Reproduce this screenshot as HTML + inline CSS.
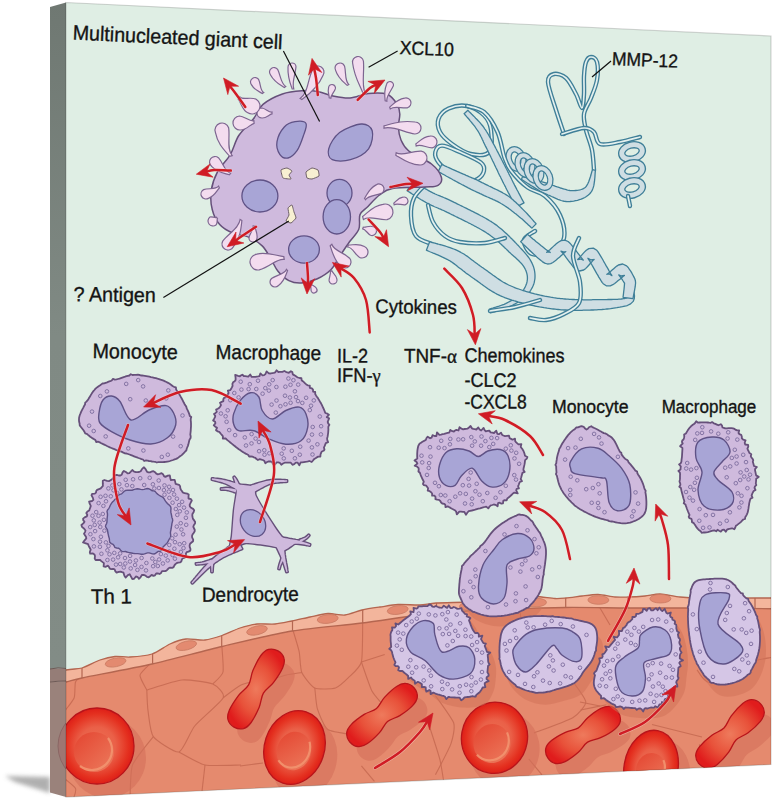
<!DOCTYPE html>
<html><head><meta charset="utf-8"><style>
html,body{margin:0;padding:0;background:#fff;width:772px;height:800px;overflow:hidden}
svg{display:block}
text{font-family:"Liberation Sans",sans-serif;fill:#141414;stroke:#141414;stroke-width:0.35px}
</style></head><body>
<svg width="772" height="800" viewBox="0 0 772 800">
<defs>
<clipPath id="face"><polygon points="66.0,2.5 771.0,36.0 771.0,764.5 66.0,797.0"/></clipPath>
<radialGradient id="rbc" cx="50%" cy="50%" r="50%"><stop offset="0" stop-color="#ec7254"/><stop offset="0.5" stop-color="#ea6048"/><stop offset="0.85" stop-color="#e4301f"/><stop offset="1" stop-color="#de1e18"/></radialGradient>
<linearGradient id="rbcin" x1="0" y1="0" x2="1" y2="1"><stop offset="0" stop-color="#e44430"/><stop offset="1" stop-color="#ec7c5e"/></linearGradient>
<radialGradient id="caps" cx="50%" cy="50%" r="55%"><stop offset="0" stop-color="#ee7a5c"/><stop offset="0.55" stop-color="#e8523a"/><stop offset="1" stop-color="#e01c1c"/></radialGradient>
<linearGradient id="shadowg" x1="0" y1="0" x2="1" y2="0"><stop offset="0" stop-color="#fff" stop-opacity="0"/><stop offset="1" stop-color="#888" stop-opacity="0.5"/></linearGradient>
<filter id="blur4" x="-50%" y="-50%" width="200%" height="200%"><feGaussianBlur stdDeviation="4"/></filter>
</defs>
<rect width="772" height="800" fill="#ffffff"/>
<filter id="blur2" x="-50%" y="-50%" width="200%" height="200%"><feGaussianBlur stdDeviation="2"/></filter>
<path d="M5,776 L50,777 L50,793 L15,782 Z" fill="#9c9c9c" opacity="0.8" filter="url(#blur2)"/>
<linearGradient id="sideg" x1="0" y1="0" x2="0" y2="1"><stop offset="0" stop-color="#6f7872"/><stop offset="0.5" stop-color="#808a84"/><stop offset="1" stop-color="#828c86"/></linearGradient>
<polygon points="50,7 66,2.5 66,668.5 50,669" fill="url(#sideg)"/>
<polygon points="50,669 66,668.5 66,681 50,682" fill="#957d77"/>
<polygon points="50,682 66,681 66,797 50,792.6" fill="#9a827b"/>
<path d="M50,669 Q58,667 66,668.5 M50,682 Q58,681 66,681" stroke="#6e5a56" stroke-width="1" fill="none"/>
<clipPath id="side"><polygon points="50,7 66,2.5 66,797 50,792.6"/></clipPath>
<g clip-path="url(#side)"><ellipse cx="97" cy="746" rx="39" ry="38" fill="#9e7672"/><ellipse cx="97" cy="746" rx="39" ry="38" fill="none" stroke="#8a6664" stroke-width="1"/></g>
<g clip-path="url(#face)">
<rect x="0" y="0" width="772" height="800" fill="#dfeee4"/>
<path d="M30.0,678.0 C34.8,676.9 59.1,671.3 66.0,670.0 C72.9,668.7 77.5,669.3 82.0,668.0 C86.5,666.7 95.6,661.5 100.0,660.0 C104.4,658.5 111.0,656.9 115.0,656.5 C119.0,656.1 125.1,657.3 130.0,657.0 C134.9,656.7 146.7,655.7 152.0,654.0 C157.3,652.3 165.5,646.0 170.0,644.0 C174.5,642.0 181.3,639.5 186.0,639.0 C190.7,638.5 200.2,640.5 205.0,640.0 C209.8,639.5 217.3,637.1 222.0,635.5 C226.7,633.9 235.3,629.5 240.0,628.0 C244.7,626.5 252.3,624.5 257.0,624.0 C261.7,623.5 270.3,624.4 275.0,624.0 C279.7,623.6 287.3,621.9 292.0,621.0 C296.7,620.1 305.2,618.0 310.0,617.0 C314.8,616.0 323.3,613.8 328.0,613.5 C332.7,613.2 340.5,615.5 345.0,615.0 C349.5,614.5 357.3,611.1 362.0,610.0 C366.7,608.9 375.2,607.7 380.0,607.0 C384.8,606.3 392.7,604.8 398.0,604.5 C403.3,604.2 414.9,605.2 420.0,605.0 C425.1,604.8 429.3,603.4 436.0,603.0 C442.7,602.6 461.5,602.4 470.0,602.0 C478.5,601.6 493.3,600.5 500.0,600.0 C506.7,599.5 515.2,598.5 520.0,598.0 C524.8,597.5 531.3,596.4 536.0,596.5 C540.7,596.6 551.0,598.3 555.0,598.5 C559.0,598.7 562.4,598.3 566.0,598.0 C569.6,597.7 577.7,596.5 582.0,596.0 C586.3,595.5 593.6,594.4 598.0,594.5 C602.4,594.6 611.0,596.7 615.0,597.0 C619.0,597.3 624.0,597.1 628.0,597.0 C632.0,596.9 640.7,596.4 645.0,596.0 C649.3,595.6 655.3,593.9 660.0,594.0 C664.7,594.1 674.7,596.5 680.0,597.0 C685.3,597.5 690.0,597.9 700.0,598.0 C710.0,598.1 743.0,598.0 755.0,598.0 C767.0,598.0 785.3,598.0 790.0,598.0 L780,810 L30,810 Z" fill="#e58a6e"/>
<path d="M152.0,662.0 C150.8,663.3 140.5,672.2 140.0,675.0 C139.5,677.8 146.1,688.5 146.8,690.0" fill="none" stroke="#c66a52" stroke-width="1.1" opacity="0.9"/>
<path d="M146.8,690.0 C150.3,689.0 175.2,680.6 181.8,680.0 C188.4,679.4 208.7,682.2 212.8,684.0 C216.9,685.8 225.0,693.5 223.2,697.7 C221.4,701.9 199.1,720.6 194.7,726.0 C190.3,731.4 183.1,750.9 179.0,752.0 C174.9,753.1 156.4,740.7 153.3,736.6 C150.2,732.5 148.7,715.4 148.0,710.7 C147.3,706.0 146.9,692.1 146.8,690.0" fill="none" stroke="#c66a52" stroke-width="1.1" opacity="0.9"/>
<path d="M221.7,644.0 C221.8,646.8 223.9,668.0 223.0,672.0 C222.1,676.0 213.8,682.8 212.8,684.0" fill="none" stroke="#c66a52" stroke-width="1.1" opacity="0.9"/>
<path d="M223.2,697.7 C225.0,696.4 237.3,686.8 241.0,685.0 C244.7,683.2 258.1,680.5 260.0,680.0" fill="none" stroke="#c66a52" stroke-width="1.1" opacity="0.9"/>
<path d="M179.0,752.0 C181.6,753.3 198.8,763.7 205.0,765.0 C211.2,766.3 237.4,765.0 241.0,765.0" fill="none" stroke="#c66a52" stroke-width="1.1" opacity="0.9"/>
<path d="M205.0,765.0 C204.6,768.5 201.4,796.5 201.0,800.0" fill="none" stroke="#c66a52" stroke-width="1.1" opacity="0.9"/>
<path d="M153.3,736.6 C151.2,739.4 134.8,758.7 132.5,765.0 C130.2,771.3 130.2,796.5 130.0,800.0" fill="none" stroke="#c66a52" stroke-width="1.1" opacity="0.9"/>
<path d="M82.0,676.0 C81.3,676.6 76.3,679.8 75.5,682.0 C74.7,684.2 75.2,694.8 74.2,697.7 C73.2,700.6 65.9,709.4 65.0,710.7" fill="none" stroke="#c66a52" stroke-width="1.1" opacity="0.9"/>
<path d="M60.0,775.0 C61.5,776.3 74.2,785.9 75.5,788.4 C76.8,790.9 73.2,798.8 73.0,800.0" fill="none" stroke="#c66a52" stroke-width="1.1" opacity="0.9"/>
<path d="M292.5,628.7 C293.2,631.0 298.3,647.4 299.2,651.8 C300.1,656.2 300.2,668.9 301.8,672.5 C303.4,676.1 311.4,686.5 314.8,688.0 C318.2,689.5 332.1,689.0 335.5,688.0 C338.9,687.0 345.8,680.3 348.4,677.7 C351.0,675.1 360.0,667.8 361.4,662.0 C362.8,656.2 362.6,624.2 362.7,620.0" fill="none" stroke="#c66a52" stroke-width="1.1" opacity="0.9"/>
<path d="M361.4,662.0 C363.7,661.2 382.4,655.2 384.7,654.4" fill="none" stroke="#c66a52" stroke-width="1.1" opacity="0.9"/>
<path d="M301.8,672.5 C300.2,672.8 289.5,674.2 286.3,675.0 C283.1,675.8 271.6,679.5 270.0,680.0" fill="none" stroke="#c66a52" stroke-width="1.1" opacity="0.9"/>
<path d="M314.8,688.0 C315.1,690.1 316.1,704.6 317.4,708.8 C318.7,712.9 324.1,726.9 327.7,729.5 C331.3,732.1 351.0,734.2 353.6,734.7" fill="none" stroke="#c66a52" stroke-width="1.1" opacity="0.9"/>
<path d="M361.4,662.0 C362.4,664.9 369.7,686.5 371.8,690.7 C373.9,694.9 381.0,702.3 382.0,703.6" fill="none" stroke="#c66a52" stroke-width="1.1" opacity="0.9"/>
<path d="M240.0,766.0 C242.3,765.7 260.7,763.3 263.0,763.0" fill="none" stroke="#c66a52" stroke-width="1.1" opacity="0.9"/>
<path d="M361.4,765.8 C362.7,767.3 373.1,779.8 374.4,781.3" fill="none" stroke="#c66a52" stroke-width="1.1" opacity="0.9"/>
<path d="M428.8,724.4 C429.9,728.0 438.4,753.4 440.0,760.0 C441.6,766.6 444.5,787.0 445.0,790.0" fill="none" stroke="#c66a52" stroke-width="1.1" opacity="0.9"/>
<path d="M435.5,695.7 C437.3,698.4 452.1,718.2 453.7,723.0 C455.2,727.8 452.8,738.4 451.0,743.6 C449.2,748.8 437.1,771.6 435.5,774.7" fill="none" stroke="#c66a52" stroke-width="1.1" opacity="0.9"/>
<path d="M534.0,733.0 C537.9,731.5 567.6,720.8 572.8,717.7 C578.0,714.6 585.8,705.6 585.8,702.0 C585.8,698.4 574.1,683.5 572.8,681.5" fill="none" stroke="#c66a52" stroke-width="1.1" opacity="0.9"/>
<path d="M580.6,710.0 C583.2,709.5 603.9,705.3 606.5,704.8" fill="none" stroke="#c66a52" stroke-width="1.1" opacity="0.9"/>
<path d="M528.8,759.0 C530.1,760.6 540.5,773.1 541.8,774.7" fill="none" stroke="#c66a52" stroke-width="1.1" opacity="0.9"/>
<path d="M580.0,702.0 C582.0,702.4 598.0,705.6 600.0,706.0" fill="none" stroke="#c66a52" stroke-width="1.1" opacity="0.9"/>
<path d="M652.0,724.5 C657.0,725.8 697.0,735.8 702.0,737.0" fill="none" stroke="#c66a52" stroke-width="1.1" opacity="0.9"/>
<path d="M697.0,669.8 C698.2,671.0 704.2,683.0 709.4,682.2 C714.6,681.5 742.7,664.8 749.0,662.3 C755.3,659.8 769.7,657.8 772.0,657.3" fill="none" stroke="#c66a52" stroke-width="1.1" opacity="0.9"/>
<path d="M699.4,744.4 C699.9,746.9 703.9,766.5 704.4,769.0" fill="none" stroke="#c66a52" stroke-width="1.1" opacity="0.9"/>
<path d="M600.0,608.0 C601.0,609.7 609.0,623.3 610.0,625.0" fill="none" stroke="#c66a52" stroke-width="1.1" opacity="0.9"/>
<path d="M520.0,612.0 C520.2,613.3 521.8,623.7 522.0,625.0" fill="none" stroke="#c66a52" stroke-width="1.1" opacity="0.9"/>
<path d="M30.0,678.0 C34.8,676.9 59.1,671.3 66.0,670.0 C72.9,668.7 77.5,669.3 82.0,668.0 C86.5,666.7 95.6,661.5 100.0,660.0 C104.4,658.5 111.0,656.9 115.0,656.5 C119.0,656.1 125.1,657.3 130.0,657.0 C134.9,656.7 146.7,655.7 152.0,654.0 C157.3,652.3 165.5,646.0 170.0,644.0 C174.5,642.0 181.3,639.5 186.0,639.0 C190.7,638.5 200.2,640.5 205.0,640.0 C209.8,639.5 217.3,637.1 222.0,635.5 C226.7,633.9 235.3,629.5 240.0,628.0 C244.7,626.5 252.3,624.5 257.0,624.0 C261.7,623.5 270.3,624.4 275.0,624.0 C279.7,623.6 287.3,621.9 292.0,621.0 C296.7,620.1 305.2,618.0 310.0,617.0 C314.8,616.0 323.3,613.8 328.0,613.5 C332.7,613.2 340.5,615.5 345.0,615.0 C349.5,614.5 357.3,611.1 362.0,610.0 C366.7,608.9 375.2,607.7 380.0,607.0 C384.8,606.3 392.7,604.8 398.0,604.5 C403.3,604.2 414.9,605.2 420.0,605.0 C425.1,604.8 429.3,603.4 436.0,603.0 C442.7,602.6 461.5,602.4 470.0,602.0 C478.5,601.6 493.3,600.5 500.0,600.0 C506.7,599.5 515.2,598.5 520.0,598.0 C524.8,597.5 531.3,596.4 536.0,596.5 C540.7,596.6 551.0,598.3 555.0,598.5 C559.0,598.7 562.4,598.3 566.0,598.0 C569.6,597.7 577.7,596.5 582.0,596.0 C586.3,595.5 593.6,594.4 598.0,594.5 C602.4,594.6 611.0,596.7 615.0,597.0 C619.0,597.3 624.0,597.1 628.0,597.0 C632.0,596.9 640.7,596.4 645.0,596.0 C649.3,595.6 655.3,593.9 660.0,594.0 C664.7,594.1 674.7,596.5 680.0,597.0 C685.3,597.5 690.0,597.9 700.0,598.0 C710.0,598.1 743.0,598.0 755.0,598.0 C767.0,598.0 785.3,598.0 790.0,598.0 L790.0,609.0 C778.0,608.9 721.6,608.1 700.0,608.0 C678.4,607.9 645.9,608.1 628.0,608.0 C610.1,607.9 583.1,607.3 566.0,607.5 C548.9,607.7 517.3,608.8 500.0,609.5 C482.7,610.2 454.4,611.2 436.0,613.0 C417.6,614.8 381.2,620.6 362.0,623.0 C342.8,625.4 310.7,627.9 292.0,631.0 C273.3,634.1 240.7,642.1 222.0,646.5 C203.3,650.9 170.7,659.8 152.0,664.0 C133.3,668.2 93.5,675.6 82.0,678.0 C70.5,680.4 72.9,680.3 66.0,682.0 C59.1,683.7 34.8,689.8 30.0,691.0 Z" fill="#f3b59c" stroke="#b46650" stroke-width="1.3"/>
<line x1="82.0" y1="668.0" x2="82.0" y2="678.0" stroke="#b46650" stroke-width="1.2"/>
<line x1="152.6" y1="653.7" x2="152.6" y2="663.9" stroke="#b46650" stroke-width="1.2"/>
<line x1="221.7" y1="635.6" x2="221.7" y2="646.6" stroke="#b46650" stroke-width="1.2"/>
<line x1="292.5" y1="620.9" x2="292.5" y2="630.9" stroke="#b46650" stroke-width="1.2"/>
<line x1="362.7" y1="609.9" x2="362.7" y2="622.9" stroke="#b46650" stroke-width="1.2"/>
<line x1="436.5" y1="603.0" x2="436.5" y2="613.0" stroke="#b46650" stroke-width="1.2"/>
<line x1="500.0" y1="600.0" x2="500.0" y2="609.5" stroke="#b46650" stroke-width="1.2"/>
<line x1="565.7" y1="598.0" x2="565.7" y2="607.5" stroke="#b46650" stroke-width="1.2"/>
<line x1="627.7" y1="597.0" x2="627.7" y2="608.0" stroke="#b46650" stroke-width="1.2"/>
<line x1="755.0" y1="598.0" x2="755.0" y2="608.6" stroke="#b46650" stroke-width="1.2"/>
<ellipse cx="115.6" cy="662.4" rx="10.5" ry="4.3" fill="#e38a70" stroke="#c97a62" stroke-width="0.8" transform="rotate(-11.3 115.6 662.4)"/>
<ellipse cx="186.3" cy="645.6" rx="10.5" ry="4.3" fill="#e38a70" stroke="#c97a62" stroke-width="0.8" transform="rotate(-14.0 186.3 645.6)"/>
<ellipse cx="257.0" cy="630.4" rx="10.5" ry="4.3" fill="#e38a70" stroke="#c97a62" stroke-width="0.8" transform="rotate(-12.5 257.0 630.4)"/>
<ellipse cx="327.7" cy="619.0" rx="10.5" ry="4.3" fill="#e38a70" stroke="#c97a62" stroke-width="0.8" transform="rotate(-6.5 327.7 619.0)"/>
<ellipse cx="397.7" cy="610.0" rx="10.5" ry="4.3" fill="#e38a70" stroke="#c97a62" stroke-width="0.8" transform="rotate(-7.7 397.7 610.0)"/>
<ellipse cx="470.0" cy="606.0" rx="10.5" ry="4.3" fill="#e38a70" stroke="#c97a62" stroke-width="0.8" transform="rotate(-3.1 470.0 606.0)"/>
<ellipse cx="536.0" cy="602.6" rx="10.5" ry="4.3" fill="#e38a70" stroke="#c97a62" stroke-width="0.8" transform="rotate(-1.7 536.0 602.6)"/>
<ellipse cx="598.4" cy="600.0" rx="10.5" ry="4.3" fill="#e38a70" stroke="#c97a62" stroke-width="0.8" transform="rotate(0.5 598.4 600.0)"/>
<ellipse cx="660.4" cy="598.7" rx="10.5" ry="4.3" fill="#e38a70" stroke="#c97a62" stroke-width="0.8" transform="rotate(0.0 660.4 598.7)"/>
<ellipse cx="107.0" cy="758.0" rx="39.0" ry="40.0" fill="#d3705a" opacity="0.6" transform="rotate(0 107.0 758.0)"/><ellipse cx="97.0" cy="746.0" rx="37.0" ry="38.0" fill="url(#rbc)" stroke="#b8141a" stroke-width="1.3" transform="rotate(0 97.0 746.0)"/><ellipse cx="94.0" cy="752.0" rx="20.0" ry="20.0" fill="url(#rbcin)" transform="rotate(0 94.0 752.0)"/><path d="M108.0,738.0 A20.0,20.0 0 0 1 80.0,766.0" fill="none" stroke="#f2946f" stroke-width="2.2" opacity="0.9" transform="rotate(0 94.0 752.0)"/>
<path d="M261.8,736.3 C264.4,732.8 267.6,726.0 269.7,721.3 C271.8,716.5 271.9,711.8 274.2,707.8 C276.6,703.7 280.6,701.3 283.7,697.1 C286.8,692.9 291.0,686.7 292.8,682.7 C294.5,678.6 295.1,675.7 294.3,672.7 C293.5,669.8 290.7,666.5 288.0,664.9 C285.3,663.3 281.0,662.6 278.1,663.4 C275.1,664.2 272.9,666.1 270.2,669.7 C267.6,673.2 264.4,680.0 262.3,684.7 C260.2,689.5 260.1,694.2 257.8,698.2 C255.4,702.3 251.4,704.7 248.3,708.9 C245.2,713.1 241.0,719.3 239.2,723.3 C237.5,727.4 236.9,730.3 237.7,733.3 C238.5,736.2 241.3,739.5 244.0,741.1 C246.7,742.7 251.0,743.4 253.9,742.6 C256.9,741.8 259.1,739.9 261.8,736.3Z" fill="#d3705a" opacity="0.6"/><path d="M251.1,722.5 C253.7,719.0 257.1,712.1 259.2,707.2 C261.2,702.3 261.0,697.3 263.4,693.2 C265.7,689.2 270.2,686.9 273.4,682.7 C276.6,678.4 280.8,672.0 282.6,668.0 C284.4,663.9 284.8,661.3 284.0,658.4 C283.3,655.6 280.6,652.4 278.0,650.9 C275.4,649.4 271.3,648.7 268.5,649.4 C265.6,650.2 263.5,651.9 260.9,655.5 C258.3,659.0 254.9,665.9 252.8,670.8 C250.8,675.7 251.0,680.7 248.6,684.8 C246.3,688.8 241.8,691.1 238.6,695.3 C235.4,699.6 231.2,706.0 229.4,710.0 C227.6,714.1 227.2,716.7 228.0,719.6 C228.7,722.4 231.4,725.6 234.0,727.1 C236.6,728.6 240.7,729.3 243.5,728.6 C246.4,727.8 248.5,726.1 251.1,722.5Z" fill="url(#caps)" stroke="#b8141a" stroke-width="1.3"/>
<ellipse cx="304.5" cy="759.5" rx="32.0" ry="39.5" fill="#d3705a" opacity="0.6" transform="rotate(18 304.5 759.5)"/><ellipse cx="294.5" cy="747.5" rx="30.0" ry="37.5" fill="url(#rbc)" stroke="#b8141a" stroke-width="1.3" transform="rotate(18 294.5 747.5)"/><ellipse cx="294.0" cy="751.0" rx="17.0" ry="19.5" fill="url(#rbcin)" transform="rotate(18 294.0 751.0)"/><path d="M305.9,737.4 A17.0,19.5 0 0 1 282.1,764.6" fill="none" stroke="#f2946f" stroke-width="2.2" opacity="0.9" transform="rotate(18 294.0 751.0)"/>
<path d="M378.1,757.6 C381.7,755.3 386.6,750.4 389.9,746.8 C393.3,743.3 394.8,739.1 398.1,736.3 C401.4,733.5 405.9,732.7 409.9,730.1 C414.0,727.4 419.7,723.4 422.6,720.3 C425.5,717.2 427.1,714.6 427.4,711.5 C427.7,708.5 426.2,704.4 424.2,702.0 C422.2,699.6 418.4,697.4 415.4,697.2 C412.3,696.9 409.4,698.1 405.9,700.4 C402.3,702.7 397.4,707.6 394.1,711.2 C390.7,714.7 389.2,718.9 385.9,721.7 C382.6,724.5 378.1,725.3 374.1,727.9 C370.0,730.6 364.3,734.6 361.4,737.7 C358.5,740.8 356.9,743.4 356.6,746.5 C356.3,749.5 357.8,753.6 359.8,756.0 C361.8,758.4 365.6,760.6 368.6,760.8 C371.7,761.1 374.6,759.9 378.1,757.6Z" fill="#d3705a" opacity="0.6"/><path d="M367.4,743.5 C371.0,741.2 376.1,736.3 379.5,732.6 C382.8,729.0 384.1,724.4 387.5,721.5 C390.9,718.7 395.6,718.2 399.8,715.6 C404.0,712.9 409.7,708.7 412.6,705.6 C415.5,702.5 417.0,700.1 417.3,697.1 C417.5,694.2 416.1,690.3 414.2,688.0 C412.2,685.7 408.6,683.6 405.7,683.4 C402.8,683.1 400.1,684.1 396.6,686.5 C393.0,688.8 387.9,693.7 384.5,697.4 C381.2,701.0 379.9,705.6 376.5,708.5 C373.1,711.3 368.4,711.8 364.2,714.4 C360.0,717.1 354.3,721.3 351.4,724.4 C348.5,727.5 347.0,729.9 346.7,732.9 C346.5,735.8 347.9,739.7 349.8,742.0 C351.8,744.3 355.4,746.4 358.3,746.6 C361.2,746.9 363.9,745.9 367.4,743.5Z" fill="url(#caps)" stroke="#b8141a" stroke-width="1.3"/>
<ellipse cx="504.5" cy="749.7" rx="35.0" ry="37.7" fill="#d3705a" opacity="0.6" transform="rotate(10 504.5 749.7)"/><ellipse cx="494.5" cy="737.7" rx="33.0" ry="35.7" fill="url(#rbc)" stroke="#b8141a" stroke-width="1.3" transform="rotate(10 494.5 737.7)"/><ellipse cx="492.0" cy="743.5" rx="18.5" ry="19.5" fill="url(#rbcin)" transform="rotate(10 492.0 743.5)"/><path d="M504.9,729.9 A18.5,19.5 0 0 1 479.1,757.1" fill="none" stroke="#f2946f" stroke-width="2.2" opacity="0.9" transform="rotate(10 492.0 743.5)"/>
<path d="M575.8,775.7 C579.6,773.8 585.0,769.6 588.8,766.5 C592.5,763.3 594.5,759.3 598.2,757.0 C601.8,754.6 606.3,754.4 610.7,752.3 C615.0,750.1 621.1,746.8 624.4,744.1 C627.7,741.4 629.6,739.0 630.3,736.0 C630.9,733.0 629.9,728.7 628.2,726.1 C626.5,723.5 623.1,720.9 620.1,720.3 C617.1,719.6 614.1,720.4 610.2,722.3 C606.4,724.2 601.0,728.4 597.2,731.5 C593.5,734.7 591.5,738.7 587.8,741.0 C584.2,743.4 579.7,743.6 575.3,745.7 C571.0,747.9 564.9,751.2 561.6,753.9 C558.3,756.6 556.4,759.0 555.7,762.0 C555.1,765.0 556.1,769.3 557.8,771.9 C559.5,774.5 562.9,777.1 565.9,777.7 C568.9,778.4 571.9,777.6 575.8,775.7Z" fill="#d3705a" opacity="0.6"/><path d="M565.1,761.6 C568.9,759.7 574.6,755.4 578.3,752.2 C582.1,749.0 583.9,744.5 587.6,742.1 C591.3,739.7 596.1,739.8 600.6,737.7 C605.1,735.6 611.3,732.1 614.5,729.4 C617.8,726.7 619.6,724.5 620.2,721.6 C620.8,718.7 619.9,714.6 618.2,712.1 C616.6,709.6 613.3,707.1 610.4,706.5 C607.5,705.9 604.7,706.6 600.9,708.4 C597.1,710.3 591.4,714.6 587.7,717.8 C583.9,721.0 582.1,725.5 578.4,727.9 C574.7,730.3 569.9,730.2 565.4,732.3 C560.9,734.4 554.7,737.9 551.5,740.6 C548.2,743.3 546.4,745.5 545.8,748.4 C545.2,751.3 546.1,755.4 547.8,757.9 C549.4,760.4 552.7,762.9 555.6,763.5 C558.5,764.1 561.3,763.4 565.1,761.6Z" fill="url(#caps)" stroke="#b8141a" stroke-width="1.3"/>
<ellipse cx="661.0" cy="780.0" rx="29.0" ry="40.0" fill="#d3705a" opacity="0.6" transform="rotate(10 661.0 780.0)"/><ellipse cx="651.0" cy="768.0" rx="27.0" ry="38.0" fill="url(#rbc)" stroke="#b8141a" stroke-width="1.3" transform="rotate(10 651.0 768.0)"/><ellipse cx="651.0" cy="770.0" rx="15.0" ry="17.0" fill="url(#rbcin)" transform="rotate(10 651.0 770.0)"/><path d="M661.5,758.1 A15.0,17.0 0 0 1 640.5,781.9" fill="none" stroke="#f2946f" stroke-width="2.2" opacity="0.9" transform="rotate(10 651.0 770.0)"/>
<path d="M728.0,778.4 C731.4,775.7 736.1,770.2 739.2,766.3 C742.3,762.3 743.5,757.9 746.7,754.7 C749.9,751.5 754.3,750.3 758.3,747.2 C762.2,744.1 767.7,739.4 770.4,736.0 C773.1,732.6 774.5,729.9 774.5,726.8 C774.5,723.7 772.6,719.8 770.4,717.6 C768.2,715.4 764.3,713.5 761.2,713.5 C758.1,713.5 755.4,714.9 752.0,717.6 C748.6,720.3 743.9,725.8 740.8,729.7 C737.7,733.7 736.5,738.1 733.3,741.3 C730.1,744.5 725.7,745.7 721.7,748.8 C717.8,751.9 712.3,756.6 709.6,760.0 C706.9,763.4 705.5,766.1 705.5,769.2 C705.5,772.3 707.4,776.2 709.6,778.4 C711.8,780.6 715.7,782.5 718.8,782.5 C721.9,782.5 724.6,781.1 728.0,778.4Z" fill="#d3705a" opacity="0.6"/><path d="M717.3,764.4 C720.6,761.7 725.6,756.2 728.7,752.1 C731.8,748.0 732.8,743.2 736.0,740.0 C739.2,736.8 744.0,735.8 748.1,732.7 C752.2,729.6 757.7,724.6 760.4,721.3 C763.1,717.9 764.3,715.4 764.3,712.4 C764.3,709.5 762.5,705.7 760.4,703.6 C758.3,701.5 754.5,699.7 751.6,699.7 C748.6,699.7 746.1,700.9 742.7,703.6 C739.4,706.3 734.4,711.8 731.3,715.9 C728.2,720.0 727.2,724.8 724.0,728.0 C720.8,731.2 716.0,732.2 711.9,735.3 C707.8,738.4 702.3,743.4 699.6,746.7 C696.9,750.1 695.7,752.6 695.7,755.6 C695.7,758.5 697.5,762.3 699.6,764.4 C701.7,766.5 705.5,768.3 708.4,768.3 C711.4,768.3 713.9,767.1 717.3,764.4Z" fill="url(#caps)" stroke="#b8141a" stroke-width="1.3"/>
<clipPath id="tissueclip"><path d="M30.0,691.0 C34.8,689.8 59.1,683.7 66.0,682.0 C72.9,680.3 70.5,680.4 82.0,678.0 C93.5,675.6 133.3,668.2 152.0,664.0 C170.7,659.8 203.3,650.9 222.0,646.5 C240.7,642.1 273.3,634.1 292.0,631.0 C310.7,627.9 342.8,625.4 362.0,623.0 C381.2,620.6 417.6,614.8 436.0,613.0 C454.4,611.2 482.7,610.2 500.0,609.5 C517.3,608.8 548.9,607.7 566.0,607.5 C583.1,607.3 610.1,607.9 628.0,608.0 C645.9,608.1 678.4,607.9 700.0,608.0 C721.6,608.1 778.0,608.9 790.0,609.0 L780,810 L30,810 Z"/></clipPath>
<g clip-path="url(#tissueclip)" fill="#d2735a" opacity="0.55">
<path d="M390.7,634.9 C391.2,629.7 392.8,629.9 396.4,626.3 C400.0,622.7 407.8,616.8 412.1,613.5 C416.4,610.2 417.0,607.4 422.0,606.4 C427.0,605.4 435.8,607.3 442.0,607.8 C448.2,608.3 454.8,607.5 459.1,609.2 C463.4,610.9 465.2,614.2 467.6,617.8 C470.0,621.4 470.9,626.8 473.3,630.6 C475.7,634.4 479.5,636.6 481.9,640.6 C484.3,644.6 486.7,649.8 487.6,654.8 C488.6,659.8 488.1,665.8 487.6,670.5 C487.1,675.2 486.6,679.3 484.7,683.3 C482.8,687.3 480.9,692.3 476.2,694.7 C471.4,697.1 463.1,697.8 456.2,697.6 C449.3,697.4 440.8,695.7 434.9,693.3 C429.0,690.9 425.8,686.8 420.6,683.3 C415.4,679.8 408.0,676.3 403.5,672.0 C399.0,667.7 395.6,663.9 393.5,657.7 C391.4,651.5 390.2,640.1 390.7,634.9Z" transform="translate(8 10)"/>
<path d="M503.9,628.0 C506.5,624.5 510.8,622.2 515.5,620.2 C520.2,618.2 525.3,616.8 532.4,616.3 C539.5,615.8 550.8,616.4 558.3,617.0 C565.8,617.6 571.9,618.8 577.7,620.2 C583.5,621.6 590.0,622.4 593.3,625.4 C596.5,628.4 597.2,632.9 597.2,638.3 C597.2,643.7 595.5,652.3 593.3,657.7 C591.1,663.1 587.2,666.6 584.2,670.7 C581.2,674.8 579.4,679.4 575.1,682.4 C570.8,685.4 564.3,687.1 558.3,688.8 C552.3,690.5 545.4,692.9 538.9,692.7 C532.4,692.5 525.0,690.5 519.4,687.5 C513.8,684.5 508.4,679.1 505.2,674.6 C502.0,670.1 500.9,665.9 500.0,660.3 C499.1,654.7 499.4,646.4 500.0,641.0 C500.6,635.6 501.3,631.5 503.9,628.0Z" transform="translate(6 12)"/>
<path d="M639.5,613.5 C643.2,611.2 645.8,610.8 650.0,610.5 C654.2,610.2 661.0,610.0 665.0,612.0 C669.0,614.0 671.8,618.2 674.0,622.5 C676.2,626.8 677.5,632.5 678.5,637.5 C679.5,642.5 680.0,647.5 680.0,652.5 C680.0,657.5 679.2,662.2 678.5,667.5 C677.8,672.8 678.2,678.2 675.5,684.0 C672.8,689.8 666.8,698.0 662.0,702.0 C657.2,706.0 654.0,707.2 647.0,708.0 C640.0,708.8 627.0,708.0 620.0,706.5 C613.0,705.0 609.2,702.2 605.0,699.0 C600.8,695.8 596.0,691.5 594.5,687.0 C593.0,682.5 594.2,677.8 596.0,672.0 C597.8,666.2 601.5,658.2 605.0,652.5 C608.5,646.8 613.2,642.2 617.0,637.5 C620.8,632.8 623.8,628.0 627.5,624.0 C631.2,620.0 635.8,615.8 639.5,613.5Z" transform="translate(8 10)"/>
<path d="M695.0,582.0 C698.3,579.2 704.5,579.3 710.0,579.0 C715.5,578.7 723.0,577.8 728.0,580.0 C733.0,582.2 736.0,587.7 740.0,592.0 C744.0,596.3 748.8,600.3 752.0,606.0 C755.2,611.7 757.8,618.7 759.0,626.0 C760.2,633.3 760.5,642.3 759.0,650.0 C757.5,657.7 753.8,666.7 750.0,672.0 C746.2,677.3 741.7,680.0 736.0,682.0 C730.3,684.0 721.7,685.7 716.0,684.0 C710.3,682.3 706.0,677.7 702.0,672.0 C698.0,666.3 694.3,658.7 692.0,650.0 C689.7,641.3 688.3,629.0 688.0,620.0 C687.7,611.0 688.8,602.3 690.0,596.0 C691.2,589.7 691.7,584.8 695.0,582.0Z" transform="translate(6 12)"/>
<path d="M459.0,589.0 C459.2,584.0 460.2,573.2 462.0,568.0 C463.8,562.8 466.0,561.5 469.5,557.5 C473.0,553.5 478.8,548.8 483.0,544.0 C487.2,539.2 490.0,533.5 495.0,529.0 C500.0,524.5 508.0,519.2 513.0,517.0 C518.0,514.8 521.5,514.2 525.0,515.5 C528.5,516.8 531.0,520.5 534.0,524.5 C537.0,528.5 541.0,534.8 543.0,539.5 C545.0,544.2 546.0,546.8 546.0,553.0 C546.0,559.2 544.0,570.5 543.0,577.0 C542.0,583.5 542.5,587.0 540.0,592.0 C537.5,597.0 533.0,603.2 528.0,607.0 C523.0,610.8 516.8,613.0 510.0,614.5 C503.2,616.0 494.5,617.0 487.5,616.0 C480.5,615.0 472.5,611.5 468.0,608.5 C463.5,605.5 462.0,601.2 460.5,598.0 C459.0,594.8 458.8,594.0 459.0,589.0Z" transform="translate(6 10)"/>
</g>
<path d="M390.4,634.9 L390.9,632.6 L391.6,631.1 L392.4,630.0 L392.0,627.3 L394.7,627.7 L396.1,626.0 L395.4,623.4 L398.3,624.5 L399.5,623.5 L400.7,622.5 L402.0,621.4 L403.3,620.3 L404.7,619.3 L406.0,618.2 L407.4,617.2 L408.7,616.2 L409.9,615.2 L410.9,614.1 L410.3,611.3 L413.5,612.2 L413.8,610.2 L413.5,607.8 L416.5,608.7 L417.6,608.0 L418.4,606.4 L420.1,606.3 L422.0,606.4 L423.2,606.2 L424.5,606.1 L426.0,606.1 L427.5,606.2 L429.2,604.5 L430.9,604.9 L432.4,606.7 L434.1,606.9 L435.9,606.0 L437.4,606.8 L439.0,607.5 L440.5,607.7 L442.0,607.8 L443.8,605.6 L445.4,606.9 L447.1,607.9 L448.8,605.2 L450.5,608.0 L452.1,608.1 L453.7,607.0 L455.2,607.5 L456.6,608.5 L457.9,608.8 L459.3,608.7 L461.5,608.2 L462.0,610.6 L463.0,611.7 L464.1,612.8 L465.0,613.9 L467.0,614.4 L466.7,616.5 L468.7,617.1 L470.4,618.0 L469.0,620.4 L469.6,621.9 L470.2,623.4 L470.7,624.9 L471.3,626.4 L471.9,627.9 L472.6,629.3 L473.3,630.6 L474.3,632.0 L475.3,633.2 L477.8,633.0 L478.8,634.3 L478.8,636.7 L482.4,635.7 L481.0,639.1 L481.9,640.6 L482.6,641.8 L483.4,643.1 L485.9,643.6 L484.7,645.9 L485.3,647.3 L485.9,648.8 L486.4,650.3 L486.9,651.8 L490.3,652.6 L487.7,654.8 L487.8,656.3 L488.0,657.9 L488.1,659.5 L488.1,661.1 L488.5,662.7 L489.7,664.4 L488.0,666.0 L487.9,667.5 L487.7,669.0 L487.6,670.5 L487.4,672.2 L488.5,674.1 L488.6,675.8 L486.7,677.2 L486.5,678.8 L488.7,681.2 L486.1,682.1 L484.7,683.3 L484.8,685.0 L485.4,687.1 L482.7,687.5 L481.9,688.9 L481.1,690.3 L480.1,691.6 L479.0,692.8 L477.7,693.8 L476.3,694.9 L475.6,696.6 L474.0,696.5 L472.4,696.1 L470.9,696.5 L469.4,696.8 L467.8,697.0 L466.2,697.2 L464.5,697.4 L462.9,699.2 L461.2,700.3 L459.5,697.6 L457.8,697.6 L456.2,697.6 L454.7,697.5 L453.2,697.4 L451.6,697.3 L450.0,697.1 L448.4,696.8 L446.3,699.1 L445.1,696.8 L443.6,695.9 L442.0,695.6 L440.5,695.2 L439.0,694.7 L437.6,694.3 L436.2,693.8 L434.9,693.3 L433.3,692.6 L430.6,694.1 L430.6,691.0 L429.3,690.1 L426.3,691.6 L425.8,689.6 L425.7,687.3 L424.1,686.8 L421.8,687.1 L421.9,684.3 L420.6,683.3 L419.4,682.5 L417.9,681.8 L415.0,683.7 L414.8,680.9 L413.5,679.9 L412.1,678.9 L411.1,677.5 L408.2,678.9 L408.2,676.0 L407.0,674.8 L405.8,673.9 L404.6,673.0 L403.5,672.0 L402.3,670.8 L399.8,671.0 L398.2,670.3 L399.0,667.4 L398.1,666.2 L395.6,666.1 L394.3,664.9 L395.5,662.3 L394.8,660.9 L394.1,659.3 L393.5,657.7 L393.1,656.4 L392.7,655.0 L392.3,653.5 L392.0,651.9 L391.1,650.3 L389.2,648.8 L391.2,646.8 L391.0,645.1 L390.9,643.4 L390.7,641.8 L390.6,640.2 L390.6,638.7 L390.6,637.3 L390.6,636.0Z" fill="#d5c6e6" stroke="#66507a" stroke-width="1.8" stroke-linejoin="round"/><path d="M406.4,639.2 C406.9,634.9 410.6,629.4 413.5,626.3 C416.4,623.2 420.2,621.1 423.5,620.6 C426.8,620.1 431.5,621.1 433.4,623.5 C435.3,625.9 433.5,630.1 434.9,634.9 C436.3,639.6 438.0,650.1 442.0,652.0 C446.0,653.9 454.6,647.0 459.1,646.3 C463.6,645.6 466.5,645.6 469.1,647.7 C471.7,649.8 474.6,654.8 474.8,659.1 C475.0,663.4 474.1,670.1 470.5,673.4 C466.9,676.7 458.6,678.9 453.4,679.1 C448.2,679.3 443.9,677.9 439.1,674.8 C434.4,671.7 429.6,664.3 424.9,660.5 C420.1,656.7 413.7,655.5 410.6,652.0 C407.5,648.5 405.9,643.5 406.4,639.2Z" fill="#a8a5d6" stroke="#5f5286" stroke-width="1.4"/><g fill="#d5c6e6" stroke="#8474a4" stroke-width="1.0"><circle cx="408.3" cy="666.7" r="1.8"/><circle cx="458.1" cy="635.8" r="1.8"/><circle cx="475.8" cy="682.6" r="1.8"/><circle cx="412.1" cy="672.7" r="1.8"/><circle cx="442.0" cy="681.7" r="1.8"/><circle cx="449.1" cy="633.9" r="1.8"/><circle cx="401.8" cy="649.8" r="1.8"/><circle cx="406.2" cy="625.1" r="1.8"/><circle cx="423.7" cy="680.4" r="1.8"/><circle cx="476.9" cy="649.9" r="1.8"/><circle cx="429.3" cy="670.4" r="1.8"/><circle cx="446.3" cy="619.5" r="1.8"/><circle cx="435.4" cy="615.4" r="1.8"/><circle cx="431.1" cy="686.3" r="1.8"/><circle cx="471.3" cy="691.2" r="1.8"/><circle cx="403.3" cy="633.6" r="1.8"/><circle cx="447.9" cy="612.1" r="1.8"/><circle cx="482.0" cy="672.0" r="1.8"/><circle cx="480.9" cy="679.6" r="1.8"/><circle cx="471.5" cy="677.1" r="1.8"/><circle cx="442.3" cy="614.2" r="1.8"/><circle cx="459.8" cy="686.2" r="1.8"/><circle cx="399.7" cy="639.4" r="1.8"/><circle cx="442.3" cy="689.1" r="1.8"/><circle cx="466.1" cy="684.7" r="1.8"/><circle cx="416.8" cy="618.7" r="1.8"/><circle cx="439.3" cy="628.3" r="1.8"/><circle cx="411.7" cy="621.5" r="1.8"/><circle cx="471.4" cy="685.5" r="1.8"/><circle cx="428.8" cy="614.4" r="1.8"/><circle cx="410.4" cy="660.1" r="1.8"/><circle cx="447.6" cy="684.1" r="1.8"/><circle cx="471.2" cy="636.5" r="1.8"/><circle cx="459.5" cy="692.8" r="1.8"/><circle cx="446.6" cy="628.3" r="1.8"/><circle cx="447.4" cy="645.4" r="1.8"/><circle cx="460.1" cy="623.3" r="1.8"/><circle cx="465.6" cy="636.1" r="1.8"/><circle cx="481.3" cy="662.4" r="1.8"/><circle cx="423.6" cy="666.6" r="1.8"/><circle cx="477.1" cy="642.1" r="1.8"/><circle cx="418.8" cy="613.6" r="1.8"/><circle cx="416.2" cy="667.3" r="1.8"/><circle cx="452.8" cy="641.0" r="1.8"/><circle cx="455.3" cy="630.9" r="1.8"/><circle cx="430.9" cy="675.7" r="1.8"/><circle cx="465.4" cy="629.7" r="1.8"/><circle cx="472.1" cy="645.0" r="1.8"/><circle cx="482.1" cy="652.6" r="1.8"/><circle cx="442.8" cy="634.1" r="1.8"/><circle cx="396.9" cy="645.6" r="1.8"/><circle cx="450.5" cy="624.6" r="1.8"/><circle cx="456.7" cy="614.6" r="1.8"/><circle cx="398.1" cy="632.6" r="1.8"/><circle cx="452.1" cy="689.4" r="1.8"/></g>
<path d="M503.9,628.0 L504.8,626.9 L505.9,625.8 L507.0,624.9 L508.2,624.0 L509.6,623.1 L511.0,622.3 L512.4,621.6 L513.9,620.9 L515.5,620.2 L516.8,619.7 L518.1,619.2 L519.5,618.7 L520.9,618.3 L522.3,617.9 L523.8,617.5 L525.4,617.2 L527.0,616.9 L528.7,616.7 L530.5,616.5 L532.4,616.3 L533.7,616.2 L535.1,616.2 L536.5,616.1 L538.0,616.1 L539.6,616.1 L541.1,616.0 L542.8,615.8 L544.4,616.2 L546.0,616.2 L547.6,616.3 L549.3,616.4 L550.9,616.5 L552.5,616.2 L554.0,616.7 L555.5,616.8 L556.9,616.9 L558.3,617.0 L560.0,617.2 L561.7,617.3 L563.3,617.5 L564.9,617.7 L566.4,618.0 L567.9,618.2 L569.4,618.4 L570.9,618.4 L572.3,618.7 L573.6,619.3 L575.0,619.6 L576.3,619.9 L577.7,620.2 L579.5,620.6 L581.3,621.0 L583.0,621.4 L584.8,621.8 L586.5,622.2 L588.1,622.7 L589.6,623.2 L591.0,623.8 L592.2,624.6 L593.3,625.4 L594.4,626.6 L595.3,627.9 L596.0,629.4 L596.5,631.0 L596.8,632.6 L597.0,634.4 L597.2,636.3 L597.2,638.3 L597.2,639.6 L597.1,641.0 L596.9,642.5 L596.7,644.0 L596.5,645.6 L596.2,647.2 L596.0,648.8 L596.1,650.5 L595.1,652.0 L594.7,653.5 L594.3,655.0 L593.8,656.4 L593.3,657.7 L592.6,659.3 L591.8,660.7 L591.0,662.1 L590.0,663.4 L589.1,664.7 L588.1,665.9 L587.1,667.1 L586.1,668.3 L585.1,669.5 L584.2,670.7 L583.2,672.1 L582.3,673.5 L581.5,674.9 L580.6,676.3 L579.7,677.6 L578.7,678.9 L577.6,680.2 L576.4,681.3 L575.1,682.4 L573.9,683.2 L572.5,683.9 L571.1,684.6 L569.7,685.2 L568.1,685.8 L566.5,686.4 L564.9,686.9 L563.3,687.4 L561.6,687.9 L560.0,688.3 L558.3,688.8 L556.9,689.2 L555.5,689.6 L554.0,690.1 L552.5,690.5 L551.1,691.2 L549.6,691.5 L548.0,691.7 L546.5,692.0 L545.0,692.3 L543.4,692.5 L541.9,692.6 L540.4,692.7 L538.9,692.7 L537.4,692.9 L535.8,692.9 L534.3,692.3 L532.7,692.0 L531.2,691.7 L529.6,691.4 L528.1,690.9 L526.5,690.5 L525.0,690.0 L523.5,689.4 L522.1,688.8 L520.7,688.2 L519.4,687.5 L517.7,687.2 L516.3,686.3 L515.3,684.8 L513.9,683.8 L512.7,682.7 L511.4,681.6 L510.2,680.5 L509.1,679.3 L508.0,678.1 L507.0,676.9 L505.8,675.9 L505.1,674.6 L504.3,673.2 L503.5,671.9 L502.8,670.6 L502.2,669.2 L501.7,667.9 L501.3,666.4 L500.9,665.0 L500.6,663.5 L500.3,661.9 L500.0,660.3 L499.3,658.9 L499.6,657.3 L499.5,655.7 L499.5,654.0 L499.4,652.3 L499.4,650.6 L499.5,648.8 L499.5,647.2 L499.6,645.5 L499.7,643.9 L499.8,642.4 L500.0,641.0 L500.2,639.3 L500.5,637.6 L500.7,636.0 L501.0,634.5 L501.4,633.1 L501.9,631.7 L502.4,630.4 L503.1,629.2Z" fill="#d5c6e6" stroke="#66507a" stroke-width="1.8" stroke-linejoin="round"/><path d="M514.2,647.4 C516.4,644.1 521.8,637.4 525.9,634.4 C530.0,631.4 532.8,630.3 538.9,629.2 C545.0,628.1 556.6,627.6 562.2,628.0 C567.8,628.4 569.5,629.9 572.5,631.8 C575.5,633.7 578.8,635.3 580.3,639.6 C581.8,643.9 582.5,654.0 581.6,657.7 C580.7,661.4 578.3,662.0 575.1,661.6 C571.9,661.2 565.2,657.4 562.2,655.2 C559.2,653.1 558.7,650.2 557.0,648.7 C555.3,647.2 555.2,643.5 551.8,646.1 C548.3,648.7 540.6,659.9 536.3,664.2 C532.0,668.5 529.1,671.8 525.9,672.0 C522.6,672.2 518.9,668.5 516.8,665.5 C514.6,662.5 513.4,656.9 513.0,653.9 C512.6,650.9 512.1,650.6 514.2,647.4Z" fill="#a8a5d6" stroke="#5f5286" stroke-width="1.4"/><g fill="#d5c6e6" stroke="#8474a4" stroke-width="1.0"><circle cx="565.6" cy="676.2" r="1.8"/><circle cx="550.3" cy="655.3" r="1.8"/><circle cx="527.7" cy="627.5" r="1.8"/><circle cx="510.0" cy="641.0" r="1.8"/><circle cx="537.4" cy="672.3" r="1.8"/><circle cx="509.1" cy="671.9" r="1.8"/><circle cx="570.9" cy="677.5" r="1.8"/><circle cx="560.7" cy="624.1" r="1.8"/><circle cx="586.5" cy="634.9" r="1.8"/><circle cx="548.9" cy="666.4" r="1.8"/><circle cx="526.3" cy="622.6" r="1.8"/><circle cx="516.2" cy="638.0" r="1.8"/><circle cx="545.1" cy="624.7" r="1.8"/><circle cx="560.1" cy="683.4" r="1.8"/><circle cx="562.8" cy="664.7" r="1.8"/><circle cx="572.9" cy="626.5" r="1.8"/><circle cx="525.0" cy="683.9" r="1.8"/><circle cx="543.0" cy="680.6" r="1.8"/><circle cx="553.6" cy="670.5" r="1.8"/><circle cx="549.7" cy="683.0" r="1.8"/><circle cx="506.5" cy="650.5" r="1.8"/><circle cx="552.9" cy="660.4" r="1.8"/><circle cx="534.0" cy="676.3" r="1.8"/><circle cx="533.3" cy="687.0" r="1.8"/><circle cx="514.7" cy="630.3" r="1.8"/><circle cx="551.7" cy="620.9" r="1.8"/><circle cx="504.9" cy="643.9" r="1.8"/><circle cx="533.6" cy="627.3" r="1.8"/><circle cx="518.0" cy="674.9" r="1.8"/><circle cx="580.0" cy="667.7" r="1.8"/></g>
<path d="M639.5,613.5 L641.0,612.6 L642.5,611.9 L643.1,609.0 L644.8,609.0 L646.7,610.8 L648.1,608.6 L649.8,608.0 L651.3,610.4 L652.8,610.4 L654.4,609.3 L656.0,608.3 L657.6,610.3 L659.5,607.6 L660.9,609.9 L662.3,611.1 L664.7,608.8 L665.5,610.9 L666.3,612.7 L667.5,613.6 L670.8,612.5 L670.0,615.5 L670.7,617.0 L672.3,617.9 L672.4,619.7 L674.4,620.5 L675.1,622.0 L674.6,623.8 L676.2,624.8 L676.4,626.5 L676.3,628.2 L676.7,629.7 L677.1,631.3 L679.0,632.5 L677.9,634.4 L678.2,636.0 L678.5,637.5 L679.8,638.8 L680.0,640.3 L679.3,642.0 L679.5,643.5 L680.2,644.9 L681.2,646.4 L679.9,648.0 L679.9,649.5 L680.5,651.0 L681.6,652.5 L680.3,654.0 L679.9,655.5 L679.8,657.0 L679.8,658.4 L683.0,660.3 L680.2,661.5 L679.2,662.9 L680.2,664.6 L680.7,666.2 L678.5,667.5 L678.3,668.9 L678.2,670.4 L678.1,671.9 L678.0,673.3 L677.8,674.8 L677.7,676.3 L678.5,678.0 L677.9,679.5 L676.7,680.9 L676.2,682.4 L677.2,684.8 L677.4,686.5 L674.6,686.6 L673.5,687.7 L672.7,689.0 L671.8,690.3 L670.9,691.7 L671.0,693.7 L669.3,694.5 L668.0,695.6 L667.8,697.5 L666.7,698.7 L665.0,699.1 L664.4,700.6 L664.7,703.0 L662.0,702.0 L661.5,704.3 L659.5,704.4 L658.7,706.1 L657.6,707.6 L655.3,706.2 L654.2,707.5 L652.6,707.7 L650.8,707.5 L649.0,708.0 L647.1,708.6 L645.8,708.1 L644.5,708.5 L643.2,711.5 L641.6,709.2 L640.0,708.3 L638.4,708.6 L636.8,709.8 L635.2,708.2 L633.5,708.1 L631.8,708.0 L630.2,707.9 L628.6,707.7 L627.0,707.6 L625.4,707.4 L623.7,709.0 L622.5,707.4 L621.2,706.7 L620.0,706.5 L618.0,706.8 L616.0,707.1 L614.9,705.0 L613.5,704.4 L612.1,703.8 L610.8,703.1 L609.6,702.3 L608.4,701.5 L607.3,700.7 L606.1,699.9 L605.0,699.0 L603.7,698.1 L601.0,698.6 L601.1,695.8 L599.9,694.7 L598.7,693.5 L597.6,692.2 L596.6,691.0 L595.8,689.7 L595.0,688.3 L594.5,687.0 L594.1,685.6 L593.9,684.3 L593.8,682.9 L593.9,681.4 L594.0,680.0 L594.3,678.5 L594.6,676.9 L595.0,675.3 L594.0,673.3 L595.2,671.7 L596.4,670.7 L596.9,669.4 L597.4,668.0 L597.9,666.6 L598.5,665.2 L599.2,663.7 L599.8,662.2 L599.8,660.4 L599.2,658.3 L602.0,657.9 L602.7,656.4 L602.3,654.4 L604.0,653.6 L605.0,652.5 L605.9,651.1 L606.8,649.7 L605.2,646.4 L608.8,647.1 L609.9,645.9 L610.9,644.6 L612.0,643.4 L613.0,642.2 L614.0,641.0 L615.1,639.9 L613.5,636.6 L617.0,637.5 L618.0,636.2 L619.0,634.9 L619.1,633.0 L618.8,630.8 L621.8,631.1 L622.5,629.7 L623.0,628.1 L624.6,627.4 L625.5,626.3 L626.5,625.1 L627.1,623.6 L628.2,622.3 L629.8,621.6 L631.0,620.4 L632.3,619.2 L632.4,616.8 L634.7,617.0 L636.0,616.0 L636.2,613.8 L638.1,613.9Z" fill="#d5c6e6" stroke="#66507a" stroke-width="1.8" stroke-linejoin="round"/><path d="M641.0,634.5 C643.2,632.2 649.0,627.8 653.0,627.0 C657.0,626.2 662.0,627.8 665.0,630.0 C668.0,632.2 670.2,636.5 671.0,640.5 C671.8,644.5 672.0,651.0 669.5,654.0 C667.0,657.0 660.2,657.0 656.0,658.5 C651.8,660.0 645.8,659.8 644.0,663.0 C642.2,666.2 645.8,673.2 645.5,678.0 C645.2,682.8 644.8,688.5 642.5,691.5 C640.2,694.5 635.8,696.2 632.0,696.0 C628.2,695.8 622.8,694.8 620.0,690.0 C617.2,685.2 614.8,673.0 615.5,667.5 C616.2,662.0 620.8,660.2 624.5,657.0 C628.2,653.8 635.5,650.8 638.0,648.0 C640.5,645.2 639.0,642.8 639.5,640.5 C640.0,638.2 638.8,636.8 641.0,634.5Z" fill="#a8a5d6" stroke="#5f5286" stroke-width="1.4"/><g fill="#d5c6e6" stroke="#8474a4" stroke-width="1.0"><circle cx="671.9" cy="677.6" r="1.8"/><circle cx="643.2" cy="626.9" r="1.8"/><circle cx="675.7" cy="654.4" r="1.8"/><circle cx="610.3" cy="678.3" r="1.8"/><circle cx="605.7" cy="673.7" r="1.8"/><circle cx="666.2" cy="621.6" r="1.8"/><circle cx="658.2" cy="619.5" r="1.8"/><circle cx="612.8" cy="660.0" r="1.8"/><circle cx="627.3" cy="631.7" r="1.8"/><circle cx="625.3" cy="639.6" r="1.8"/><circle cx="652.1" cy="620.0" r="1.8"/><circle cx="617.7" cy="696.4" r="1.8"/><circle cx="639.5" cy="700.7" r="1.8"/><circle cx="615.8" cy="688.8" r="1.8"/><circle cx="606.1" cy="686.3" r="1.8"/><circle cx="615.2" cy="648.7" r="1.8"/><circle cx="650.6" cy="693.8" r="1.8"/><circle cx="635.6" cy="645.0" r="1.8"/><circle cx="648.0" cy="665.3" r="1.8"/><circle cx="648.9" cy="679.2" r="1.8"/><circle cx="652.7" cy="663.1" r="1.8"/><circle cx="658.7" cy="683.5" r="1.8"/><circle cx="634.4" cy="627.9" r="1.8"/><circle cx="669.6" cy="665.9" r="1.8"/><circle cx="651.6" cy="674.4" r="1.8"/><circle cx="652.9" cy="686.5" r="1.8"/><circle cx="599.7" cy="685.7" r="1.8"/><circle cx="660.1" cy="672.7" r="1.8"/><circle cx="656.5" cy="695.5" r="1.8"/><circle cx="666.0" cy="677.4" r="1.8"/><circle cx="632.2" cy="701.9" r="1.8"/><circle cx="665.5" cy="691.2" r="1.8"/><circle cx="602.1" cy="679.3" r="1.8"/><circle cx="610.1" cy="671.2" r="1.8"/><circle cx="617.7" cy="643.7" r="1.8"/><circle cx="661.1" cy="663.6" r="1.8"/><circle cx="618.4" cy="656.4" r="1.8"/><circle cx="630.9" cy="643.0" r="1.8"/><circle cx="604.0" cy="665.6" r="1.8"/><circle cx="638.9" cy="631.6" r="1.8"/><circle cx="645.2" cy="700.4" r="1.8"/><circle cx="673.0" cy="669.8" r="1.8"/><circle cx="613.4" cy="699.1" r="1.8"/><circle cx="631.4" cy="634.8" r="1.8"/><circle cx="662.8" cy="686.7" r="1.8"/><circle cx="671.5" cy="630.3" r="1.8"/><circle cx="661.5" cy="694.9" r="1.8"/><circle cx="654.1" cy="701.9" r="1.8"/><circle cx="607.2" cy="661.0" r="1.8"/><circle cx="622.5" cy="699.9" r="1.8"/></g>
<path d="M695.0,582.0 L696.1,581.2 L697.3,580.6 L698.7,580.2 L700.1,579.8 L701.7,579.6 L703.3,579.4 L705.0,579.3 L706.6,579.2 L708.3,579.1 L710.0,579.0 L711.4,578.9 L712.9,578.8 L714.4,578.7 L716.0,578.6 L717.6,578.6 L719.2,578.6 L720.8,578.6 L722.3,578.7 L723.9,578.9 L725.3,579.2 L726.7,579.5 L728.0,580.0 L729.3,580.7 L730.5,581.5 L731.7,582.4 L732.8,583.5 L733.9,584.6 L735.2,585.5 L735.9,587.0 L736.9,588.3 L737.9,589.5 L738.9,590.8 L740.0,592.0 L741.0,593.1 L742.8,593.5 L743.1,595.2 L744.2,596.3 L745.3,597.4 L746.4,598.4 L748.2,598.8 L748.5,600.7 L749.4,602.0 L750.3,603.3 L751.2,604.6 L752.0,606.0 L752.7,607.2 L753.3,608.5 L754.0,609.8 L754.6,611.2 L755.2,612.5 L755.7,613.9 L756.3,615.4 L757.3,616.6 L757.2,618.3 L757.7,619.8 L758.1,621.3 L758.4,622.9 L758.7,624.4 L759.0,626.0 L759.2,627.4 L759.7,628.8 L760.0,630.2 L759.7,631.8 L759.8,633.3 L759.9,634.8 L760.0,636.3 L760.0,637.9 L760.0,639.4 L760.0,641.0 L759.9,642.5 L759.8,644.0 L759.7,645.6 L759.5,647.1 L759.3,648.5 L759.0,650.0 L758.7,651.5 L758.3,653.1 L757.9,654.7 L757.4,656.3 L756.9,657.9 L756.3,659.5 L756.0,661.2 L755.5,662.8 L754.4,664.2 L753.7,665.6 L753.0,667.0 L752.3,668.4 L751.5,669.7 L750.8,670.9 L750.7,672.5 L749.5,673.9 L747.8,674.7 L746.7,675.8 L745.5,676.9 L744.3,677.8 L743.1,678.7 L741.7,679.5 L740.4,680.2 L739.0,680.8 L737.5,681.4 L736.0,682.0 L734.6,682.5 L733.2,682.9 L731.7,683.3 L730.1,683.7 L728.5,684.0 L726.8,684.3 L725.2,684.5 L723.5,684.6 L721.9,684.7 L720.3,684.7 L718.8,684.5 L717.4,684.3 L716.0,684.0 L714.6,683.5 L713.3,682.9 L711.6,682.9 L710.2,682.2 L709.5,680.5 L708.4,679.5 L707.2,678.4 L706.1,677.3 L704.8,676.3 L703.8,675.0 L703.0,673.4 L702.0,672.0 L701.3,670.9 L700.5,669.8 L699.8,668.6 L699.1,667.4 L698.4,666.1 L697.7,664.8 L696.7,663.7 L696.4,662.1 L695.7,660.7 L695.1,659.3 L694.5,657.8 L694.0,656.3 L693.4,654.8 L692.9,653.2 L692.5,651.6 L692.0,650.0 L691.7,648.7 L691.3,647.3 L691.0,645.9 L690.7,644.4 L690.4,642.9 L690.2,641.4 L689.9,639.9 L689.7,638.3 L689.5,636.7 L689.2,635.1 L689.1,633.5 L688.9,632.0 L688.7,630.4 L688.6,628.8 L688.4,627.3 L688.3,625.7 L688.2,624.3 L688.1,622.8 L688.1,621.4 L688.0,620.0 L688.0,618.3 L687.9,616.6 L688.0,615.0 L688.0,613.3 L688.1,611.7 L688.2,610.1 L688.1,608.5 L687.8,606.9 L688.5,605.5 L688.8,604.0 L689.0,602.6 L689.1,601.2 L689.4,599.8 L689.6,598.5 L689.8,597.2 L690.0,596.0 L690.4,593.9 L690.7,592.0 L690.6,590.1 L691.4,588.5 L691.9,586.9 L692.5,585.5 L693.2,584.2 L694.0,583.0Z" fill="#d5c6e6" stroke="#66507a" stroke-width="1.8" stroke-linejoin="round"/><path d="M705.0,595.0 C709.5,592.5 722.0,592.3 726.0,593.0 C730.0,593.7 730.3,593.8 729.0,599.0 C727.7,604.2 716.2,616.5 718.0,624.0 C719.8,631.5 736.2,639.0 740.0,644.0 C743.8,649.0 743.7,650.7 741.0,654.0 C738.3,657.3 729.5,663.7 724.0,664.0 C718.5,664.3 712.0,661.7 708.0,656.0 C704.0,650.3 701.5,638.0 700.0,630.0 C698.5,622.0 698.2,613.8 699.0,608.0 C699.8,602.2 700.5,597.5 705.0,595.0Z" fill="#a8a5d6" stroke="#5f5286" stroke-width="1.4"/><g fill="#d5c6e6" stroke="#8474a4" stroke-width="1.0"><circle cx="699.8" cy="651.7" r="1.8"/><circle cx="733.7" cy="629.4" r="1.8"/><circle cx="703.5" cy="662.7" r="1.8"/><circle cx="746.2" cy="632.9" r="1.8"/><circle cx="745.1" cy="603.2" r="1.8"/><circle cx="751.0" cy="643.9" r="1.8"/><circle cx="742.3" cy="659.5" r="1.8"/><circle cx="696.8" cy="629.1" r="1.8"/><circle cx="713.0" cy="676.9" r="1.8"/><circle cx="710.0" cy="589.5" r="1.8"/><circle cx="743.9" cy="618.3" r="1.8"/><circle cx="751.6" cy="630.7" r="1.8"/><circle cx="692.9" cy="614.4" r="1.8"/><circle cx="741.7" cy="629.4" r="1.8"/><circle cx="748.3" cy="662.9" r="1.8"/><circle cx="749.1" cy="611.2" r="1.8"/><circle cx="734.3" cy="668.9" r="1.8"/><circle cx="730.0" cy="605.9" r="1.8"/><circle cx="726.8" cy="613.0" r="1.8"/><circle cx="739.2" cy="671.3" r="1.8"/><circle cx="710.5" cy="583.0" r="1.8"/><circle cx="725.2" cy="619.9" r="1.8"/><circle cx="746.8" cy="655.4" r="1.8"/><circle cx="727.8" cy="587.0" r="1.8"/></g>
<path d="M459.0,589.0 L459.1,587.8 L459.2,586.5 L459.3,585.1 L459.4,583.6 L459.6,582.0 L459.7,580.3 L459.9,578.6 L460.2,576.9 L460.4,575.2 L460.7,573.6 L461.0,572.0 L461.3,570.6 L461.6,569.2 L461.8,567.9 L462.0,565.9 L463.4,564.7 L464.2,563.4 L465.1,562.3 L466.1,561.2 L467.1,560.1 L468.2,558.9 L469.5,557.5 L470.2,556.3 L471.3,555.3 L472.5,554.4 L473.6,553.3 L474.8,552.2 L476.0,551.0 L477.2,549.9 L478.4,548.7 L479.6,547.6 L480.4,546.0 L481.8,545.1 L483.0,544.0 L484.0,542.8 L485.0,541.6 L486.0,540.3 L486.9,539.0 L487.8,537.7 L488.7,536.4 L489.7,535.1 L490.6,533.8 L491.6,532.6 L492.7,531.3 L493.8,530.1 L495.0,529.0 L496.1,528.0 L497.3,527.0 L498.6,526.0 L499.9,525.0 L501.2,524.1 L502.6,523.1 L504.0,522.2 L505.4,521.3 L506.8,520.4 L508.1,519.6 L509.4,518.8 L510.7,518.1 L511.9,517.5 L513.0,517.0 L514.8,516.2 L516.5,515.6 L517.9,514.7 L519.5,514.5 L521.0,514.8 L522.4,514.9 L523.7,515.1 L525.0,515.5 L526.3,516.1 L527.5,516.9 L528.6,517.8 L529.7,519.0 L530.8,520.2 L532.2,521.3 L533.2,522.8 L534.0,524.5 L534.8,525.6 L535.7,526.9 L536.6,528.2 L537.5,529.6 L538.4,531.0 L539.5,532.3 L540.4,533.8 L541.0,535.4 L541.7,536.8 L542.4,538.2 L543.0,539.5 L543.6,541.0 L544.2,542.4 L544.7,543.7 L545.1,545.0 L545.4,546.4 L545.7,547.8 L545.9,549.3 L546.0,551.0 L546.0,553.0 L546.0,554.2 L545.9,555.6 L545.8,557.0 L545.7,558.5 L545.5,560.0 L545.3,561.6 L545.1,563.3 L544.9,564.9 L544.6,566.6 L544.4,568.2 L544.1,569.8 L543.9,571.4 L543.7,572.9 L543.8,574.4 L543.3,575.7 L543.0,577.0 L542.7,578.9 L542.5,580.6 L542.4,582.2 L542.2,583.6 L542.1,585.1 L541.8,586.4 L541.6,587.8 L541.2,589.1 L540.7,590.5 L540.0,592.0 L539.3,593.3 L538.6,594.6 L537.8,595.9 L536.9,597.3 L535.9,598.6 L534.9,600.0 L533.9,601.3 L532.8,602.6 L531.6,603.8 L530.5,604.9 L529.5,606.3 L528.4,607.5 L526.9,607.9 L525.6,608.6 L524.3,609.4 L523.1,610.1 L521.7,610.7 L520.4,611.3 L519.0,612.0 L517.7,612.9 L516.1,613.0 L514.6,613.3 L513.1,613.8 L511.5,614.1 L510.0,614.5 L508.6,614.8 L507.2,615.1 L505.7,615.3 L504.2,615.6 L502.7,615.8 L501.2,616.0 L499.6,616.1 L498.1,616.2 L496.5,616.3 L494.9,616.4 L493.4,616.4 L491.9,616.4 L490.4,616.3 L488.9,616.2 L487.5,616.0 L485.9,615.7 L484.2,615.4 L482.5,614.9 L480.9,614.5 L479.2,613.9 L477.6,613.3 L476.0,612.7 L474.5,612.0 L472.8,611.8 L471.5,610.8 L470.3,609.9 L469.1,609.2 L468.0,608.5 L466.4,607.3 L465.1,606.1 L464.0,604.7 L462.9,603.5 L462.3,602.0 L461.7,600.6 L461.1,599.3 L460.5,598.0 L459.9,596.6 L459.4,595.3 L459.1,594.2 L458.9,592.8 L458.9,591.2Z" fill="#cfbadd" stroke="#66507a" stroke-width="1.8" stroke-linejoin="round"/><path d="M478.5,586.0 C478.8,580.5 480.5,571.0 483.0,565.0 C485.5,559.0 490.2,554.2 493.5,550.0 C496.8,545.8 498.5,542.2 502.5,539.5 C506.5,536.8 513.0,533.8 517.5,533.5 C522.0,533.2 526.8,535.5 529.5,538.0 C532.2,540.5 534.0,545.5 534.0,548.5 C534.0,551.5 532.2,554.2 529.5,556.0 C526.8,557.8 521.2,557.5 517.5,559.0 C513.8,560.5 508.8,561.0 507.0,565.0 C505.2,569.0 507.5,577.5 507.0,583.0 C506.5,588.5 506.2,594.5 504.0,598.0 C501.8,601.5 497.2,604.0 493.5,604.0 C489.8,604.0 484.0,601.0 481.5,598.0 C479.0,595.0 478.2,591.5 478.5,586.0Z" fill="#a8a5d6" stroke="#5f5286" stroke-width="1.4"/><g fill="#cfbadd" stroke="#8474a4" stroke-width="1.0"><circle cx="525.6" cy="586.4" r="1.8"/><circle cx="516.5" cy="526.1" r="1.8"/><circle cx="520.4" cy="571.6" r="1.8"/><circle cx="506.0" cy="604.5" r="1.8"/><circle cx="471.3" cy="597.3" r="1.8"/><circle cx="463.4" cy="591.2" r="1.8"/><circle cx="534.5" cy="539.1" r="1.8"/><circle cx="475.7" cy="576.2" r="1.8"/><circle cx="470.2" cy="581.7" r="1.8"/><circle cx="538.7" cy="547.3" r="1.8"/><circle cx="487.9" cy="607.2" r="1.8"/><circle cx="532.2" cy="569.4" r="1.8"/><circle cx="526.1" cy="600.1" r="1.8"/><circle cx="522.0" cy="564.3" r="1.8"/><circle cx="485.4" cy="551.0" r="1.8"/><circle cx="510.4" cy="567.5" r="1.8"/><circle cx="504.5" cy="534.4" r="1.8"/><circle cx="525.5" cy="560.5" r="1.8"/><circle cx="537.8" cy="577.0" r="1.8"/><circle cx="515.5" cy="601.2" r="1.8"/><circle cx="475.3" cy="569.6" r="1.8"/><circle cx="527.5" cy="530.3" r="1.8"/><circle cx="473.6" cy="587.1" r="1.8"/><circle cx="536.4" cy="553.3" r="1.8"/><circle cx="539.2" cy="567.1" r="1.8"/><circle cx="515.9" cy="593.4" r="1.8"/></g>
<path d="M417.8,448.0 L418.2,446.2 L418.8,444.9 L419.5,443.8 L420.7,442.9 L422.4,441.8 L423.4,441.2 L424.5,440.6 L425.8,440.0 L426.5,438.0 L427.7,436.7 L430.1,438.3 L431.6,437.6 L432.5,435.2 L434.6,436.0 L436.4,436.0 L437.0,432.3 L439.4,434.9 L441.0,434.6 L442.6,434.2 L444.2,433.8 L445.9,433.3 L447.6,432.9 L449.2,432.6 L450.3,429.9 L452.3,431.2 L453.9,431.5 L455.2,430.4 L456.5,429.9 L458.5,430.5 L459.5,427.2 L461.5,428.7 L463.1,429.3 L464.5,429.0 L466.0,428.8 L467.4,428.7 L469.0,427.5 L470.6,426.0 L471.9,428.3 L473.3,428.9 L474.8,429.2 L476.3,429.5 L478.3,427.5 L479.6,429.4 L481.2,430.5 L483.6,427.9 L484.6,430.1 L485.8,431.4 L487.5,430.9 L489.3,430.6 L490.6,432.4 L492.3,432.7 L494.0,433.0 L496.3,430.7 L497.3,433.8 L498.9,434.2 L501.0,432.6 L502.0,434.7 L503.3,435.5 L505.0,436.1 L507.0,435.9 L509.0,435.7 L509.7,438.2 L511.1,438.9 L512.5,439.7 L515.0,438.6 L515.2,441.1 L516.2,442.3 L517.3,443.3 L518.5,444.4 L521.4,444.1 L520.7,446.9 L521.7,448.2 L522.7,449.6 L523.5,451.0 L524.1,452.5 L524.6,454.1 L525.0,455.8 L527.4,457.0 L526.8,458.6 L525.1,460.1 L524.9,461.7 L524.7,463.3 L524.4,464.9 L524.0,466.6 L523.6,468.2 L523.4,469.9 L524.7,471.9 L522.4,472.9 L522.0,474.4 L521.6,475.9 L521.2,477.5 L520.7,479.0 L522.0,481.1 L519.8,482.0 L519.2,483.4 L518.7,484.8 L518.1,486.2 L518.9,488.4 L516.7,488.8 L516.2,490.3 L517.7,493.4 L514.3,492.6 L513.0,493.4 L512.0,494.5 L510.9,495.5 L509.8,496.5 L508.6,497.5 L507.3,498.4 L506.7,500.3 L504.7,500.1 L503.3,500.9 L503.0,503.4 L501.4,503.6 L499.5,502.7 L498.1,503.2 L497.6,506.3 L495.5,504.8 L493.8,504.5 L492.3,505.0 L490.8,505.4 L489.5,506.6 L488.3,508.4 L486.2,506.6 L484.6,507.0 L483.1,507.4 L481.6,507.8 L480.0,508.3 L478.4,508.7 L476.8,509.2 L475.1,509.7 L473.5,510.1 L471.8,510.5 L470.2,510.8 L468.6,511.2 L467.3,512.8 L466.0,514.7 L464.2,511.8 L462.9,511.8 L461.0,511.7 L459.3,511.6 L456.9,514.4 L456.0,511.3 L454.8,510.2 L453.4,509.5 L452.0,508.8 L450.5,507.9 L448.9,507.0 L447.7,506.3 L445.5,507.1 L445.3,504.7 L444.1,503.8 L442.3,503.5 L441.1,502.5 L440.3,501.0 L439.0,499.9 L437.1,499.7 L435.4,499.2 L435.5,496.8 L434.4,495.7 L432.1,495.7 L432.1,493.5 L431.1,492.2 L429.7,491.2 L427.7,490.7 L428.1,488.3 L427.2,487.0 L426.3,485.7 L423.9,485.2 L422.9,484.0 L423.8,481.6 L423.1,480.3 L422.4,479.0 L421.7,477.4 L421.0,475.9 L420.4,474.3 L419.9,472.8 L418.4,471.5 L418.7,469.8 L418.6,468.1 L417.3,466.8 L414.7,465.6 L417.4,463.6 L416.6,462.0 L414.5,460.5 L417.3,458.6 L417.2,456.9 L417.2,455.2 L417.2,453.5 L417.3,452.0 L417.4,450.5 L417.6,449.2Z" fill="#cfbadd" stroke="#66507a" stroke-width="1.8" stroke-linejoin="round"/><path d="M439.5,465.0 C440.6,460.9 442.9,455.4 445.8,452.7 C448.7,450.0 452.8,449.1 456.7,448.8 C460.6,448.5 465.4,449.7 469.0,451.0 C472.6,452.3 475.3,456.5 478.4,456.5 C481.5,456.5 484.2,452.2 487.8,451.0 C491.4,449.8 496.8,448.7 500.2,449.5 C503.6,450.3 506.4,452.2 508.0,455.8 C509.6,459.4 510.3,466.6 509.5,471.3 C508.7,476.0 506.4,481.2 503.3,483.8 C500.2,486.4 494.5,487.4 490.9,486.9 C487.3,486.4 484.6,483.8 481.5,480.7 C478.4,477.6 475.6,469.0 472.2,468.2 C468.8,467.4 464.1,473.1 461.3,476.0 C458.5,478.9 457.7,483.8 455.1,485.3 C452.5,486.9 448.4,486.6 445.8,485.3 C443.2,484.0 440.6,480.9 439.5,477.5 C438.4,474.1 438.4,469.1 439.5,465.0Z" fill="#a8a5d6" stroke="#5f5286" stroke-width="1.4"/><g fill="#cfbadd" stroke="#8474a4" stroke-width="1.0"><circle cx="460.1" cy="493.3" r="1.8"/><circle cx="430.0" cy="447.2" r="1.8"/><circle cx="514.5" cy="458.4" r="1.8"/><circle cx="445.3" cy="495.5" r="1.8"/><circle cx="485.4" cy="441.1" r="1.8"/><circle cx="476.7" cy="483.8" r="1.8"/><circle cx="435.0" cy="482.8" r="1.8"/><circle cx="430.5" cy="456.6" r="1.8"/><circle cx="482.8" cy="501.2" r="1.8"/><circle cx="491.4" cy="437.9" r="1.8"/><circle cx="440.8" cy="495.0" r="1.8"/><circle cx="471.3" cy="437.1" r="1.8"/><circle cx="497.1" cy="438.1" r="1.8"/><circle cx="469.1" cy="485.6" r="1.8"/><circle cx="481.5" cy="436.5" r="1.8"/><circle cx="519.1" cy="463.8" r="1.8"/><circle cx="449.9" cy="444.3" r="1.8"/><circle cx="438.7" cy="447.7" r="1.8"/><circle cx="511.4" cy="450.6" r="1.8"/><circle cx="516.2" cy="452.8" r="1.8"/><circle cx="472.1" cy="498.6" r="1.8"/><circle cx="516.0" cy="479.6" r="1.8"/><circle cx="438.9" cy="486.2" r="1.8"/><circle cx="463.1" cy="439.3" r="1.8"/><circle cx="441.2" cy="440.8" r="1.8"/><circle cx="489.3" cy="447.1" r="1.8"/><circle cx="422.2" cy="462.4" r="1.8"/><circle cx="465.8" cy="493.9" r="1.8"/><circle cx="470.7" cy="472.5" r="1.8"/><circle cx="465.0" cy="503.5" r="1.8"/><circle cx="479.5" cy="494.7" r="1.8"/><circle cx="462.8" cy="485.2" r="1.8"/><circle cx="487.3" cy="493.0" r="1.8"/><circle cx="493.2" cy="443.9" r="1.8"/><circle cx="474.8" cy="441.4" r="1.8"/><circle cx="468.6" cy="478.9" r="1.8"/><circle cx="455.3" cy="496.7" r="1.8"/><circle cx="500.4" cy="492.2" r="1.8"/><circle cx="505.8" cy="448.7" r="1.8"/><circle cx="481.1" cy="445.7" r="1.8"/><circle cx="475.4" cy="491.2" r="1.8"/><circle cx="427.0" cy="474.9" r="1.8"/><circle cx="428.7" cy="468.0" r="1.8"/><circle cx="444.5" cy="448.1" r="1.8"/><circle cx="514.3" cy="475.1" r="1.8"/><circle cx="471.7" cy="504.3" r="1.8"/><circle cx="450.3" cy="438.9" r="1.8"/><circle cx="495.6" cy="497.8" r="1.8"/><circle cx="421.5" cy="455.7" r="1.8"/><circle cx="472.1" cy="445.7" r="1.8"/><circle cx="458.4" cy="439.5" r="1.8"/><circle cx="449.6" cy="501.2" r="1.8"/><circle cx="505.8" cy="485.8" r="1.8"/><circle cx="510.8" cy="445.3" r="1.8"/><circle cx="429.1" cy="463.1" r="1.8"/></g>
<path d="M581.6,426.2 L583.7,426.8 L585.1,428.6 L586.5,429.6 L587.8,428.8 L589.0,427.3 L591.3,426.2 L592.3,427.2 L593.6,427.7 L594.9,428.3 L596.4,429.0 L597.9,429.8 L599.5,430.7 L601.0,431.5 L602.5,432.4 L603.8,433.1 L605.2,433.4 L606.9,434.2 L608.2,435.4 L609.5,436.0 L610.7,436.8 L612.0,437.8 L613.3,439.3 L614.0,440.3 L614.8,441.5 L615.5,442.8 L616.2,444.2 L616.9,445.7 L617.6,447.2 L618.3,448.7 L619.1,450.2 L619.8,451.7 L621.3,452.7 L621.5,454.4 L622.4,455.6 L623.3,456.8 L624.3,457.9 L625.3,459.0 L626.8,459.7 L627.9,460.6 L628.5,462.2 L629.5,463.3 L630.5,464.4 L631.5,465.6 L632.5,466.8 L633.5,468.1 L634.4,469.3 L635.4,470.6 L637.1,471.5 L637.4,473.3 L638.2,474.7 L639.1,476.1 L640.0,477.5 L640.8,478.9 L641.5,480.4 L642.2,481.9 L642.8,483.3 L643.3,484.8 L643.8,486.2 L644.2,487.8 L644.7,489.3 L645.7,490.7 L645.4,492.4 L645.7,493.9 L645.9,495.4 L646.1,496.9 L646.2,498.4 L646.3,499.8 L646.4,501.5 L646.4,503.1 L646.4,504.8 L646.3,506.4 L646.2,508.0 L645.9,509.6 L645.6,511.0 L645.0,512.5 L644.4,513.8 L643.5,515.0 L642.6,516.0 L641.6,516.9 L640.4,517.8 L639.1,518.7 L637.7,519.5 L636.3,520.2 L634.8,520.9 L633.2,521.5 L631.6,522.1 L630.1,522.6 L628.5,522.9 L627.0,523.2 L625.5,523.4 L623.9,523.4 L622.3,523.3 L620.7,523.2 L619.1,522.9 L617.4,522.7 L615.7,522.3 L614.1,521.9 L612.5,521.5 L610.8,521.5 L609.2,521.1 L607.8,520.4 L606.2,520.0 L604.6,519.6 L603.1,519.2 L601.6,518.8 L600.1,518.4 L598.6,517.9 L597.2,517.4 L595.7,516.9 L594.3,516.3 L592.8,515.7 L591.3,515.0 L589.9,514.4 L588.5,513.7 L587.1,513.0 L585.7,512.3 L584.3,511.6 L582.9,510.8 L581.5,510.0 L580.1,509.2 L578.7,508.3 L577.4,507.4 L576.1,506.4 L574.6,505.5 L573.7,504.4 L572.6,503.3 L571.5,502.3 L570.4,501.2 L569.3,500.1 L568.2,498.9 L567.2,497.7 L566.1,496.5 L565.2,495.3 L564.2,494.0 L563.3,492.7 L562.5,491.4 L561.7,490.1 L561.0,488.8 L560.4,487.4 L559.8,486.1 L559.2,484.6 L558.7,483.1 L558.3,481.7 L557.9,480.1 L557.5,478.6 L557.2,477.1 L556.8,475.6 L555.9,474.1 L556.5,472.5 L556.4,471.0 L556.3,469.5 L556.2,468.1 L556.2,466.4 L555.4,464.8 L556.3,463.1 L556.4,461.5 L556.7,459.9 L556.9,458.2 L557.2,456.6 L557.6,455.0 L558.0,453.5 L558.5,451.9 L559.0,450.4 L559.3,448.8 L560.2,447.5 L560.9,446.1 L561.6,444.7 L562.4,443.3 L563.3,441.9 L564.2,440.5 L565.1,439.2 L566.0,437.9 L567.0,436.6 L567.9,435.4 L568.8,434.3 L569.7,433.3 L570.6,432.4 L572.0,431.1 L573.5,429.9 L575.0,428.9 L576.2,427.5 L577.9,427.4 L579.3,426.8 L580.5,426.4Z" fill="#cfbadd" stroke="#66507a" stroke-width="1.8" stroke-linejoin="round"/><path d="M570.6,461.3 C572.4,458.1 577.0,451.1 581.6,448.9 C586.2,446.7 593.5,447.0 598.1,448.2 C602.7,449.4 605.2,452.5 609.1,455.8 C613.0,459.1 618.0,463.3 621.5,468.1 C625.0,472.9 628.5,478.4 629.8,484.6 C631.1,490.8 631.2,500.9 629.1,505.3 C627.0,509.7 620.7,511.3 617.4,510.8 C614.1,510.3 610.9,507.6 609.1,502.5 C607.3,497.4 607.8,484.6 606.4,480.5 C605.0,476.4 606.2,478.9 600.9,477.8 C595.6,476.7 579.8,475.2 574.8,473.6 C569.8,472.0 571.3,470.2 570.6,468.1 C569.9,466.1 568.8,464.5 570.6,461.3Z" fill="#a8a5d6" stroke="#5f5286" stroke-width="1.4"/><g fill="#cfbadd" stroke="#8474a4" stroke-width="1.0"><circle cx="635.5" cy="492.4" r="1.8"/><circle cx="633.6" cy="511.2" r="1.8"/><circle cx="594.1" cy="433.9" r="1.8"/><circle cx="598.5" cy="507.9" r="1.8"/><circle cx="601.5" cy="443.6" r="1.8"/><circle cx="638.1" cy="503.6" r="1.8"/><circle cx="599.0" cy="437.4" r="1.8"/><circle cx="632.0" cy="516.4" r="1.8"/><circle cx="586.2" cy="489.2" r="1.8"/><circle cx="617.9" cy="456.8" r="1.8"/><circle cx="565.1" cy="459.6" r="1.8"/><circle cx="591.7" cy="502.8" r="1.8"/><circle cx="570.2" cy="489.9" r="1.8"/><circle cx="577.3" cy="480.3" r="1.8"/><circle cx="570.3" cy="495.0" r="1.8"/><circle cx="580.8" cy="438.8" r="1.8"/><circle cx="604.5" cy="512.2" r="1.8"/><circle cx="598.4" cy="484.2" r="1.8"/><circle cx="598.0" cy="502.9" r="1.8"/><circle cx="592.8" cy="488.0" r="1.8"/><circle cx="575.5" cy="447.6" r="1.8"/><circle cx="568.1" cy="448.1" r="1.8"/><circle cx="570.7" cy="476.7" r="1.8"/><circle cx="599.7" cy="493.3" r="1.8"/></g>
<path d="M694.0,424.0 L695.1,423.0 L696.2,421.3 L698.1,422.7 L699.6,422.5 L701.2,422.4 L702.9,422.3 L704.5,422.3 L706.1,422.4 L707.7,422.5 L709.3,422.7 L710.7,422.8 L712.1,422.1 L713.8,423.3 L715.4,423.9 L716.9,424.6 L718.4,425.3 L720.8,424.2 L721.9,425.3 L722.5,427.5 L724.0,428.0 L725.5,428.3 L727.0,428.3 L728.5,428.2 L730.0,428.1 L731.5,428.1 L733.0,428.3 L734.5,428.9 L736.0,430.0 L737.3,430.3 L739.2,430.5 L738.5,432.9 L739.4,434.1 L741.2,434.8 L741.8,436.5 L741.9,438.4 L743.2,439.7 L745.6,440.3 L744.7,442.8 L745.2,444.5 L748.1,444.9 L748.3,446.6 L747.4,448.7 L748.0,450.0 L748.8,451.6 L749.5,453.1 L751.3,454.2 L750.8,456.1 L751.4,457.5 L752.5,458.7 L753.3,460.1 L752.8,461.7 L753.2,463.1 L753.6,464.6 L754.0,466.0 L756.9,467.0 L755.0,469.1 L755.1,470.7 L755.5,472.3 L755.8,473.9 L756.1,475.4 L758.7,476.9 L756.2,478.7 L756.1,480.3 L756.0,482.0 L755.8,483.5 L756.3,485.1 L755.0,486.4 L754.5,487.9 L755.5,490.0 L753.7,491.1 L752.8,492.5 L752.1,494.1 L751.6,495.6 L752.5,497.7 L750.6,498.6 L750.0,500.0 L749.6,501.7 L749.2,503.4 L749.0,505.1 L748.7,506.7 L748.5,508.4 L748.2,510.0 L747.9,511.6 L747.4,513.1 L746.8,514.6 L746.0,516.0 L745.2,517.2 L745.1,519.0 L743.3,519.5 L742.1,520.7 L741.0,521.8 L739.8,522.9 L738.5,523.9 L737.2,524.9 L735.9,525.8 L735.2,527.7 L734.3,529.3 L732.1,528.3 L730.5,528.6 L728.9,529.0 L727.3,529.3 L725.8,531.7 L724.0,529.6 L722.4,529.8 L720.8,531.6 L719.1,530.7 L717.5,529.8 L716.2,531.3 L714.3,530.3 L712.7,530.7 L711.0,531.2 L709.4,531.7 L707.8,532.1 L706.3,532.4 L704.8,532.5 L703.3,532.5 L701.7,532.9 L700.8,531.4 L699.7,530.6 L698.6,529.7 L697.6,528.6 L696.6,527.4 L695.7,526.0 L694.7,524.6 L693.8,523.1 L692.0,522.1 L691.8,520.1 L691.4,518.8 L689.5,518.2 L688.7,516.9 L689.5,514.9 L688.8,513.4 L688.2,512.0 L687.6,510.5 L687.0,509.0 L686.5,507.5 L685.9,505.9 L685.4,504.4 L683.7,503.3 L684.4,501.4 L684.0,500.0 L683.5,498.5 L683.1,497.0 L682.7,495.5 L682.3,494.0 L681.9,492.5 L681.5,491.0 L681.2,489.5 L680.9,488.0 L679.3,486.7 L680.4,484.9 L680.2,483.3 L679.5,481.7 L679.8,480.0 L680.0,478.6 L680.0,477.2 L680.0,475.7 L680.1,474.1 L679.9,472.6 L678.4,470.9 L680.5,469.5 L680.6,467.9 L680.8,466.3 L679.1,464.5 L680.8,463.1 L681.4,461.7 L681.5,460.2 L681.7,458.7 L681.9,457.3 L682.0,456.0 L682.1,454.3 L682.2,452.6 L682.3,451.0 L682.4,449.4 L682.4,447.9 L680.1,446.2 L681.3,444.8 L682.7,443.5 L681.9,441.9 L682.3,440.5 L683.6,439.3 L684.0,438.0 L684.3,436.4 L684.1,434.5 L685.9,433.5 L686.7,432.1 L687.6,430.6 L688.5,429.3 L689.4,428.0 L690.5,426.8 L691.6,425.7 L692.8,424.8Z" fill="#cfbadd" stroke="#66507a" stroke-width="1.8" stroke-linejoin="round"/><path d="M698.0,442.0 C700.7,438.5 707.7,437.3 712.0,437.0 C716.3,436.7 721.0,437.5 724.0,440.0 C727.0,442.5 730.3,448.3 730.0,452.0 C729.7,455.7 724.7,458.7 722.0,462.0 C719.3,465.3 714.7,469.0 714.0,472.0 C713.3,475.0 715.0,476.7 718.0,480.0 C721.0,483.3 729.7,488.0 732.0,492.0 C734.3,496.0 734.0,501.0 732.0,504.0 C730.0,507.0 724.7,509.7 720.0,510.0 C715.3,510.3 707.7,509.3 704.0,506.0 C700.3,502.7 698.3,495.7 698.0,490.0 C697.7,484.3 702.3,477.3 702.0,472.0 C701.7,466.7 696.7,463.0 696.0,458.0 C695.3,453.0 695.3,445.5 698.0,442.0Z" fill="#a8a5d6" stroke="#5f5286" stroke-width="1.4"/><g fill="#cfbadd" stroke="#8474a4" stroke-width="1.0"><circle cx="736.6" cy="456.5" r="1.8"/><circle cx="699.3" cy="520.8" r="1.8"/><circle cx="741.5" cy="495.8" r="1.8"/><circle cx="699.6" cy="509.1" r="1.8"/><circle cx="702.3" cy="427.2" r="1.8"/><circle cx="740.2" cy="480.0" r="1.8"/><circle cx="744.2" cy="476.5" r="1.8"/><circle cx="750.0" cy="474.7" r="1.8"/><circle cx="740.6" cy="472.4" r="1.8"/><circle cx="726.7" cy="477.3" r="1.8"/><circle cx="730.2" cy="466.4" r="1.8"/><circle cx="729.9" cy="512.3" r="1.8"/><circle cx="697.3" cy="433.4" r="1.8"/><circle cx="720.0" cy="523.6" r="1.8"/><circle cx="718.3" cy="433.7" r="1.8"/><circle cx="696.4" cy="468.1" r="1.8"/><circle cx="713.0" cy="514.9" r="1.8"/><circle cx="746.7" cy="470.0" r="1.8"/><circle cx="686.0" cy="492.0" r="1.8"/><circle cx="741.4" cy="502.5" r="1.8"/><circle cx="693.0" cy="500.6" r="1.8"/><circle cx="727.6" cy="438.5" r="1.8"/><circle cx="696.9" cy="477.8" r="1.8"/><circle cx="694.1" cy="489.8" r="1.8"/><circle cx="739.4" cy="507.4" r="1.8"/><circle cx="736.6" cy="463.5" r="1.8"/><circle cx="725.2" cy="467.7" r="1.8"/><circle cx="735.8" cy="483.2" r="1.8"/><circle cx="748.5" cy="479.4" r="1.8"/><circle cx="691.1" cy="469.6" r="1.8"/><circle cx="711.1" cy="431.4" r="1.8"/><circle cx="703.1" cy="527.8" r="1.8"/><circle cx="686.2" cy="468.5" r="1.8"/><circle cx="737.3" cy="439.6" r="1.8"/><circle cx="709.5" cy="527.4" r="1.8"/><circle cx="728.2" cy="432.3" r="1.8"/><circle cx="690.3" cy="487.0" r="1.8"/><circle cx="726.7" cy="520.8" r="1.8"/><circle cx="695.2" cy="439.9" r="1.8"/><circle cx="702.0" cy="432.9" r="1.8"/><circle cx="737.8" cy="493.3" r="1.8"/><circle cx="694.9" cy="482.8" r="1.8"/><circle cx="687.2" cy="463.0" r="1.8"/><circle cx="705.8" cy="515.2" r="1.8"/><circle cx="747.4" cy="488.2" r="1.8"/><circle cx="731.8" cy="457.9" r="1.8"/><circle cx="746.0" cy="462.1" r="1.8"/><circle cx="734.8" cy="449.8" r="1.8"/><circle cx="689.5" cy="497.7" r="1.8"/><circle cx="743.2" cy="454.8" r="1.8"/></g>
<path d="M79.0,419.0 L79.1,417.8 L79.4,416.4 L79.8,415.0 L80.4,413.6 L81.0,412.1 L81.7,410.6 L82.5,409.1 L83.3,407.6 L84.1,406.0 L85.0,404.6 L85.2,402.7 L86.4,401.6 L87.5,400.4 L88.3,399.2 L89.0,398.0 L90.0,396.4 L90.9,394.9 L91.7,393.6 L92.6,392.3 L93.4,391.1 L94.4,390.0 L95.3,388.9 L96.4,387.9 L97.6,387.0 L99.0,386.0 L100.2,385.3 L101.3,384.4 L102.5,383.5 L104.1,383.3 L105.6,382.8 L107.1,382.3 L108.6,381.7 L110.2,381.2 L111.7,380.5 L113.0,378.9 L114.8,379.6 L116.5,379.4 L118.0,379.0 L119.5,378.6 L120.9,378.1 L122.3,377.6 L123.7,377.1 L125.1,376.7 L126.5,376.2 L127.9,375.8 L129.4,375.5 L130.8,374.2 L132.5,375.0 L134.3,374.9 L136.1,374.9 L138.0,374.6 L139.3,374.8 L140.5,375.3 L141.9,375.5 L143.3,375.7 L144.8,375.9 L146.3,376.1 L147.8,376.4 L149.4,376.7 L151.0,377.1 L152.6,377.4 L154.2,377.8 L155.9,378.2 L157.5,378.7 L159.0,379.1 L160.6,379.7 L162.1,380.2 L163.6,380.7 L165.0,381.3 L166.4,382.0 L167.6,382.6 L168.9,383.3 L170.0,384.0 L171.3,384.9 L172.5,386.0 L174.0,386.8 L175.9,387.3 L176.1,389.3 L176.9,390.8 L177.9,392.2 L178.8,393.5 L179.7,394.9 L180.5,396.4 L181.3,397.8 L182.1,399.2 L182.8,400.6 L183.5,402.0 L184.2,403.3 L184.8,404.6 L185.7,405.7 L186.3,406.8 L186.8,408.7 L187.6,410.2 L188.3,411.7 L188.9,413.1 L189.4,414.5 L189.8,415.9 L191.3,417.0 L190.8,418.6 L190.7,420.1 L190.9,421.7 L191.0,423.3 L191.0,425.0 L191.0,426.4 L190.9,427.9 L190.8,429.5 L190.7,431.1 L190.5,432.8 L190.3,434.5 L190.7,436.3 L190.6,438.1 L189.5,439.7 L189.1,441.3 L188.7,443.0 L188.3,444.6 L187.8,446.1 L187.2,447.5 L186.7,448.8 L186.4,450.3 L185.2,451.5 L184.0,452.8 L182.9,454.0 L181.7,455.1 L180.4,456.1 L179.0,457.1 L177.7,458.1 L176.2,458.9 L174.6,459.4 L173.1,460.0 L171.5,460.5 L170.0,461.0 L168.7,461.4 L167.3,461.6 L165.8,461.9 L164.4,462.0 L162.9,462.1 L161.3,462.1 L159.8,462.1 L158.3,462.1 L156.7,462.5 L155.1,461.8 L153.6,461.7 L152.0,461.5 L150.5,461.2 L149.0,461.0 L147.5,460.7 L146.0,460.4 L144.2,461.0 L143.0,459.5 L141.5,459.1 L140.0,458.5 L138.5,458.0 L137.0,457.4 L135.5,456.9 L134.0,456.3 L132.5,455.7 L131.0,455.1 L129.5,454.5 L128.0,454.0 L126.5,453.5 L124.9,453.3 L123.4,452.7 L122.0,451.9 L120.5,451.4 L118.9,450.9 L117.4,450.3 L115.9,449.8 L114.4,449.2 L112.9,448.6 L111.4,448.0 L109.9,447.4 L108.5,446.7 L107.0,446.0 L105.6,445.3 L104.2,444.6 L102.7,443.9 L101.3,443.2 L99.8,442.4 L98.3,441.7 L96.3,442.0 L95.4,440.1 L94.1,439.2 L92.7,438.4 L91.4,437.5 L90.2,436.7 L89.1,435.8 L88.0,434.9 L87.0,434.0 L85.2,433.3 L84.4,431.7 L83.5,430.3 L82.5,429.0 L81.5,427.7 L80.5,426.5 L79.7,425.2 L79.6,423.6 L79.2,422.1 L79.0,420.6Z" fill="#cfbadd" stroke="#66507a" stroke-width="1.8" stroke-linejoin="round"/><path d="M99.0,413.0 C99.5,409.2 100.9,402.8 103.0,400.0 C105.1,397.2 108.7,395.8 111.5,396.0 C114.3,396.2 116.8,397.5 120.0,401.5 C123.2,405.5 126.2,418.6 131.0,420.0 C135.8,421.4 143.2,412.4 149.0,410.0 C154.8,407.6 161.9,405.1 166.0,405.6 C170.1,406.1 172.0,409.8 173.6,413.0 C175.2,416.2 176.7,420.9 175.7,425.0 C174.7,429.1 171.6,434.6 167.4,437.8 C163.2,441.0 157.0,443.6 150.8,444.0 C144.6,444.4 136.6,442.1 130.0,440.0 C123.5,437.9 116.5,434.4 111.5,431.6 C106.5,428.8 102.1,426.1 100.0,423.0 C97.9,419.9 98.5,416.8 99.0,413.0Z" fill="#a8a5d6" stroke="#5f5286" stroke-width="1.4"/><g fill="#cfbadd" stroke="#8474a4" stroke-width="1.0"><circle cx="182.5" cy="415.5" r="1.8"/><circle cx="138.2" cy="380.1" r="1.8"/><circle cx="100.3" cy="396.0" r="1.8"/><circle cx="128.3" cy="448.4" r="1.8"/><circle cx="130.2" cy="399.2" r="1.8"/><circle cx="173.1" cy="436.6" r="1.8"/><circle cx="166.2" cy="398.4" r="1.8"/><circle cx="168.3" cy="390.4" r="1.8"/><circle cx="93.7" cy="431.0" r="1.8"/><circle cx="92.0" cy="411.6" r="1.8"/><circle cx="89.1" cy="425.7" r="1.8"/><circle cx="143.4" cy="450.5" r="1.8"/><circle cx="180.7" cy="446.2" r="1.8"/><circle cx="106.9" cy="391.4" r="1.8"/><circle cx="161.8" cy="456.9" r="1.8"/><circle cx="126.2" cy="383.9" r="1.8"/><circle cx="105.7" cy="436.4" r="1.8"/><circle cx="145.8" cy="400.5" r="1.8"/><circle cx="143.1" cy="386.4" r="1.8"/><circle cx="167.8" cy="454.7" r="1.8"/></g>
<path d="M215.0,417.2 L215.3,415.9 L214.0,413.9 L215.6,412.9 L216.8,411.8 L216.1,409.6 L217.8,408.8 L219.3,407.8 L220.2,406.5 L221.0,405.1 L220.0,402.7 L221.6,401.9 L223.4,401.1 L223.3,399.2 L224.1,397.8 L226.0,397.1 L226.8,395.7 L227.7,394.4 L228.6,393.0 L227.9,390.7 L230.1,390.2 L231.1,388.9 L231.9,387.4 L232.6,385.8 L232.4,383.9 L233.1,382.3 L234.7,381.2 L235.6,379.9 L235.6,377.9 L235.2,374.9 L238.1,375.8 L239.9,376.3 L241.0,375.4 L242.4,374.7 L243.8,376.0 L245.2,376.2 L246.7,376.4 L248.3,376.6 L250.2,374.5 L251.7,376.9 L253.6,376.9 L255.5,376.8 L256.8,376.6 L258.1,376.4 L259.5,376.1 L260.4,373.3 L262.5,375.3 L264.1,375.1 L265.5,374.0 L266.6,371.4 L268.8,373.4 L270.6,373.5 L272.2,373.1 L273.8,372.8 L275.3,372.3 L276.6,370.3 L278.4,372.0 L279.8,371.9 L281.1,371.8 L282.4,371.8 L284.3,371.0 L285.8,371.8 L287.3,372.4 L288.8,372.8 L290.9,371.2 L292.3,372.0 L292.8,374.4 L294.1,375.1 L295.3,375.8 L296.6,376.7 L297.9,377.5 L299.6,378.0 L301.4,378.1 L301.6,380.2 L302.8,381.2 L303.9,382.2 L305.1,383.3 L306.3,384.4 L307.7,385.3 L309.8,385.6 L309.8,387.9 L311.9,388.3 L313.0,389.6 L313.1,391.6 L315.2,392.0 L315.2,394.0 L316.0,395.4 L316.9,396.7 L317.8,397.9 L318.6,399.3 L319.4,400.6 L320.2,402.0 L321.0,403.3 L321.7,404.7 L322.4,406.1 L323.0,407.5 L323.7,408.9 L324.3,410.3 L324.8,411.6 L325.3,413.0 L327.4,413.7 L328.9,414.8 L326.8,417.2 L329.1,418.3 L328.4,420.1 L327.7,421.9 L328.2,423.4 L329.4,424.8 L328.4,426.4 L328.3,427.9 L328.4,429.4 L328.3,430.9 L328.2,432.5 L328.0,434.0 L327.8,435.5 L327.5,437.0 L327.1,438.5 L327.3,440.2 L328.1,442.2 L325.8,443.2 L325.2,444.7 L324.6,446.2 L323.9,447.6 L324.5,449.6 L323.5,450.8 L321.9,451.5 L321.2,452.6 L320.5,454.3 L320.4,456.5 L318.2,456.6 L316.8,457.4 L315.5,458.3 L314.1,459.1 L313.0,460.5 L311.7,462.0 L309.4,461.0 L308.1,461.4 L306.8,461.7 L305.3,461.9 L303.9,462.1 L302.3,462.3 L300.7,462.4 L299.3,465.3 L297.5,462.6 L295.8,462.6 L294.2,464.2 L292.5,464.8 L290.8,462.7 L289.2,462.7 L287.7,462.7 L286.1,462.7 L284.6,462.7 L283.0,463.5 L281.3,464.7 L279.8,462.8 L278.3,462.4 L276.7,462.3 L274.8,464.8 L273.2,464.3 L271.9,461.8 L270.4,461.5 L268.8,461.3 L267.1,462.0 L265.3,463.2 L264.2,460.7 L262.8,460.0 L261.3,459.6 L259.8,459.2 L257.9,460.0 L256.5,459.1 L255.4,457.8 L253.9,457.3 L252.5,456.7 L250.9,456.5 L249.2,456.7 L248.3,455.0 L247.0,454.3 L245.6,453.6 L244.2,452.8 L242.8,451.9 L241.4,451.0 L240.1,450.1 L238.8,449.2 L237.5,448.2 L236.2,447.3 L235.0,446.3 L233.7,445.3 L232.6,444.4 L231.4,443.4 L230.3,442.5 L229.0,441.4 L227.7,440.4 L226.5,439.3 L225.3,438.3 L222.8,438.7 L222.9,436.3 L222.0,435.1 L221.0,434.0 L220.1,432.9 L219.2,431.8 L217.5,431.3 L216.0,430.2 L217.0,427.8 L215.4,426.7 L213.8,425.4 L215.4,423.3 L215.1,421.8 L213.1,420.4 L214.2,418.7Z" fill="#cfbadd" stroke="#66507a" stroke-width="1.8" stroke-linejoin="round"/><path d="M233.6,413.9 C234.7,410.0 237.6,403.9 240.4,400.4 C243.2,396.9 247.4,393.4 250.5,392.8 C253.6,392.2 256.9,394.1 258.9,397.0 C260.8,399.9 260.0,406.8 262.2,410.5 C264.4,414.2 268.4,419.0 272.3,419.0 C276.2,419.0 281.3,412.5 285.8,410.5 C290.3,408.5 295.9,406.5 299.3,407.1 C302.7,407.7 304.6,410.5 306.0,413.9 C307.4,417.3 308.5,422.8 307.7,427.3 C306.9,431.8 304.6,438.0 301.0,440.8 C297.4,443.6 291.1,444.5 285.8,444.2 C280.5,443.9 274.3,441.2 269.0,439.0 C263.7,436.8 258.9,432.1 253.8,430.7 C248.8,429.3 242.1,431.8 238.7,430.7 C235.3,429.6 234.4,426.8 233.6,424.0 C232.8,421.2 232.5,417.8 233.6,413.9Z" fill="#a8a5d6" stroke="#5f5286" stroke-width="1.4"/><g fill="#cfbadd" stroke="#8474a4" stroke-width="1.0"><circle cx="290.5" cy="384.8" r="1.8"/><circle cx="246.0" cy="445.5" r="1.8"/><circle cx="272.7" cy="380.1" r="1.8"/><circle cx="227.7" cy="410.3" r="1.8"/><circle cx="230.3" cy="400.2" r="1.8"/><circle cx="285.4" cy="386.7" r="1.8"/><circle cx="259.0" cy="442.0" r="1.8"/><circle cx="226.6" cy="421.8" r="1.8"/><circle cx="235.1" cy="435.1" r="1.8"/><circle cx="220.9" cy="413.5" r="1.8"/><circle cx="238.6" cy="397.4" r="1.8"/><circle cx="256.3" cy="389.0" r="1.8"/><circle cx="299.8" cy="454.7" r="1.8"/><circle cx="302.3" cy="402.9" r="1.8"/><circle cx="251.5" cy="443.4" r="1.8"/><circle cx="294.9" cy="391.3" r="1.8"/><circle cx="262.6" cy="393.7" r="1.8"/><circle cx="281.7" cy="453.7" r="1.8"/><circle cx="317.4" cy="444.3" r="1.8"/><circle cx="258.0" cy="380.7" r="1.8"/><circle cx="320.9" cy="434.4" r="1.8"/><circle cx="251.6" cy="434.1" r="1.8"/><circle cx="265.3" cy="388.1" r="1.8"/><circle cx="290.6" cy="402.8" r="1.8"/><circle cx="283.7" cy="448.4" r="1.8"/><circle cx="311.9" cy="447.4" r="1.8"/><circle cx="298.0" cy="401.1" r="1.8"/><circle cx="271.6" cy="404.6" r="1.8"/><circle cx="249.8" cy="384.2" r="1.8"/><circle cx="306.1" cy="397.8" r="1.8"/><circle cx="321.1" cy="426.2" r="1.8"/><circle cx="259.1" cy="451.2" r="1.8"/><circle cx="229.2" cy="430.1" r="1.8"/><circle cx="285.0" cy="395.7" r="1.8"/><circle cx="255.6" cy="438.6" r="1.8"/><circle cx="248.6" cy="389.1" r="1.8"/><circle cx="312.7" cy="427.0" r="1.8"/><circle cx="275.8" cy="412.6" r="1.8"/><circle cx="296.0" cy="397.1" r="1.8"/><circle cx="319.8" cy="416.5" r="1.8"/><circle cx="312.0" cy="434.6" r="1.8"/><circle cx="268.9" cy="390.6" r="1.8"/><circle cx="276.5" cy="400.5" r="1.8"/><circle cx="283.8" cy="458.4" r="1.8"/><circle cx="308.6" cy="440.6" r="1.8"/><circle cx="280.4" cy="406.2" r="1.8"/><circle cx="288.4" cy="378.5" r="1.8"/><circle cx="241.4" cy="389.6" r="1.8"/><circle cx="309.8" cy="410.1" r="1.8"/><circle cx="312.5" cy="454.5" r="1.8"/><circle cx="311.0" cy="405.7" r="1.8"/><circle cx="291.8" cy="450.8" r="1.8"/><circle cx="289.9" cy="397.5" r="1.8"/><circle cx="300.2" cy="446.7" r="1.8"/><circle cx="285.5" cy="404.3" r="1.8"/><circle cx="225.6" cy="416.3" r="1.8"/><circle cx="313.8" cy="400.4" r="1.8"/><circle cx="264.5" cy="454.7" r="1.8"/><circle cx="269.3" cy="453.3" r="1.8"/><circle cx="276.4" cy="387.0" r="1.8"/><circle cx="234.3" cy="393.0" r="1.8"/><circle cx="264.3" cy="450.2" r="1.8"/><circle cx="298.2" cy="384.6" r="1.8"/><circle cx="244.8" cy="437.4" r="1.8"/><circle cx="293.4" cy="380.2" r="1.8"/><circle cx="240.7" cy="381.7" r="1.8"/><circle cx="269.2" cy="384.3" r="1.8"/><circle cx="294.9" cy="458.3" r="1.8"/></g>
<path d="M84.5,521.7 L83.2,520.1 L83.1,518.6 L84.6,517.4 L86.8,516.4 L87.3,514.9 L86.3,513.0 L87.4,511.6 L89.2,510.5 L89.7,509.0 L90.3,507.4 L90.8,505.9 L89.7,503.7 L89.1,501.6 L92.0,501.0 L93.4,499.9 L92.9,497.9 L91.5,495.3 L92.1,493.8 L94.8,493.6 L96.0,492.6 L96.2,491.0 L97.1,489.9 L99.0,489.1 L100.7,488.4 L101.8,487.2 L102.9,485.9 L102.8,483.4 L102.8,480.7 L104.4,480.0 L107.1,480.9 L109.2,481.1 L110.5,480.2 L111.9,479.4 L113.1,478.4 L113.9,476.5 L115.1,475.1 L116.8,474.9 L118.7,475.5 L120.4,475.5 L121.7,474.8 L122.6,472.4 L123.9,470.9 L125.9,472.1 L127.8,473.4 L129.4,473.1 L130.8,471.7 L132.3,470.0 L134.1,471.7 L135.8,472.2 L137.4,472.1 L139.1,472.0 L140.7,471.3 L142.3,468.6 L144.0,467.3 L145.6,469.1 L147.0,471.7 L148.4,472.4 L150.0,472.4 L151.8,471.5 L153.5,471.2 L155.0,472.2 L156.3,473.7 L157.8,474.3 L159.6,473.9 L161.6,473.2 L163.0,474.2 L164.0,476.1 L165.4,476.9 L167.8,475.6 L169.8,475.4 L170.3,478.0 L170.8,480.1 L172.8,479.9 L174.7,479.9 L175.2,481.9 L175.6,483.8 L177.3,484.3 L179.1,484.8 L180.1,486.2 L180.3,488.1 L180.9,489.7 L181.9,491.0 L182.8,492.4 L184.5,493.2 L187.1,493.6 L188.7,494.6 L188.5,496.6 L188.5,498.5 L191.0,499.1 L191.8,500.5 L190.7,502.7 L189.6,504.9 L189.9,506.5 L191.1,507.8 L193.1,508.9 L194.2,510.3 L193.6,512.2 L192.4,514.1 L192.3,515.8 L192.6,517.3 L193.0,518.9 L194.2,520.4 L195.2,522.0 L195.0,523.6 L193.8,525.3 L193.3,526.8 L194.1,528.5 L194.8,530.0 L194.6,531.6 L193.6,533.1 L192.5,534.5 L192.0,536.0 L192.2,537.7 L193.2,539.6 L193.1,541.2 L191.5,542.5 L190.1,543.7 L189.6,545.2 L189.7,546.9 L190.5,549.0 L190.3,550.6 L188.6,551.6 L186.7,552.2 L185.9,553.4 L186.0,555.3 L185.7,557.0 L184.3,557.9 L182.5,558.4 L181.8,559.8 L181.3,561.5 L180.0,562.4 L178.1,562.6 L176.6,563.2 L175.4,564.1 L174.4,565.4 L173.6,567.1 L172.1,567.9 L170.1,567.6 L168.6,568.3 L167.4,569.7 L166.4,570.7 L165.1,571.2 L163.5,571.2 L162.0,571.2 L161.0,573.1 L159.6,574.0 L157.8,573.4 L156.2,573.5 L155.0,575.3 L153.4,575.9 L151.6,574.9 L150.1,576.2 L148.7,577.3 L146.9,576.8 L145.1,575.4 L143.4,574.8 L141.9,575.0 L140.5,577.3 L138.9,578.8 L137.4,576.8 L135.9,576.5 L134.1,578.8 L132.3,579.0 L131.0,576.6 L129.7,574.3 L127.9,575.1 L125.6,577.6 L124.4,575.7 L123.5,572.7 L122.0,572.2 L120.5,571.6 L118.7,571.8 L116.6,572.6 L115.4,571.3 L114.6,569.3 L113.1,568.8 L111.2,569.1 L109.8,568.6 L109.0,567.0 L108.0,565.7 L105.4,566.8 L103.6,566.4 L103.9,563.1 L102.6,562.1 L101.3,561.1 L100.1,560.0 L98.1,559.8 L95.6,560.0 L94.7,558.6 L95.0,556.0 L94.4,554.4 L93.0,553.5 L90.2,553.7 L89.8,552.0 L90.7,549.6 L90.0,548.3 L89.3,547.0 L88.6,545.6 L88.1,544.2 L85.8,543.4 L83.0,542.5 L84.6,540.4 L86.3,538.4 L86.0,536.8 L85.1,535.4 L84.0,533.8 L85.0,532.1 L85.5,530.5 L84.2,528.8 L82.0,526.9 L81.4,525.0 L83.3,523.4Z" fill="#cfbadd" stroke="#66507a" stroke-width="1.8" stroke-linejoin="round"/><path d="M107.0,522.0 L107.0,520.3 L107.1,518.6 L107.3,516.8 L107.5,515.1 L107.4,513.4 L107.0,511.5 L107.5,510.0 L108.7,508.6 L109.5,507.3 L110.0,506.0 L110.7,504.5 L111.6,503.2 L112.5,502.0 L113.6,500.9 L114.6,499.8 L115.7,498.9 L116.8,497.9 L117.5,496.4 L118.5,495.0 L119.9,494.3 L121.5,493.9 L122.7,492.8 L124.0,491.5 L125.6,490.5 L127.8,490.1 L129.1,490.2 L130.6,490.3 L132.2,490.2 L133.7,489.6 L135.4,489.1 L137.2,488.8 L138.9,489.0 L140.7,489.4 L142.4,489.6 L144.1,489.4 L145.7,488.9 L147.2,488.5 L148.6,488.7 L150.5,489.7 L152.1,490.7 L153.9,490.8 L155.4,491.7 L156.4,493.1 L157.6,494.1 L158.8,495.0 L160.2,495.8 L161.6,496.5 L162.9,497.3 L163.9,498.5 L164.7,499.8 L165.5,501.1 L166.4,502.3 L167.4,503.5 L168.7,504.6 L169.9,505.7 L170.8,507.1 L171.0,508.8 L170.8,510.7 L170.9,512.4 L171.3,514.1 L171.6,515.7 L171.9,517.4 L172.5,519.0 L172.7,520.5 L172.3,522.1 L171.9,523.6 L171.7,525.3 L171.4,526.9 L171.2,528.5 L170.9,530.0 L170.6,531.4 L170.4,532.8 L170.6,534.1 L170.8,536.3 L170.2,538.0 L169.1,539.3 L168.5,540.7 L167.6,542.4 L166.7,543.5 L165.6,544.6 L164.3,545.7 L163.1,546.9 L162.2,548.4 L161.6,550.4 L160.2,551.4 L158.2,551.4 L156.9,552.3 L155.6,553.4 L154.1,554.0 L152.4,553.9 L150.8,553.4 L149.2,552.9 L147.6,552.9 L146.0,553.3 L144.5,553.9 L142.9,554.3 L141.2,554.3 L139.5,553.9 L137.8,553.6 L136.1,553.6 L134.4,553.5 L132.8,553.3 L131.3,553.0 L129.9,552.7 L128.4,552.4 L126.9,552.0 L125.5,551.5 L123.8,551.6 L122.1,551.6 L120.8,550.6 L119.9,549.2 L118.6,548.2 L116.7,548.0 L114.9,547.5 L114.1,545.7 L113.0,544.3 L111.3,543.6 L109.8,542.3 L109.4,540.3 L109.4,538.8 L109.0,537.5 L108.6,536.1 L108.3,534.6 L107.9,533.0 L107.7,531.4 L107.4,529.8 L106.5,528.3 L105.5,526.7 L105.7,525.1 L106.6,523.5Z" fill="#a8a5d6" stroke="#5f5286" stroke-width="1.4"/><g fill="#cfbadd" stroke="#8474a4" stroke-width="1.0"><circle cx="159.1" cy="559.5" r="1.8"/><circle cx="105.5" cy="495.8" r="1.8"/><circle cx="164.5" cy="485.4" r="1.8"/><circle cx="175.6" cy="534.7" r="1.8"/><circle cx="172.6" cy="555.1" r="1.8"/><circle cx="174.4" cy="548.7" r="1.8"/><circle cx="113.1" cy="559.6" r="1.8"/><circle cx="119.3" cy="484.1" r="1.8"/><circle cx="100.0" cy="541.7" r="1.8"/><circle cx="99.6" cy="522.6" r="1.8"/><circle cx="110.8" cy="496.3" r="1.8"/><circle cx="93.4" cy="539.1" r="1.8"/><circle cx="154.3" cy="488.5" r="1.8"/><circle cx="130.0" cy="561.5" r="1.8"/><circle cx="107.4" cy="560.0" r="1.8"/><circle cx="98.6" cy="503.1" r="1.8"/><circle cx="93.8" cy="520.4" r="1.8"/><circle cx="125.0" cy="558.0" r="1.8"/><circle cx="183.5" cy="548.1" r="1.8"/><circle cx="176.9" cy="498.7" r="1.8"/><circle cx="168.8" cy="491.6" r="1.8"/><circle cx="132.3" cy="486.1" r="1.8"/><circle cx="174.1" cy="494.5" r="1.8"/><circle cx="90.2" cy="527.1" r="1.8"/><circle cx="120.2" cy="564.0" r="1.8"/><circle cx="144.2" cy="485.0" r="1.8"/><circle cx="108.5" cy="546.0" r="1.8"/><circle cx="141.5" cy="566.9" r="1.8"/><circle cx="152.3" cy="558.5" r="1.8"/><circle cx="100.3" cy="527.0" r="1.8"/><circle cx="114.3" cy="552.9" r="1.8"/><circle cx="177.3" cy="514.9" r="1.8"/><circle cx="135.1" cy="565.0" r="1.8"/><circle cx="180.7" cy="523.2" r="1.8"/><circle cx="141.6" cy="558.0" r="1.8"/><circle cx="175.0" cy="542.2" r="1.8"/><circle cx="99.9" cy="546.8" r="1.8"/><circle cx="149.7" cy="477.8" r="1.8"/><circle cx="179.8" cy="511.3" r="1.8"/><circle cx="185.9" cy="517.8" r="1.8"/><circle cx="157.8" cy="566.0" r="1.8"/><circle cx="130.1" cy="555.9" r="1.8"/><circle cx="117.2" cy="493.0" r="1.8"/><circle cx="108.4" cy="488.4" r="1.8"/><circle cx="146.4" cy="563.0" r="1.8"/><circle cx="160.9" cy="554.1" r="1.8"/><circle cx="181.4" cy="529.5" r="1.8"/><circle cx="186.2" cy="524.8" r="1.8"/><circle cx="140.2" cy="478.2" r="1.8"/><circle cx="130.7" cy="568.4" r="1.8"/><circle cx="101.4" cy="553.8" r="1.8"/><circle cx="162.9" cy="563.5" r="1.8"/><circle cx="100.9" cy="536.8" r="1.8"/><circle cx="100.6" cy="496.8" r="1.8"/><circle cx="93.9" cy="546.4" r="1.8"/><circle cx="133.1" cy="479.3" r="1.8"/><circle cx="104.4" cy="530.7" r="1.8"/><circle cx="167.7" cy="560.4" r="1.8"/><circle cx="103.4" cy="505.9" r="1.8"/><circle cx="174.9" cy="558.7" r="1.8"/><circle cx="92.5" cy="515.7" r="1.8"/><circle cx="121.4" cy="489.4" r="1.8"/><circle cx="106.0" cy="501.3" r="1.8"/><circle cx="95.1" cy="531.1" r="1.8"/><circle cx="113.5" cy="490.3" r="1.8"/><circle cx="107.4" cy="550.3" r="1.8"/><circle cx="135.9" cy="560.5" r="1.8"/><circle cx="96.2" cy="512.1" r="1.8"/><circle cx="184.2" cy="543.2" r="1.8"/><circle cx="180.9" cy="551.9" r="1.8"/><circle cx="155.3" cy="562.0" r="1.8"/><circle cx="184.0" cy="507.6" r="1.8"/><circle cx="118.1" cy="557.3" r="1.8"/><circle cx="158.9" cy="488.0" r="1.8"/><circle cx="137.4" cy="569.9" r="1.8"/><circle cx="169.1" cy="486.8" r="1.8"/><circle cx="172.6" cy="502.7" r="1.8"/><circle cx="153.1" cy="566.2" r="1.8"/><circle cx="158.7" cy="480.5" r="1.8"/><circle cx="164.5" cy="494.7" r="1.8"/><circle cx="90.4" cy="534.2" r="1.8"/><circle cx="98.5" cy="515.8" r="1.8"/><circle cx="105.9" cy="542.4" r="1.8"/><circle cx="146.0" cy="570.4" r="1.8"/><circle cx="176.8" cy="526.6" r="1.8"/><circle cx="175.8" cy="509.0" r="1.8"/><circle cx="163.9" cy="490.1" r="1.8"/><circle cx="126.9" cy="485.2" r="1.8"/><circle cx="165.8" cy="555.6" r="1.8"/><circle cx="120.1" cy="553.4" r="1.8"/><circle cx="179.1" cy="505.1" r="1.8"/><circle cx="169.0" cy="551.5" r="1.8"/><circle cx="152.9" cy="484.3" r="1.8"/><circle cx="116.0" cy="564.6" r="1.8"/><circle cx="94.7" cy="524.9" r="1.8"/><circle cx="172.2" cy="538.3" r="1.8"/><circle cx="183.1" cy="534.3" r="1.8"/><circle cx="103.9" cy="519.8" r="1.8"/><circle cx="169.3" cy="545.0" r="1.8"/><circle cx="182.1" cy="501.8" r="1.8"/><circle cx="112.4" cy="485.4" r="1.8"/><circle cx="125.3" cy="563.5" r="1.8"/><circle cx="179.7" cy="544.2" r="1.8"/><circle cx="123.8" cy="567.5" r="1.8"/><circle cx="102.8" cy="514.0" r="1.8"/><circle cx="125.7" cy="479.8" r="1.8"/><circle cx="169.4" cy="497.9" r="1.8"/><circle cx="186.8" cy="512.4" r="1.8"/><circle cx="173.0" cy="490.0" r="1.8"/><circle cx="109.5" cy="554.3" r="1.8"/></g>
<g stroke="#66507a" stroke-width="2.8" stroke-linejoin="round" fill="#66507a"><path d="M237.6,485.0 C239.6,484.3 251.9,485.7 254.0,487.0 C256.1,488.3 253.8,492.1 255.7,496.0 C257.6,499.9 266.8,515.1 270.0,520.0 C273.2,524.9 279.9,535.5 283.0,538.0 C286.1,540.5 297.0,539.5 297.0,541.0 C297.0,542.5 285.4,550.3 283.0,551.0 C280.6,551.7 280.4,547.9 276.0,547.0 C271.6,546.1 250.4,542.5 245.0,543.0 C239.6,543.5 231.5,551.8 230.0,551.0 C228.5,550.2 231.5,540.7 232.0,536.0 C232.5,531.3 233.5,516.0 234.0,511.0 C234.5,506.0 236.3,496.0 236.7,493.0 C237.1,490.0 235.6,485.7 237.6,485.0Z"/><path d="M241.2,485.3 L240.4,485.0 L239.3,484.6 L237.9,484.1 L236.4,483.6 L234.8,483.1 L233.1,482.5 L231.4,482.0 L229.7,481.4 L228.0,481.0 L226.4,480.6 L224.7,480.2 L222.9,479.8 L221.1,479.5 L219.2,479.2 L217.4,479.0 L215.8,478.8 L214.3,478.6 L213.1,478.4 L212.1,478.3 L211.9,479.7 L212.8,479.9 L214.0,480.2 L215.5,480.6 L217.1,480.9 L218.8,481.4 L220.6,481.8 L222.3,482.3 L224.0,482.9 L225.6,483.4 L226.9,484.0 L228.4,484.8 L229.9,485.6 L231.4,486.4 L232.9,487.3 L234.4,488.1 L235.7,488.9 L236.9,489.7 L238.0,490.3 L238.8,490.7Z"/><path d="M236.4,489.6 L235.3,489.3 L233.7,489.0 L231.8,488.6 L229.9,488.3 L228.1,488.0 L226.0,488.0 L224.0,488.2 L222.2,488.4 L221.0,488.5 L221.0,489.5 L222.3,489.5 L224.0,489.6 L226.0,489.7 L227.9,490.0 L229.4,490.4 L231.2,490.9 L233.0,491.5 L234.5,492.1 L235.6,492.4Z"/><path d="M239.9,486.4 L239.4,485.3 L238.6,483.8 L237.8,482.1 L237.0,480.6 L235.6,478.3 L234.4,476.8 L233.6,477.2 L234.2,479.0 L235.0,481.4 L235.3,482.9 L235.6,484.7 L235.9,486.4 L236.1,487.6Z"/><path d="M253.3,492.2 L254.2,491.8 L255.3,491.2 L256.5,490.5 L257.9,489.7 L259.4,488.9 L261.0,488.0 L262.6,487.2 L264.2,486.3 L265.9,485.5 L267.5,484.8 L269.0,484.1 L270.4,483.6 L271.9,483.2 L273.6,482.9 L275.3,482.6 L277.0,482.4 L278.8,482.3 L280.5,482.1 L282.1,482.0 L283.6,481.9 L285.0,481.9 L286.1,481.8 L287.0,481.7 L287.0,480.3 L286.1,480.3 L285.0,480.2 L283.6,480.1 L282.1,480.1 L280.5,480.0 L278.7,479.9 L276.9,479.9 L275.1,479.9 L273.2,480.0 L271.4,480.1 L269.6,480.4 L268.0,480.7 L266.2,481.0 L264.4,481.5 L262.6,482.0 L260.7,482.5 L258.9,483.1 L257.1,483.7 L255.5,484.2 L254.0,484.7 L252.7,485.1 L251.5,485.5 L250.7,485.8Z"/><path d="M275.8,545.5 L276.7,545.4 L277.8,545.3 L279.1,545.1 L280.6,545.0 L282.2,544.8 L283.8,544.6 L285.6,544.4 L287.3,544.2 L289.1,544.0 L290.8,543.9 L292.5,543.7 L294.1,543.7 L295.5,543.7 L296.8,543.7 L298.8,543.8 L300.8,544.0 L302.7,544.3 L304.5,544.6 L306.2,545.0 L307.6,545.2 L308.8,545.5 L309.8,545.7 L310.2,544.3 L309.3,544.0 L308.1,543.6 L306.7,543.1 L305.1,542.5 L303.3,541.9 L301.4,541.3 L299.3,540.8 L297.2,540.3 L295.9,540.1 L294.4,539.8 L292.8,539.6 L291.1,539.2 L289.3,538.9 L287.6,538.5 L285.8,538.2 L284.1,537.9 L282.4,537.6 L280.8,537.3 L279.4,537.1 L278.1,536.9 L277.0,536.7 L276.2,536.5Z"/><path d="M300.5,542.1 L301.6,541.5 L303.2,540.6 L304.9,539.5 L306.4,538.6 L308.3,536.7 L309.4,535.3 L308.6,534.7 L307.5,535.9 L305.6,537.4 L304.2,538.1 L302.4,538.8 L300.7,539.4 L299.5,539.9Z"/><path d="M276.6,547.0 L277.1,547.9 L277.6,549.1 L278.3,550.5 L279.0,552.1 L279.8,553.8 L280.6,555.5 L281.3,557.3 L282.1,558.9 L282.6,560.4 L283.2,562.0 L283.7,563.7 L284.3,565.4 L284.8,567.1 L285.3,568.7 L285.8,570.1 L286.1,571.2 L286.4,572.1 L287.6,571.9 L287.4,570.9 L287.2,569.7 L287.0,568.3 L286.7,566.6 L286.4,564.9 L286.0,563.1 L285.7,561.3 L285.4,559.6 L285.1,558.0 L284.9,556.3 L284.6,554.4 L284.4,552.5 L284.1,550.6 L283.9,548.9 L283.7,547.3 L283.5,546.0 L283.4,545.0Z"/><path d="M281.9,557.5 L281.5,558.5 L281.0,560.0 L280.4,561.7 L279.8,563.4 L279.4,564.8 L278.8,567.3 L278.5,568.9 L279.5,569.1 L279.9,567.6 L280.6,565.2 L281.2,564.0 L282.0,562.4 L282.9,560.9 L283.6,559.5 L284.1,558.5Z"/><path d="M237.8,541.0 L237.1,541.6 L236.2,542.2 L235.1,542.9 L233.8,543.7 L232.4,544.7 L230.9,545.6 L229.4,546.6 L227.8,547.7 L226.3,548.8 L224.8,549.8 L223.3,550.9 L221.9,551.9 L220.6,552.9 L219.2,553.9 L217.9,554.9 L216.6,555.9 L215.4,556.9 L214.2,557.9 L213.0,558.9 L211.8,560.0 L210.6,561.1 L209.4,562.3 L208.2,563.5 L206.9,564.8 L205.9,565.9 L204.8,567.0 L203.7,568.3 L202.5,569.6 L201.3,571.0 L200.1,572.4 L198.9,573.8 L197.8,575.2 L196.6,576.5 L195.6,577.8 L194.6,579.0 L193.7,580.1 L192.8,581.1 L192.1,581.9 L191.6,582.6 L192.4,583.4 L193.1,582.8 L193.9,582.0 L194.8,581.1 L195.8,580.1 L196.9,579.0 L198.0,577.8 L199.3,576.5 L200.5,575.3 L201.8,574.0 L203.1,572.7 L204.4,571.5 L205.7,570.3 L206.9,569.1 L208.0,568.1 L209.1,567.2 L210.5,566.0 L211.8,565.0 L213.1,564.0 L214.3,563.0 L215.5,562.1 L216.8,561.3 L218.0,560.4 L219.3,559.6 L220.6,558.8 L221.9,557.9 L223.4,557.1 L224.7,556.4 L226.2,555.7 L227.7,555.0 L229.4,554.3 L231.1,553.6 L232.7,552.8 L234.4,552.1 L236.0,551.5 L237.5,550.9 L238.9,550.3 L240.2,549.8 L241.3,549.3 L242.2,549.0Z"/><path d="M211.6,559.5 L210.5,559.9 L209.0,560.5 L207.3,561.1 L205.5,561.7 L203.9,562.2 L202.2,562.6 L200.3,562.9 L198.6,563.1 L197.0,563.3 L195.9,563.5 L196.1,564.5 L197.1,564.4 L198.7,564.3 L200.5,564.2 L202.4,564.0 L204.1,563.8 L205.9,563.6 L207.9,563.2 L209.7,562.9 L211.3,562.6 L212.4,562.5Z"/><path d="M210.8,563.0 L210.9,564.3 L211.1,566.2 L211.3,568.0 L211.4,570.3 L211.5,572.0 L212.5,572.0 L212.6,570.3 L212.7,568.0 L212.9,566.2 L213.1,564.3 L213.2,563.0Z"/></g>
<g fill="#cfbadd"><path d="M237.6,485.0 C239.6,484.3 251.9,485.7 254.0,487.0 C256.1,488.3 253.8,492.1 255.7,496.0 C257.6,499.9 266.8,515.1 270.0,520.0 C273.2,524.9 279.9,535.5 283.0,538.0 C286.1,540.5 297.0,539.5 297.0,541.0 C297.0,542.5 285.4,550.3 283.0,551.0 C280.6,551.7 280.4,547.9 276.0,547.0 C271.6,546.1 250.4,542.5 245.0,543.0 C239.6,543.5 231.5,551.8 230.0,551.0 C228.5,550.2 231.5,540.7 232.0,536.0 C232.5,531.3 233.5,516.0 234.0,511.0 C234.5,506.0 236.3,496.0 236.7,493.0 C237.1,490.0 235.6,485.7 237.6,485.0Z"/><path d="M241.2,485.3 L240.4,485.0 L239.3,484.6 L237.9,484.1 L236.4,483.6 L234.8,483.1 L233.1,482.5 L231.4,482.0 L229.7,481.4 L228.0,481.0 L226.4,480.6 L224.7,480.2 L222.9,479.8 L221.1,479.5 L219.2,479.2 L217.4,479.0 L215.8,478.8 L214.3,478.6 L213.1,478.4 L212.1,478.3 L211.9,479.7 L212.8,479.9 L214.0,480.2 L215.5,480.6 L217.1,480.9 L218.8,481.4 L220.6,481.8 L222.3,482.3 L224.0,482.9 L225.6,483.4 L226.9,484.0 L228.4,484.8 L229.9,485.6 L231.4,486.4 L232.9,487.3 L234.4,488.1 L235.7,488.9 L236.9,489.7 L238.0,490.3 L238.8,490.7Z"/><path d="M236.4,489.6 L235.3,489.3 L233.7,489.0 L231.8,488.6 L229.9,488.3 L228.1,488.0 L226.0,488.0 L224.0,488.2 L222.2,488.4 L221.0,488.5 L221.0,489.5 L222.3,489.5 L224.0,489.6 L226.0,489.7 L227.9,490.0 L229.4,490.4 L231.2,490.9 L233.0,491.5 L234.5,492.1 L235.6,492.4Z"/><path d="M239.9,486.4 L239.4,485.3 L238.6,483.8 L237.8,482.1 L237.0,480.6 L235.6,478.3 L234.4,476.8 L233.6,477.2 L234.2,479.0 L235.0,481.4 L235.3,482.9 L235.6,484.7 L235.9,486.4 L236.1,487.6Z"/><path d="M253.3,492.2 L254.2,491.8 L255.3,491.2 L256.5,490.5 L257.9,489.7 L259.4,488.9 L261.0,488.0 L262.6,487.2 L264.2,486.3 L265.9,485.5 L267.5,484.8 L269.0,484.1 L270.4,483.6 L271.9,483.2 L273.6,482.9 L275.3,482.6 L277.0,482.4 L278.8,482.3 L280.5,482.1 L282.1,482.0 L283.6,481.9 L285.0,481.9 L286.1,481.8 L287.0,481.7 L287.0,480.3 L286.1,480.3 L285.0,480.2 L283.6,480.1 L282.1,480.1 L280.5,480.0 L278.7,479.9 L276.9,479.9 L275.1,479.9 L273.2,480.0 L271.4,480.1 L269.6,480.4 L268.0,480.7 L266.2,481.0 L264.4,481.5 L262.6,482.0 L260.7,482.5 L258.9,483.1 L257.1,483.7 L255.5,484.2 L254.0,484.7 L252.7,485.1 L251.5,485.5 L250.7,485.8Z"/><path d="M275.8,545.5 L276.7,545.4 L277.8,545.3 L279.1,545.1 L280.6,545.0 L282.2,544.8 L283.8,544.6 L285.6,544.4 L287.3,544.2 L289.1,544.0 L290.8,543.9 L292.5,543.7 L294.1,543.7 L295.5,543.7 L296.8,543.7 L298.8,543.8 L300.8,544.0 L302.7,544.3 L304.5,544.6 L306.2,545.0 L307.6,545.2 L308.8,545.5 L309.8,545.7 L310.2,544.3 L309.3,544.0 L308.1,543.6 L306.7,543.1 L305.1,542.5 L303.3,541.9 L301.4,541.3 L299.3,540.8 L297.2,540.3 L295.9,540.1 L294.4,539.8 L292.8,539.6 L291.1,539.2 L289.3,538.9 L287.6,538.5 L285.8,538.2 L284.1,537.9 L282.4,537.6 L280.8,537.3 L279.4,537.1 L278.1,536.9 L277.0,536.7 L276.2,536.5Z"/><path d="M300.5,542.1 L301.6,541.5 L303.2,540.6 L304.9,539.5 L306.4,538.6 L308.3,536.7 L309.4,535.3 L308.6,534.7 L307.5,535.9 L305.6,537.4 L304.2,538.1 L302.4,538.8 L300.7,539.4 L299.5,539.9Z"/><path d="M276.6,547.0 L277.1,547.9 L277.6,549.1 L278.3,550.5 L279.0,552.1 L279.8,553.8 L280.6,555.5 L281.3,557.3 L282.1,558.9 L282.6,560.4 L283.2,562.0 L283.7,563.7 L284.3,565.4 L284.8,567.1 L285.3,568.7 L285.8,570.1 L286.1,571.2 L286.4,572.1 L287.6,571.9 L287.4,570.9 L287.2,569.7 L287.0,568.3 L286.7,566.6 L286.4,564.9 L286.0,563.1 L285.7,561.3 L285.4,559.6 L285.1,558.0 L284.9,556.3 L284.6,554.4 L284.4,552.5 L284.1,550.6 L283.9,548.9 L283.7,547.3 L283.5,546.0 L283.4,545.0Z"/><path d="M281.9,557.5 L281.5,558.5 L281.0,560.0 L280.4,561.7 L279.8,563.4 L279.4,564.8 L278.8,567.3 L278.5,568.9 L279.5,569.1 L279.9,567.6 L280.6,565.2 L281.2,564.0 L282.0,562.4 L282.9,560.9 L283.6,559.5 L284.1,558.5Z"/><path d="M237.8,541.0 L237.1,541.6 L236.2,542.2 L235.1,542.9 L233.8,543.7 L232.4,544.7 L230.9,545.6 L229.4,546.6 L227.8,547.7 L226.3,548.8 L224.8,549.8 L223.3,550.9 L221.9,551.9 L220.6,552.9 L219.2,553.9 L217.9,554.9 L216.6,555.9 L215.4,556.9 L214.2,557.9 L213.0,558.9 L211.8,560.0 L210.6,561.1 L209.4,562.3 L208.2,563.5 L206.9,564.8 L205.9,565.9 L204.8,567.0 L203.7,568.3 L202.5,569.6 L201.3,571.0 L200.1,572.4 L198.9,573.8 L197.8,575.2 L196.6,576.5 L195.6,577.8 L194.6,579.0 L193.7,580.1 L192.8,581.1 L192.1,581.9 L191.6,582.6 L192.4,583.4 L193.1,582.8 L193.9,582.0 L194.8,581.1 L195.8,580.1 L196.9,579.0 L198.0,577.8 L199.3,576.5 L200.5,575.3 L201.8,574.0 L203.1,572.7 L204.4,571.5 L205.7,570.3 L206.9,569.1 L208.0,568.1 L209.1,567.2 L210.5,566.0 L211.8,565.0 L213.1,564.0 L214.3,563.0 L215.5,562.1 L216.8,561.3 L218.0,560.4 L219.3,559.6 L220.6,558.8 L221.9,557.9 L223.4,557.1 L224.7,556.4 L226.2,555.7 L227.7,555.0 L229.4,554.3 L231.1,553.6 L232.7,552.8 L234.4,552.1 L236.0,551.5 L237.5,550.9 L238.9,550.3 L240.2,549.8 L241.3,549.3 L242.2,549.0Z"/><path d="M211.6,559.5 L210.5,559.9 L209.0,560.5 L207.3,561.1 L205.5,561.7 L203.9,562.2 L202.2,562.6 L200.3,562.9 L198.6,563.1 L197.0,563.3 L195.9,563.5 L196.1,564.5 L197.1,564.4 L198.7,564.3 L200.5,564.2 L202.4,564.0 L204.1,563.8 L205.9,563.6 L207.9,563.2 L209.7,562.9 L211.3,562.6 L212.4,562.5Z"/><path d="M210.8,563.0 L210.9,564.3 L211.1,566.2 L211.3,568.0 L211.4,570.3 L211.5,572.0 L212.5,572.0 L212.6,570.3 L212.7,568.0 L212.9,566.2 L213.1,564.3 L213.2,563.0Z"/></g>
<ellipse cx="253" cy="523" rx="11.5" ry="14.5" fill="#a8a5d6" stroke="#5f5286" stroke-width="1.3" transform="rotate(-38 253 523)"/>
<g>
<path d="M564.0,134.0 C562.7,130.0 558.7,118.7 556.0,110.0 C553.3,101.3 548.3,88.0 548.0,82.0 C547.7,76.0 551.0,74.7 554.0,74.0 C557.0,73.3 562.3,74.7 566.0,78.0 C569.7,81.3 573.3,89.0 576.0,94.0 C578.7,99.0 580.7,108.0 582.0,108.0 C583.3,108.0 583.7,99.3 584.0,94.0 C584.3,88.7 583.7,81.3 584.0,76.0 C584.3,70.7 584.8,65.2 586.0,62.0 C587.2,58.8 589.2,57.0 591.0,57.0 C592.8,57.0 596.0,58.2 597.0,62.0 C598.0,65.8 598.0,74.0 597.0,80.0 C596.0,86.0 593.2,92.3 591.0,98.0 C588.8,103.7 584.8,108.7 584.0,114.0 C583.2,119.3 584.7,124.0 586.0,130.0 C587.3,136.0 590.7,143.3 592.0,150.0 C593.3,156.7 593.7,166.7 594.0,170.0" fill="none" stroke="#3f7f98" stroke-width="4.4" stroke-linecap="round" stroke-linejoin="round"/><path d="M564.0,134.0 C562.7,130.0 558.7,118.7 556.0,110.0 C553.3,101.3 548.3,88.0 548.0,82.0 C547.7,76.0 551.0,74.7 554.0,74.0 C557.0,73.3 562.3,74.7 566.0,78.0 C569.7,81.3 573.3,89.0 576.0,94.0 C578.7,99.0 580.7,108.0 582.0,108.0 C583.3,108.0 583.7,99.3 584.0,94.0 C584.3,88.7 583.7,81.3 584.0,76.0 C584.3,70.7 584.8,65.2 586.0,62.0 C587.2,58.8 589.2,57.0 591.0,57.0 C592.8,57.0 596.0,58.2 597.0,62.0 C598.0,65.8 598.0,74.0 597.0,80.0 C596.0,86.0 593.2,92.3 591.0,98.0 C588.8,103.7 584.8,108.7 584.0,114.0 C583.2,119.3 584.7,124.0 586.0,130.0 C587.3,136.0 590.7,143.3 592.0,150.0 C593.3,156.7 593.7,166.7 594.0,170.0" fill="none" stroke="#e3f0ee" stroke-width="1.7" stroke-linecap="round" stroke-linejoin="round"/>
<path d="M562.0,134.0 C565.7,133.0 578.7,128.3 584.0,128.0 C589.3,127.7 591.3,129.3 594.0,132.0 C596.7,134.7 595.7,142.3 600.0,144.0 C604.3,145.7 613.3,143.2 620.0,142.0 C626.7,140.8 636.7,137.8 640.0,137.0" fill="none" stroke="#3f7f98" stroke-width="4.4" stroke-linecap="round" stroke-linejoin="round"/><path d="M562.0,134.0 C565.7,133.0 578.7,128.3 584.0,128.0 C589.3,127.7 591.3,129.3 594.0,132.0 C596.7,134.7 595.7,142.3 600.0,144.0 C604.3,145.7 613.3,143.2 620.0,142.0 C626.7,140.8 636.7,137.8 640.0,137.0" fill="none" stroke="#e3f0ee" stroke-width="1.7" stroke-linecap="round" stroke-linejoin="round"/>
<ellipse cx="632" cy="152" rx="10.5" ry="7" fill="none" stroke="#3f7f98" stroke-width="7.5" transform="rotate(-15 632 152)"/>
<ellipse cx="632" cy="152" rx="10.5" ry="7" fill="none" stroke="#cfdee3" stroke-width="4.8" transform="rotate(-15 632 152)"/>
<ellipse cx="632" cy="170" rx="10.5" ry="7" fill="none" stroke="#3f7f98" stroke-width="7.5" transform="rotate(-15 632 170)"/>
<ellipse cx="632" cy="170" rx="10.5" ry="7" fill="none" stroke="#cfdee3" stroke-width="4.8" transform="rotate(-15 632 170)"/>
<ellipse cx="632" cy="188" rx="10.5" ry="7" fill="none" stroke="#3f7f98" stroke-width="7.5" transform="rotate(-15 632 188)"/>
<ellipse cx="632" cy="188" rx="10.5" ry="7" fill="none" stroke="#cfdee3" stroke-width="4.8" transform="rotate(-15 632 188)"/>
<path d="M628.0,196.0 C628.3,197.7 629.7,204.3 630.0,206.0" fill="none" stroke="#3f7f98" stroke-width="4.4" stroke-linecap="round" stroke-linejoin="round"/><path d="M628.0,196.0 C628.3,197.7 629.7,204.3 630.0,206.0" fill="none" stroke="#e3f0ee" stroke-width="1.7" stroke-linecap="round" stroke-linejoin="round"/>
<path d="M521.4,179.4 L522.1,179.8 L523.0,180.4 L524.0,181.0 L525.1,181.7 L526.3,182.5 L527.5,183.3 L528.9,184.1 L530.3,185.1 L531.8,186.0 L533.3,186.9 L534.8,187.9 L536.4,188.9 L537.9,189.8 L539.5,190.8 L541.0,191.7 L542.5,192.5 L544.0,193.2 L545.5,193.8 L546.8,194.4 L548.1,195.0 L549.8,195.7 L551.5,196.5 L553.1,197.2 L554.7,197.9 L556.3,198.6 L557.9,199.3 L559.5,199.9 L561.1,200.5 L562.8,201.0 L564.5,201.3 L566.3,201.5 L568.2,201.6 L570.0,201.5 L571.8,201.3 L573.7,201.1 L575.6,200.7 L577.5,200.3 L579.4,199.7 L581.2,199.1 L583.0,198.3 L584.8,197.5 L586.4,196.5 L588.0,195.3 L589.5,194.0 L590.8,192.5 L591.9,190.9 L592.7,189.0 L593.4,187.1 L593.9,185.2 L594.2,183.2 L594.5,181.2 L594.7,179.2 L594.9,177.3 L595.0,175.5 L595.1,173.9 L595.2,172.4 L595.3,171.3 L595.5,170.4 L592.5,169.6 L592.2,170.6 L591.8,171.8 L591.4,173.2 L591.0,174.8 L590.5,176.5 L589.9,178.2 L589.3,180.0 L588.7,181.7 L588.0,183.3 L587.3,184.7 L586.5,186.0 L585.8,186.9 L585.2,187.5 L584.4,188.0 L583.4,188.6 L582.3,189.1 L581.2,189.5 L579.9,189.9 L578.5,190.2 L577.1,190.4 L575.7,190.5 L574.2,190.6 L572.8,190.6 L571.4,190.6 L570.0,190.5 L568.9,190.3 L567.9,190.1 L566.8,189.8 L565.7,189.4 L564.5,189.2 L563.2,188.8 L561.9,188.4 L560.4,188.0 L558.9,187.4 L557.3,186.9 L555.6,186.3 L553.8,185.6 L551.9,185.0 L550.7,184.6 L549.3,184.2 L547.9,183.7 L546.4,183.1 L544.8,182.6 L543.1,182.1 L541.4,181.7 L539.7,181.2 L537.9,180.8 L536.2,180.3 L534.5,179.8 L532.8,179.4 L531.2,179.0 L529.6,178.5 L528.2,178.1 L526.8,177.8 L525.6,177.4 L524.4,177.1 L523.4,176.8 L522.6,176.6Z" fill="#cfdee3" stroke="#3f7f98" stroke-width="1.3" stroke-linejoin="round"/>
<ellipse cx="516.0" cy="159.0" rx="7" ry="10" fill="none" stroke="#3f7f98" stroke-width="6.5" transform="rotate(-20 516.0 159.0)"/>
<ellipse cx="516.0" cy="159.0" rx="7" ry="10" fill="none" stroke="#cfdee3" stroke-width="4" transform="rotate(-20 516.0 159.0)"/>
<ellipse cx="525.0" cy="165.0" rx="7" ry="10" fill="none" stroke="#3f7f98" stroke-width="6.5" transform="rotate(-20 525.0 165.0)"/>
<ellipse cx="525.0" cy="165.0" rx="7" ry="10" fill="none" stroke="#cfdee3" stroke-width="4" transform="rotate(-20 525.0 165.0)"/>
<ellipse cx="534.0" cy="171.0" rx="7" ry="10" fill="none" stroke="#3f7f98" stroke-width="6.5" transform="rotate(-20 534.0 171.0)"/>
<ellipse cx="534.0" cy="171.0" rx="7" ry="10" fill="none" stroke="#cfdee3" stroke-width="4" transform="rotate(-20 534.0 171.0)"/>
<ellipse cx="543.0" cy="178.0" rx="7" ry="10" fill="none" stroke="#3f7f98" stroke-width="6.5" transform="rotate(-20 543.0 178.0)"/>
<ellipse cx="543.0" cy="178.0" rx="7" ry="10" fill="none" stroke="#cfdee3" stroke-width="4" transform="rotate(-20 543.0 178.0)"/>
<path d="M438.6,118.6 C440.1,114.7 444.0,110.6 448.7,108.5 C453.4,106.4 461.1,104.9 467.0,106.0 C472.9,107.1 480.0,111.3 484.0,115.3 C488.0,119.3 490.2,123.9 491.0,130.0 C491.8,136.1 492.4,148.0 489.0,152.0 C485.6,156.0 476.8,155.3 470.6,154.0 C464.4,152.7 457.1,147.7 452.0,144.0 C446.9,140.3 442.2,136.2 440.0,132.0 C437.8,127.8 437.2,122.5 438.6,118.6Z" fill="none" stroke="#3f7f98" stroke-width="4.4" stroke-linecap="round" stroke-linejoin="round"/><path d="M438.6,118.6 C440.1,114.7 444.0,110.6 448.7,108.5 C453.4,106.4 461.1,104.9 467.0,106.0 C472.9,107.1 480.0,111.3 484.0,115.3 C488.0,119.3 490.2,123.9 491.0,130.0 C491.8,136.1 492.4,148.0 489.0,152.0 C485.6,156.0 476.8,155.3 470.6,154.0 C464.4,152.7 457.1,147.7 452.0,144.0 C446.9,140.3 442.2,136.2 440.0,132.0 C437.8,127.8 437.2,122.5 438.6,118.6Z" fill="none" stroke="#e3f0ee" stroke-width="1.7" stroke-linecap="round" stroke-linejoin="round"/>
<path d="M464.1,113.7 L464.7,114.4 L465.4,115.2 L466.2,116.1 L467.1,117.2 L468.1,118.3 L469.2,119.5 L470.2,120.8 L471.3,122.1 L472.4,123.5 L473.5,124.8 L474.6,126.2 L475.5,127.5 L476.4,128.8 L477.2,130.0 L478.0,131.2 L478.8,132.5 L479.5,133.8 L480.2,135.1 L480.9,136.5 L481.6,137.8 L482.2,139.2 L482.9,140.6 L483.5,142.1 L484.2,143.5 L484.9,144.9 L485.6,146.4 L486.4,147.9 L487.1,149.3 L487.8,150.6 L488.4,152.0 L489.1,153.4 L489.8,154.9 L490.5,156.3 L491.2,157.8 L491.9,159.2 L492.6,160.7 L493.3,162.1 L494.0,163.6 L494.7,165.1 L495.4,166.5 L496.1,168.0 L496.8,169.4 L497.5,170.8 L498.1,172.3 L498.8,173.7 L499.5,175.2 L500.3,176.6 L501.0,178.1 L501.7,179.5 L502.4,180.9 L503.1,182.4 L503.8,183.8 L504.6,185.2 L505.3,186.6 L506.0,188.1 L506.7,189.5 L507.5,191.0 L508.3,192.6 L509.2,194.1 L510.0,195.7 L510.8,197.3 L511.6,198.9 L512.4,200.3 L513.2,201.8 L513.9,203.1 L514.5,204.3 L515.1,205.4 L515.6,206.3 L516.0,207.1 L524.0,202.9 L523.6,202.1 L523.1,201.2 L522.5,200.1 L521.8,198.9 L521.1,197.5 L520.4,196.1 L519.6,194.6 L518.8,193.1 L518.0,191.5 L517.1,190.0 L516.3,188.4 L515.5,186.9 L514.7,185.4 L514.0,183.9 L513.3,182.6 L512.6,181.2 L511.9,179.8 L511.2,178.3 L510.5,176.9 L509.7,175.5 L509.0,174.1 L508.3,172.6 L507.6,171.2 L506.9,169.8 L506.1,168.3 L505.4,166.9 L504.7,165.5 L503.9,164.0 L503.2,162.6 L502.5,161.2 L501.7,159.8 L501.0,158.3 L500.3,156.9 L499.5,155.4 L498.8,154.0 L498.1,152.6 L497.3,151.1 L496.6,149.7 L495.8,148.3 L495.1,146.9 L494.4,145.5 L493.6,144.1 L492.8,142.7 L492.1,141.3 L491.4,139.9 L490.6,138.4 L489.8,137.1 L489.0,135.7 L488.2,134.3 L487.4,132.9 L486.5,131.5 L485.7,130.1 L484.7,128.8 L483.8,127.4 L482.8,126.0 L481.7,124.8 L480.6,123.4 L479.5,122.1 L478.2,120.8 L477.0,119.5 L475.7,118.2 L474.5,116.9 L473.3,115.7 L472.1,114.6 L471.1,113.5 L470.1,112.5 L469.2,111.7 L468.5,110.9 L467.9,110.3Z" fill="#cfdee3" stroke="#3f7f98" stroke-width="1.3" stroke-linejoin="round"/>
<path d="M435.3,152.3 C435.9,149.5 437.8,145.6 442.0,145.6 C446.2,145.6 454.1,149.5 460.5,152.3 C466.9,155.1 476.8,159.3 480.7,162.4 C484.6,165.5 484.6,168.0 484.0,170.8 C483.4,173.6 480.4,177.5 477.3,179.2 C474.2,180.9 469.7,181.8 465.5,181.0 C461.3,180.2 456.5,177.3 452.0,174.2 C447.5,171.1 441.4,166.1 438.6,162.4 C435.8,158.8 434.7,155.1 435.3,152.3Z" fill="none" stroke="#3f7f98" stroke-width="4.4" stroke-linecap="round" stroke-linejoin="round"/><path d="M435.3,152.3 C435.9,149.5 437.8,145.6 442.0,145.6 C446.2,145.6 454.1,149.5 460.5,152.3 C466.9,155.1 476.8,159.3 480.7,162.4 C484.6,165.5 484.6,168.0 484.0,170.8 C483.4,173.6 480.4,177.5 477.3,179.2 C474.2,180.9 469.7,181.8 465.5,181.0 C461.3,180.2 456.5,177.3 452.0,174.2 C447.5,171.1 441.4,166.1 438.6,162.4 C435.8,158.8 434.7,155.1 435.3,152.3Z" fill="none" stroke="#e3f0ee" stroke-width="1.7" stroke-linecap="round" stroke-linejoin="round"/>
<path d="M467.2,106.0 C470.0,107.0 478.9,107.7 484.0,112.0 C489.1,116.3 494.1,124.5 497.5,132.0 C500.9,139.5 502.1,150.5 504.3,157.0 C506.6,163.5 507.1,165.7 511.0,170.8 C514.9,175.9 522.1,183.4 527.8,187.6 C533.5,191.8 539.6,191.4 545.0,196.0 C550.4,200.6 556.8,208.0 560.0,215.0 C563.2,222.0 565.2,231.8 564.0,238.0 C562.8,244.2 558.3,249.3 553.0,252.0 C547.7,254.7 536.8,256.0 532.0,254.0 C527.2,252.0 523.5,243.8 524.0,240.0 C524.5,236.2 533.2,232.5 535.0,231.0" fill="none" stroke="#3f7f98" stroke-width="4.4" stroke-linecap="round" stroke-linejoin="round"/><path d="M467.2,106.0 C470.0,107.0 478.9,107.7 484.0,112.0 C489.1,116.3 494.1,124.5 497.5,132.0 C500.9,139.5 502.1,150.5 504.3,157.0 C506.6,163.5 507.1,165.7 511.0,170.8 C514.9,175.9 522.1,183.4 527.8,187.6 C533.5,191.8 539.6,191.4 545.0,196.0 C550.4,200.6 556.8,208.0 560.0,215.0 C563.2,222.0 565.2,231.8 564.0,238.0 C562.8,244.2 558.3,249.3 553.0,252.0 C547.7,254.7 536.8,256.0 532.0,254.0 C527.2,252.0 523.5,243.8 524.0,240.0 C524.5,236.2 533.2,232.5 535.0,231.0" fill="none" stroke="#e3f0ee" stroke-width="1.7" stroke-linecap="round" stroke-linejoin="round"/>
<path d="M438.2,171.6 L439.0,172.0 L439.9,172.5 L441.0,173.1 L442.2,173.8 L443.6,174.5 L445.0,175.3 L446.5,176.2 L448.0,177.0 L449.6,177.9 L451.3,178.8 L452.9,179.7 L454.6,180.6 L456.2,181.5 L457.8,182.4 L459.1,183.1 L460.4,183.8 L461.7,184.5 L463.1,185.2 L464.5,185.9 L465.9,186.7 L467.3,187.4 L468.7,188.2 L470.2,188.9 L471.6,189.7 L473.1,190.3 L474.5,191.0 L475.9,191.7 L477.3,192.3 L478.7,192.9 L480.1,193.6 L481.4,194.2 L482.7,194.8 L484.3,195.6 L485.9,196.3 L487.5,197.0 L489.0,197.6 L490.5,198.3 L491.9,198.9 L493.3,199.6 L494.7,200.2 L496.0,200.8 L497.3,201.4 L498.6,202.1 L499.8,202.8 L501.0,203.5 L502.3,204.2 L503.5,205.0 L504.7,205.8 L506.0,206.6 L507.3,207.5 L508.6,208.4 L509.8,209.3 L511.1,210.3 L512.3,211.3 L513.6,212.2 L514.8,213.2 L516.0,214.1 L517.1,215.1 L518.3,216.0 L519.4,216.9 L520.7,218.0 L522.1,219.1 L523.4,220.3 L524.7,221.5 L526.0,222.7 L527.2,223.8 L528.4,224.9 L529.4,225.8 L530.4,226.7 L531.2,227.5 L531.9,228.1 L536.1,223.9 L535.6,223.2 L534.9,222.4 L534.0,221.5 L533.1,220.4 L532.0,219.1 L530.9,217.9 L529.7,216.5 L528.5,215.2 L527.2,213.8 L525.9,212.4 L524.6,211.1 L523.6,210.1 L522.6,209.1 L521.5,208.0 L520.4,206.9 L519.3,205.7 L518.1,204.6 L516.9,203.5 L515.7,202.3 L514.4,201.2 L513.2,200.0 L511.9,198.9 L510.5,197.8 L509.2,196.8 L507.7,195.8 L506.3,194.9 L504.9,194.0 L503.4,193.2 L502.0,192.4 L500.6,191.6 L499.1,190.9 L497.7,190.2 L496.3,189.5 L494.8,188.8 L493.3,188.1 L491.9,187.4 L490.4,186.7 L488.9,186.0 L487.3,185.2 L486.1,184.6 L484.7,183.9 L483.4,183.2 L482.0,182.6 L480.6,181.9 L479.2,181.2 L477.8,180.4 L476.3,179.7 L474.8,179.1 L473.4,178.4 L471.9,177.8 L470.4,177.2 L469.0,176.6 L467.5,175.9 L466.1,175.3 L464.8,174.7 L463.4,174.2 L462.2,173.6 L460.5,172.9 L458.8,172.1 L457.1,171.4 L455.4,170.6 L453.7,169.8 L452.0,169.1 L450.4,168.3 L448.8,167.6 L447.4,167.0 L446.0,166.3 L444.7,165.8 L443.6,165.2 L442.6,164.8 L441.8,164.4Z" fill="#cfdee3" stroke="#3f7f98" stroke-width="1.3" stroke-linejoin="round"/>
<path d="M407.1,190.7 L407.9,191.2 L408.7,191.7 L409.8,192.4 L410.9,193.1 L412.2,194.0 L413.6,194.9 L415.0,195.8 L416.5,196.7 L418.1,197.7 L419.6,198.7 L421.2,199.7 L422.8,200.6 L424.3,201.5 L425.8,202.4 L427.3,203.2 L428.7,204.0 L430.1,204.7 L431.5,205.3 L432.8,205.9 L434.0,206.5 L435.2,207.0 L436.5,207.5 L437.7,208.0 L439.0,208.6 L440.4,209.1 L441.9,209.8 L443.6,210.5 L445.3,211.4 L447.3,212.4 L448.4,212.9 L449.5,213.4 L450.6,214.0 L451.8,214.6 L453.1,215.2 L454.3,215.8 L455.6,216.5 L457.0,217.1 L458.4,217.8 L459.8,218.5 L461.2,219.2 L462.6,219.9 L464.1,220.6 L465.5,221.3 L467.0,222.0 L468.4,222.8 L469.9,223.5 L471.4,224.3 L472.8,225.0 L474.2,225.8 L475.6,226.5 L477.0,227.3 L478.4,228.0 L479.7,228.8 L481.0,229.5 L482.2,230.2 L483.4,230.9 L484.6,231.6 L485.7,232.3 L486.7,233.0 L488.1,233.9 L489.4,234.8 L490.7,235.8 L492.0,236.7 L493.3,237.7 L494.5,238.6 L495.7,239.6 L496.9,240.6 L498.0,241.6 L499.2,242.6 L500.3,243.6 L501.4,244.5 L502.4,245.5 L503.5,246.5 L504.5,247.5 L505.5,248.4 L506.5,249.4 L507.5,250.3 L508.4,251.3 L509.3,252.2 L510.3,253.0 L511.2,253.9 L512.7,255.2 L514.1,256.4 L515.4,257.6 L516.6,258.7 L517.7,259.7 L518.8,260.7 L519.7,261.7 L520.6,262.6 L521.4,263.5 L522.2,264.4 L522.9,265.3 L523.5,266.2 L524.1,267.1 L524.8,268.3 L525.4,269.6 L526.0,270.8 L526.4,272.1 L526.8,273.3 L527.1,274.6 L527.3,275.8 L527.4,277.1 L527.4,278.3 L527.4,279.5 L527.2,280.7 L527.0,281.9 L526.7,283.2 L526.2,284.5 L525.7,285.8 L525.1,287.1 L524.4,288.3 L523.7,289.6 L522.8,290.8 L521.9,292.0 L521.0,293.0 L520.1,294.0 L519.0,295.0 L517.8,296.0 L516.6,297.0 L515.3,297.9 L514.0,298.9 L512.6,299.7 L511.2,300.6 L509.8,301.4 L508.3,302.2 L507.0,302.9 L505.6,303.6 L504.1,304.3 L502.5,304.9 L500.8,305.5 L499.1,306.1 L497.4,306.6 L495.7,307.2 L494.2,307.6 L492.7,308.1 L491.4,308.4 L490.3,308.8 L489.4,309.1 L490.6,312.9 L491.5,312.7 L492.5,312.4 L493.8,312.0 L495.3,311.6 L496.9,311.2 L498.6,310.7 L500.4,310.2 L502.2,309.7 L504.0,309.1 L505.7,308.5 L507.4,307.8 L509.0,307.1 L510.5,306.3 L512.0,305.6 L513.5,304.7 L515.1,303.9 L516.6,303.0 L518.1,302.1 L519.5,301.1 L521.0,300.1 L522.4,299.1 L523.7,298.1 L525.0,297.1 L526.1,296.0 L527.4,294.6 L528.6,293.2 L529.7,291.8 L530.7,290.3 L531.6,288.7 L532.5,287.1 L533.2,285.5 L533.8,283.9 L534.3,282.2 L534.6,280.5 L534.9,278.8 L535.0,277.1 L535.0,275.3 L534.9,273.5 L534.7,271.8 L534.4,270.0 L533.9,268.2 L533.4,266.4 L532.7,264.7 L531.9,262.9 L531.2,261.6 L530.5,260.3 L529.7,259.0 L528.8,257.7 L527.9,256.5 L527.0,255.3 L526.0,254.1 L524.9,252.8 L523.8,251.6 L522.6,250.3 L521.4,249.0 L520.1,247.6 L518.8,246.1 L518.0,245.2 L517.1,244.4 L516.2,243.4 L515.3,242.5 L514.4,241.5 L513.4,240.5 L512.4,239.5 L511.4,238.4 L510.3,237.4 L509.2,236.3 L508.1,235.2 L506.9,234.1 L505.7,233.0 L504.5,231.9 L503.2,230.7 L501.9,229.6 L500.6,228.5 L499.2,227.4 L497.8,226.3 L496.4,225.1 L494.9,224.1 L493.3,223.0 L492.1,222.2 L490.9,221.4 L489.6,220.7 L488.3,219.9 L487.0,219.1 L485.6,218.3 L484.2,217.5 L482.8,216.7 L481.3,216.0 L479.9,215.2 L478.4,214.4 L476.9,213.6 L475.4,212.9 L473.9,212.1 L472.4,211.3 L470.9,210.6 L469.4,209.8 L467.9,209.1 L466.5,208.4 L465.0,207.7 L463.6,207.0 L462.3,206.3 L460.9,205.7 L459.6,205.0 L458.3,204.4 L457.1,203.8 L455.9,203.2 L454.8,202.7 L453.7,202.1 L452.7,201.6 L450.6,200.6 L448.6,199.7 L446.9,198.9 L445.2,198.1 L443.7,197.5 L442.3,196.9 L441.0,196.4 L439.8,195.9 L438.6,195.4 L437.5,195.0 L436.4,194.5 L435.2,194.0 L434.0,193.4 L432.7,192.8 L431.4,192.1 L430.0,191.4 L428.6,190.6 L427.1,189.7 L425.5,188.9 L424.0,188.0 L422.5,187.1 L421.0,186.2 L419.5,185.3 L418.2,184.5 L416.9,183.7 L415.7,183.0 L414.6,182.3 L413.6,181.8 L412.9,181.3Z" fill="#cfdee3" stroke="#3f7f98" stroke-width="1.3" stroke-linejoin="round"/>
<path d="M426.0,184.0 C424.0,186.3 416.5,192.7 414.0,198.0 C411.5,203.3 410.7,209.7 411.0,216.0 C411.3,222.3 412.5,231.3 416.0,236.0 C419.5,240.7 429.3,242.7 432.0,244.0" fill="none" stroke="#3f7f98" stroke-width="4.4" stroke-linecap="round" stroke-linejoin="round"/><path d="M426.0,184.0 C424.0,186.3 416.5,192.7 414.0,198.0 C411.5,203.3 410.7,209.7 411.0,216.0 C411.3,222.3 412.5,231.3 416.0,236.0 C419.5,240.7 429.3,242.7 432.0,244.0" fill="none" stroke="#e3f0ee" stroke-width="1.7" stroke-linecap="round" stroke-linejoin="round"/>
<path d="M428.0,205.0 C428.8,207.8 430.2,216.8 433.0,222.0 C435.8,227.2 440.5,232.7 445.0,236.0 C449.5,239.3 453.3,240.8 460.0,242.0 C466.7,243.2 477.5,243.7 485.0,243.0 C492.5,242.3 501.7,238.8 505.0,238.0" fill="none" stroke="#3f7f98" stroke-width="4.4" stroke-linecap="round" stroke-linejoin="round"/><path d="M428.0,205.0 C428.8,207.8 430.2,216.8 433.0,222.0 C435.8,227.2 440.5,232.7 445.0,236.0 C449.5,239.3 453.3,240.8 460.0,242.0 C466.7,243.2 477.5,243.7 485.0,243.0 C492.5,242.3 501.7,238.8 505.0,238.0" fill="none" stroke="#e3f0ee" stroke-width="1.7" stroke-linecap="round" stroke-linejoin="round"/>
<path d="M426.4,250.2 L427.3,250.6 L428.2,251.0 L429.3,251.5 L430.5,252.0 L431.8,252.5 L433.2,253.1 L434.7,253.7 L436.2,254.3 L437.7,254.9 L439.3,255.6 L440.9,256.3 L442.5,257.1 L444.0,257.8 L445.6,258.6 L447.1,259.3 L448.5,260.1 L449.8,260.8 L451.0,261.6 L452.1,262.3 L453.2,263.1 L454.3,263.9 L455.4,264.7 L456.5,265.6 L457.5,266.5 L458.7,267.4 L459.8,268.2 L461.0,269.1 L462.2,270.0 L463.4,271.0 L464.7,271.9 L465.9,272.9 L467.2,273.9 L468.5,274.8 L469.9,275.8 L471.2,276.8 L472.6,277.8 L474.1,278.8 L475.2,279.6 L476.3,280.3 L477.4,281.1 L478.6,282.0 L479.7,282.8 L480.9,283.7 L482.1,284.5 L483.3,285.4 L484.5,286.3 L485.8,287.2 L487.0,288.1 L488.3,289.0 L489.7,289.9 L491.1,290.7 L492.5,291.6 L493.9,292.4 L495.4,293.3 L496.9,294.1 L498.5,294.8 L500.1,295.6 L501.7,296.3 L503.4,297.0 L504.7,297.6 L506.1,298.1 L507.5,298.6 L509.0,299.1 L510.4,299.6 L511.9,300.1 L513.4,300.5 L514.9,301.0 L516.4,301.4 L517.9,301.9 L519.5,302.3 L521.0,302.7 L522.6,303.1 L524.1,303.5 L525.7,303.8 L527.2,304.2 L528.8,304.6 L530.4,305.0 L531.9,305.3 L533.4,305.6 L535.0,306.0 L536.5,306.3 L538.0,306.6 L539.5,306.9 L541.0,307.1 L542.5,307.4 L544.0,307.7 L545.6,307.9 L547.2,308.2 L548.8,308.4 L550.4,308.6 L551.9,308.8 L553.5,309.0 L555.1,309.2 L556.6,309.4 L558.1,309.5 L559.7,309.6 L561.2,309.8 L562.8,309.9 L564.3,310.0 L565.9,310.0 L567.4,310.1 L569.0,310.2 L570.5,310.2 L572.1,310.2 L573.7,310.3 L575.3,310.3 L577.0,310.3 L578.6,310.3 L580.3,310.3 L582.0,310.3 L583.4,310.2 L585.0,310.2 L586.5,310.2 L588.1,310.1 L589.8,310.1 L591.4,310.0 L593.1,310.0 L594.9,309.9 L596.6,309.8 L598.4,309.7 L600.1,309.6 L601.9,309.5 L603.7,309.3 L605.4,309.2 L607.1,309.0 L608.9,308.8 L610.5,308.6 L612.2,308.3 L613.8,308.1 L615.4,307.9 L616.9,307.7 L618.4,307.4 L619.8,307.2 L621.2,306.9 L622.5,306.7 L623.7,306.4 L624.9,306.1 L625.9,305.9 L627.3,305.5 L630.6,303.9 L633.2,301.4 L634.3,298.5 L634.5,295.9 L634.2,294.0 L633.9,292.9 L634.0,292.3 L628.0,291.7 L627.8,293.1 L628.0,294.7 L628.0,296.0 L627.9,296.9 L627.7,297.3 L627.0,297.8 L624.7,298.5 L624.3,298.6 L623.4,298.7 L622.4,298.8 L621.3,299.0 L620.1,299.1 L618.8,299.2 L617.5,299.3 L616.1,299.3 L614.6,299.4 L613.1,299.4 L611.5,299.5 L609.9,299.5 L608.2,299.5 L606.6,299.6 L604.9,299.6 L603.2,299.6 L601.4,299.6 L599.7,299.6 L598.0,299.6 L596.3,299.7 L594.6,299.7 L592.9,299.7 L591.2,299.8 L589.6,299.8 L587.9,299.8 L586.4,299.8 L584.9,299.8 L583.4,299.8 L582.0,299.7 L580.3,299.7 L578.7,299.7 L577.1,299.6 L575.6,299.6 L574.0,299.5 L572.5,299.5 L571.0,299.4 L569.5,299.3 L568.0,299.2 L566.5,299.1 L565.1,299.0 L563.6,298.9 L562.2,298.7 L560.7,298.6 L559.3,298.4 L557.8,298.3 L556.4,298.1 L555.0,297.9 L553.5,297.7 L552.0,297.4 L550.6,297.2 L549.1,296.9 L547.6,296.6 L546.0,296.3 L544.7,296.1 L543.3,295.8 L541.8,295.5 L540.4,295.2 L539.0,294.8 L537.5,294.5 L536.1,294.1 L534.6,293.8 L533.1,293.4 L531.7,293.0 L530.2,292.6 L528.7,292.2 L527.3,291.8 L525.8,291.4 L524.4,290.9 L522.9,290.5 L521.5,290.0 L520.1,289.5 L518.7,289.0 L517.4,288.6 L516.0,288.1 L514.7,287.6 L513.4,287.0 L512.2,286.5 L511.0,286.0 L509.8,285.5 L508.6,285.0 L507.3,284.3 L506.0,283.6 L504.7,282.9 L503.4,282.2 L502.2,281.5 L501.0,280.7 L499.8,279.9 L498.6,279.1 L497.4,278.3 L496.3,277.5 L495.1,276.6 L493.9,275.8 L492.7,275.0 L491.5,274.1 L490.4,273.2 L489.2,272.4 L488.0,271.5 L486.8,270.6 L485.6,269.8 L484.4,268.9 L483.2,268.0 L481.9,267.2 L480.6,266.3 L479.4,265.4 L478.1,264.5 L476.9,263.6 L475.7,262.7 L474.4,261.8 L473.2,260.8 L472.0,259.9 L470.7,258.9 L469.5,258.0 L468.2,257.0 L467.0,256.1 L465.6,255.2 L464.3,254.3 L462.9,253.5 L461.4,252.7 L460.0,251.9 L458.5,251.1 L457.0,250.4 L455.4,249.7 L453.7,249.0 L451.9,248.3 L450.1,247.7 L448.3,247.1 L446.6,246.5 L444.8,245.9 L443.0,245.4 L441.3,244.9 L439.6,244.5 L437.9,244.0 L436.4,243.6 L434.9,243.2 L433.6,242.9 L432.4,242.6 L431.3,242.3 L430.3,242.0 L429.6,241.8Z" fill="#cfdee3" stroke="#3f7f98" stroke-width="1.3" stroke-linejoin="round"/>
<path d="M520.7,241.8 L521.1,242.1 L521.6,242.6 L522.4,243.4 L523.4,244.4 L524.6,245.5 L525.9,246.7 L527.3,248.1 L528.8,249.5 L530.4,251.0 L532.0,252.5 L533.6,254.0 L535.2,255.4 L536.7,256.9 L538.2,258.2 L539.7,259.4 L541.0,260.6 L542.3,261.6 L543.5,262.4 L544.7,263.1 L547.5,264.0 L550.7,263.6 L552.9,262.5 L554.6,261.3 L556.2,260.0 L557.8,258.6 L559.5,257.2 L561.0,255.7 L562.5,254.4 L563.9,253.1 L565.0,252.2 L565.8,251.6 L565.6,251.7 L563.2,251.9 L560.9,251.1 L561.0,251.2 L561.6,251.9 L562.5,252.9 L563.6,254.2 L564.8,255.7 L566.0,257.4 L567.3,259.1 L568.6,260.8 L569.9,262.5 L571.2,264.1 L572.3,265.6 L573.4,267.0 L574.5,268.2 L575.7,269.3 L579.5,271.0 L583.7,270.0 L585.8,268.4 L587.4,266.8 L589.0,265.0 L590.5,263.3 L592.0,261.6 L593.2,260.2 L594.1,259.4 L593.7,259.5 L590.7,259.9 L587.9,258.3 L588.0,258.5 L588.4,259.1 L589.1,260.1 L589.9,261.4 L590.7,262.9 L591.7,264.5 L592.6,266.2 L593.7,268.1 L594.7,269.9 L595.8,271.8 L596.8,273.6 L597.9,275.4 L598.8,277.1 L599.8,278.7 L600.7,280.2 L601.5,281.5 L602.3,282.6 L603.2,283.7 L606.3,285.8 L610.3,285.8 L612.8,284.7 L614.7,283.5 L616.5,282.1 L618.2,280.6 L620.0,279.2 L621.6,277.8 L623.0,276.5 L624.0,275.7 L624.4,275.4 L621.3,276.0 L618.7,274.9 L619.0,275.2 L619.8,276.3 L620.9,277.7 L622.1,279.3 L623.1,281.0 L624.0,282.4 L624.6,283.4 L624.6,283.2 L624.5,282.8 L624.5,283.8 L624.4,285.4 L624.2,287.4 L624.0,289.5 L623.7,291.7 L623.5,293.6 L623.3,295.3 L623.1,296.6 L623.1,297.3 L632.9,298.7 L633.1,298.1 L633.3,296.9 L633.6,295.2 L634.0,293.2 L634.4,291.1 L634.8,288.8 L635.2,286.7 L635.4,284.7 L635.6,283.0 L635.4,280.8 L634.8,278.8 L634.0,277.1 L633.0,275.2 L631.9,273.2 L630.7,271.2 L629.4,269.3 L628.2,267.5 L626.6,265.9 L622.7,264.0 L618.4,265.0 L616.8,266.1 L615.3,267.3 L613.7,268.7 L612.1,270.1 L610.5,271.5 L609.0,272.7 L607.7,273.7 L606.9,274.3 L607.2,274.2 L609.7,274.2 L612.0,275.6 L611.9,275.5 L611.5,274.8 L610.8,273.8 L610.1,272.5 L609.2,271.1 L608.3,269.4 L607.3,267.7 L606.2,265.9 L605.2,264.0 L604.1,262.2 L603.1,260.3 L602.1,258.5 L601.1,256.8 L600.2,255.3 L599.3,253.8 L598.5,252.6 L597.7,251.4 L596.8,250.3 L593.3,248.1 L588.8,248.6 L586.3,250.2 L584.6,251.9 L583.0,253.6 L581.5,255.4 L580.0,257.1 L578.7,258.6 L577.7,259.5 L577.7,259.6 L580.5,259.0 L583.4,260.1 L583.2,259.9 L582.6,259.2 L581.7,258.1 L580.6,256.8 L579.4,255.2 L578.2,253.6 L576.9,251.9 L575.6,250.1 L574.3,248.4 L573.0,246.8 L571.8,245.3 L570.6,243.9 L569.5,242.7 L568.1,241.5 L564.8,240.1 L561.1,240.6 L559.1,241.7 L557.6,242.8 L556.0,244.1 L554.5,245.4 L552.9,246.9 L551.4,248.3 L549.9,249.7 L548.5,250.8 L547.4,251.7 L546.7,252.3 L546.8,252.2 L548.5,252.0 L550.2,252.5 L550.0,252.3 L549.3,251.8 L548.3,251.1 L547.0,250.2 L545.6,249.2 L544.1,248.0 L542.6,246.8 L540.9,245.5 L539.2,244.1 L537.6,242.8 L535.9,241.4 L534.4,240.1 L532.9,238.9 L531.5,237.7 L530.3,236.7 L529.2,235.8 L528.3,235.1 L527.7,234.6 L527.3,234.2Z" fill="#cfdee3" stroke="#3f7f98" stroke-width="1.3" stroke-linejoin="round"/>
<path d="M579.0,238.0 C578.0,241.0 572.8,248.7 573.0,256.0 C573.2,263.3 579.0,274.2 580.0,282.0 C581.0,289.8 581.7,297.7 579.0,303.0 C576.3,308.3 569.5,311.2 564.0,314.0 C558.5,316.8 551.7,319.3 546.0,320.0 C540.3,320.7 532.7,318.3 530.0,318.0" fill="none" stroke="#3f7f98" stroke-width="4.4" stroke-linecap="round" stroke-linejoin="round"/><path d="M579.0,238.0 C578.0,241.0 572.8,248.7 573.0,256.0 C573.2,263.3 579.0,274.2 580.0,282.0 C581.0,289.8 581.7,297.7 579.0,303.0 C576.3,308.3 569.5,311.2 564.0,314.0 C558.5,316.8 551.7,319.3 546.0,320.0 C540.3,320.7 532.7,318.3 530.0,318.0" fill="none" stroke="#e3f0ee" stroke-width="1.7" stroke-linecap="round" stroke-linejoin="round"/>
<path d="M490.0,311.0 C494.2,310.3 506.7,308.8 515.0,307.0 C523.3,305.2 535.8,301.2 540.0,300.0" fill="none" stroke="#3f7f98" stroke-width="4.4" stroke-linecap="round" stroke-linejoin="round"/><path d="M490.0,311.0 C494.2,310.3 506.7,308.8 515.0,307.0 C523.3,305.2 535.8,301.2 540.0,300.0" fill="none" stroke="#e3f0ee" stroke-width="1.7" stroke-linecap="round" stroke-linejoin="round"/>
</g>
<path d="M253.7,118.5 C257.7,113.3 258.2,108.5 263.0,104.4 C267.8,100.3 275.9,96.3 282.4,94.0 C288.9,91.7 296.0,91.2 301.8,90.8 C307.6,90.4 312.2,90.5 317.4,91.4 C322.6,92.3 327.6,94.9 333.0,96.0 C338.4,97.1 344.1,98.4 350.0,98.0 C355.9,97.6 362.3,94.1 368.5,93.5 C374.7,92.9 382.2,92.5 387.0,94.2 C391.8,96.0 394.9,100.7 397.0,104.0 C399.1,107.3 399.6,110.2 399.8,114.0 C400.0,117.8 398.2,122.7 398.4,127.0 C398.6,131.3 399.3,136.0 401.0,140.0 C402.7,144.0 403.7,147.0 408.8,151.0 C413.9,155.0 426.1,159.7 431.5,164.0 C436.9,168.3 440.2,173.4 441.3,177.0 C442.4,180.6 440.7,183.6 438.0,185.3 C435.3,187.0 432.6,186.5 425.0,187.0 C417.4,187.5 400.1,187.2 392.5,188.5 C384.9,189.8 383.6,192.0 379.5,195.0 C375.4,198.0 371.2,203.1 368.0,206.4 C364.8,209.7 361.5,210.8 360.0,214.6 C358.5,218.4 360.6,224.8 358.8,229.3 C357.1,233.8 352.6,237.4 349.5,241.8 C346.4,246.2 343.1,251.2 340.0,255.8 C336.9,260.4 334.7,265.8 330.8,269.7 C326.9,273.6 321.7,276.8 316.8,279.0 C311.9,281.2 306.0,282.7 301.3,283.0 C296.6,283.3 292.8,282.6 288.9,280.6 C285.0,278.7 281.0,275.0 278.0,271.3 C275.0,267.6 273.3,262.8 270.7,258.6 C268.1,254.4 265.8,249.4 262.2,245.9 C258.6,242.4 254.3,239.6 249.4,237.4 C244.5,235.2 237.4,235.1 232.5,233.0 C227.6,230.9 223.1,228.5 219.7,224.6 C216.3,220.7 213.7,215.5 212.3,209.8 C210.9,204.2 210.3,197.1 211.2,190.7 C212.1,184.3 214.4,177.6 217.6,171.6 C220.8,165.6 226.8,160.6 230.3,154.6 C233.8,148.6 234.9,141.5 238.8,135.5 C242.7,129.5 249.7,123.7 253.7,118.5Z" fill="#cfbadd" stroke="#66507a" stroke-width="1.5"/>
<path d="M277.0,141.6 C277.8,137.0 281.3,130.3 284.3,127.0 C287.3,123.7 291.4,122.3 295.0,121.7 C298.6,121.1 304.6,121.1 306.0,123.5 C307.4,125.9 304.8,131.5 303.3,136.0 C301.8,140.5 299.6,147.0 297.0,150.7 C294.4,154.4 290.9,157.4 288.0,158.0 C285.1,158.6 281.6,157.0 279.8,154.3 C278.0,151.6 276.2,146.2 277.0,141.6Z" fill="#a8a5d6" stroke="#5f5286" stroke-width="1.3"/>
<path d="M328.7,148.8 C329.9,144.3 334.2,136.6 339.6,132.5 C345.1,128.4 356.0,124.3 361.4,124.0 C366.8,123.7 371.0,126.6 372.2,130.7 C373.4,134.8 372.2,144.0 368.6,148.8 C365.0,153.6 356.6,157.9 350.5,159.7 C344.4,161.5 335.9,161.5 332.3,159.7 C328.7,157.9 327.5,153.3 328.7,148.8Z" fill="#a8a5d6" stroke="#5f5286" stroke-width="1.3"/>
<ellipse cx="259.9" cy="196.0" rx="18.0" ry="16.0" fill="#a8a5d6" stroke="#5f5286" stroke-width="1.3" transform="rotate(0 259.9 196.0)"/>
<ellipse cx="339.5" cy="193.0" rx="12.5" ry="13.6" fill="#a8a5d6" stroke="#5f5286" stroke-width="1.3" transform="rotate(0 339.5 193.0)"/>
<ellipse cx="336.8" cy="216.8" rx="13.7" ry="17.2" fill="#a8a5d6" stroke="#5f5286" stroke-width="1.3" transform="rotate(0 336.8 216.8)"/>
<ellipse cx="304.0" cy="249.5" rx="15.4" ry="13.6" fill="#a8a5d6" stroke="#5f5286" stroke-width="1.3" transform="rotate(0 304.0 249.5)"/>
<path d="M281.0,170.0 C281.3,169.3 286.3,167.9 287.0,168.0 C287.7,168.1 291.9,170.5 292.0,171.0 C292.1,171.5 289.1,174.5 289.0,175.0 C288.9,175.5 291.4,178.8 291.0,179.0 C290.6,179.2 283.7,178.6 283.0,178.0 C282.3,177.4 280.7,170.7 281.0,170.0Z" fill="#f8f0d2" stroke="#6e6068" stroke-width="1.0" stroke-linejoin="round"/>
<path d="M306.0,172.0 C306.3,171.3 311.2,168.1 312.0,168.0 C312.8,167.9 317.5,169.5 318.0,170.0 C318.5,170.5 319.4,175.4 319.0,176.0 C318.6,176.6 312.8,178.9 312.0,179.0 C311.2,179.1 307.4,178.5 307.0,178.0 C306.6,177.5 305.7,172.7 306.0,172.0Z" fill="#f8f0d2" stroke="#6e6068" stroke-width="1.0" stroke-linejoin="round"/>
<path d="M288.0,208.0 C288.2,207.3 291.6,204.7 292.0,205.0 C292.4,205.3 293.7,211.1 294.0,212.0 C294.3,212.9 296.2,217.3 296.0,218.0 C295.8,218.7 291.7,222.8 291.0,223.0 C290.3,223.2 286.1,221.5 286.0,221.0 C285.9,220.5 288.9,215.9 289.0,215.0 C289.1,214.1 287.8,208.7 288.0,208.0Z" fill="#f8f0d2" stroke="#6e6068" stroke-width="1.0" stroke-linejoin="round"/>
<path d="M262.3,93.5 C258.6,91.1 254.3,90.1 251.4,84.6 C249.9,82.6 250.3,79.8 252.4,78.4 C254.4,76.9 257.2,77.3 258.6,79.4 C260.8,83.7 259.9,90.2 263.7,92.5 Z" fill="#f3dcef" stroke="#7d6590" stroke-width="1.2"/>
<path d="M284.3,87.5 C279.2,84.3 274.4,82.1 270.4,74.7 C268.9,72.7 269.3,69.8 271.3,68.4 C273.3,66.9 276.2,67.3 277.6,69.3 C280.6,75.2 280.6,83.3 285.7,86.5 Z" fill="#f3dcef" stroke="#7d6590" stroke-width="1.2"/>
<path d="M292.2,89.0 C289.9,82.5 287.5,77.1 288.0,67.2 C287.9,65.0 289.6,63.1 291.8,63.0 C294.0,62.9 295.9,64.6 296.0,66.8 C295.4,74.6 291.5,82.5 293.8,89.0 Z" fill="#f3dcef" stroke="#7d6590" stroke-width="1.2"/>
<path d="M300.1,98.4 C308.4,92.4 306.9,82.0 312.9,68.8 C314.7,66.0 318.4,65.2 321.2,66.9 C324.0,68.7 324.8,72.4 323.1,75.2 C318.7,85.7 310.3,93.5 301.9,99.6 Z" fill="#f3dcef" stroke="#7d6590" stroke-width="1.2"/>
<path d="M329.2,97.8 C329.2,94.7 327.4,91.8 328.6,87.3 C328.9,85.4 330.8,84.2 332.7,84.6 C334.6,84.9 335.8,86.8 335.4,88.7 C334.4,92.1 330.8,95.0 330.8,98.2 Z" fill="#f3dcef" stroke="#7d6590" stroke-width="1.2"/>
<path d="M347.2,85.4 C342.7,81.2 338.1,78.3 335.5,70.1 C334.3,67.6 335.4,64.7 337.9,63.5 C340.4,62.3 343.3,63.4 344.5,65.9 C346.3,72.3 344.4,80.5 348.8,84.6 Z" fill="#f3dcef" stroke="#7d6590" stroke-width="1.2"/>
<path d="M363.0,93.2 C359.4,84.2 354.4,77.2 352.6,63.0 C352.0,60.1 354.0,57.2 357.0,56.6 C359.9,56.0 362.8,58.0 363.4,61.0 C364.6,72.0 361.3,83.9 365.0,92.8 Z" fill="#f3dcef" stroke="#7d6590" stroke-width="1.2"/>
<path d="M385.2,100.8 C384.5,95.5 383.8,91.1 386.6,84.2 C387.1,82.3 389.0,81.1 390.8,81.6 C392.7,82.1 393.9,84.0 393.4,85.8 C391.0,91.2 386.1,95.9 386.8,101.2 Z" fill="#f3dcef" stroke="#7d6590" stroke-width="1.2"/>
<path d="M389.7,107.1 C393.9,103.7 397.0,99.5 404.5,98.2 C407.1,97.4 409.9,98.9 410.8,101.5 C411.6,104.1 410.1,106.9 407.5,107.8 C401.6,108.6 394.5,105.4 390.3,108.9 Z" fill="#f3dcef" stroke="#7d6590" stroke-width="1.2"/>
<path d="M384.0,125.9 C393.4,123.4 401.3,120.2 415.2,122.0 C418.5,122.1 421.1,124.9 421.0,128.2 C420.9,131.5 418.1,134.1 414.8,134.0 C404.0,132.3 393.4,125.6 384.0,128.1 Z" fill="#f3dcef" stroke="#7d6590" stroke-width="1.2"/>
<path d="M415.8,143.9 C419.9,141.2 422.9,136.6 429.8,136.1 C433.1,135.5 436.2,137.6 436.9,140.8 C437.5,144.1 435.4,147.2 432.2,147.9 C426.7,148.0 420.4,143.4 416.2,146.1 Z" fill="#f3dcef" stroke="#7d6590" stroke-width="1.2"/>
<path d="M396.2,152.8 C402.9,156.8 410.1,150.7 421.2,151.1 C425.0,151.7 427.5,155.3 426.9,159.2 C426.3,163.0 422.7,165.5 418.8,164.9 C410.2,164.9 402.5,159.3 395.8,155.2 Z" fill="#f3dcef" stroke="#7d6590" stroke-width="1.2"/>
<path d="M364.5,198.3 C367.5,193.6 369.2,188.6 376.1,184.9 C378.3,183.3 381.5,183.8 383.1,186.1 C384.7,188.3 384.2,191.5 381.9,193.1 C376.4,195.7 368.5,195.1 365.5,199.7 Z" fill="#f3dcef" stroke="#7d6590" stroke-width="1.2"/>
<path d="M393.8,203.2 C396.4,201.1 398.2,197.9 402.9,197.2 C405.0,196.5 407.2,197.7 407.8,199.9 C408.5,202.0 407.3,204.2 405.1,204.8 C401.5,205.3 396.9,202.7 394.2,204.8 Z" fill="#f3dcef" stroke="#7d6590" stroke-width="1.2"/>
<path d="M362.6,216.6 C368.5,212.2 372.6,205.7 382.9,204.3 C387.2,203.1 391.6,205.6 392.7,209.9 C393.9,214.2 391.4,218.6 387.1,219.7 C379.0,220.5 369.3,214.9 363.4,219.4 Z" fill="#f3dcef" stroke="#7d6590" stroke-width="1.2"/>
<path d="M363.3,227.2 C366.1,227.6 369.5,225.1 373.4,226.7 C375.8,227.5 377.1,230.1 376.3,232.4 C375.5,234.8 372.9,236.1 370.6,235.3 C367.5,233.9 365.6,229.1 362.7,228.8 Z" fill="#f3dcef" stroke="#7d6590" stroke-width="1.2"/>
<path d="M348.4,245.0 C353.3,245.1 358.4,242.9 364.4,246.5 C367.4,247.8 368.8,251.3 367.5,254.4 C366.2,257.4 362.7,258.8 359.6,257.5 C355.1,254.6 352.5,247.1 347.6,247.0 Z" fill="#f3dcef" stroke="#7d6590" stroke-width="1.2"/>
<path d="M331.8,244.3 C334.0,251.1 342.3,251.4 349.6,258.2 C351.7,260.7 351.4,264.5 348.8,266.6 C346.3,268.7 342.5,268.4 340.4,265.8 C334.4,260.7 332.3,252.5 330.2,245.7 Z" fill="#f3dcef" stroke="#7d6590" stroke-width="1.2"/>
<path d="M331.8,270.8 C332.9,273.4 336.3,275.0 336.9,279.1 C337.4,281.3 336.0,283.4 333.9,283.9 C331.7,284.4 329.6,283.0 329.1,280.9 C328.7,277.7 331.4,273.8 330.2,271.2 Z" fill="#f3dcef" stroke="#7d6590" stroke-width="1.2"/>
<path d="M311.7,284.6 C312.9,285.9 315.4,286.1 316.6,288.5 C317.4,289.9 317.0,291.7 315.5,292.6 C314.1,293.4 312.3,293.0 311.4,291.5 C310.5,289.7 311.5,286.7 310.3,285.4 Z" fill="#f3dcef" stroke="#7d6590" stroke-width="1.2"/>
<path d="M287.6,270.6 C285.5,275.7 284.7,280.9 278.5,285.5 C276.6,287.5 273.4,287.5 271.5,285.5 C269.5,283.6 269.5,280.4 271.5,278.5 C276.4,275.0 284.2,274.4 286.4,269.4 Z" fill="#f3dcef" stroke="#7d6590" stroke-width="1.2"/>
<path d="M284.2,259.4 C276.1,258.3 270.7,266.9 259.2,269.9 C254.8,270.6 250.8,267.6 250.1,263.2 C249.4,258.8 252.4,254.8 256.8,254.1 C265.7,251.5 275.6,255.4 283.8,256.6 Z" fill="#f3dcef" stroke="#7d6590" stroke-width="1.2"/>
<path d="M241.9,220.5 C240.9,229.3 240.6,236.8 233.3,246.9 C231.7,249.8 228.1,250.9 225.1,249.3 C222.2,247.7 221.1,244.1 222.7,241.1 C228.7,233.5 239.0,228.2 240.1,219.5 Z" fill="#f3dcef" stroke="#7d6590" stroke-width="1.2"/>
<path d="M254.8,226.1 C255.2,229.7 257.8,233.0 257.0,238.3 C256.8,240.5 254.9,242.2 252.7,242.0 C250.5,241.8 248.8,239.9 249.0,237.7 C249.7,233.5 253.6,229.6 253.2,225.9 Z" fill="#f3dcef" stroke="#7d6590" stroke-width="1.2"/>
<path d="M217.5,218.7 C216.5,219.9 217.9,223.8 216.0,225.0 C213.8,226.7 210.7,226.2 209.0,224.0 C207.3,221.8 207.8,218.7 210.0,217.0 C211.5,216.1 215.4,218.4 216.5,217.3 Z" fill="#f3dcef" stroke="#7d6590" stroke-width="1.2"/>
<path d="M219.4,187.8 C216.4,191.5 214.6,196.0 208.4,198.4 C205.9,199.7 202.9,198.8 201.6,196.4 C200.3,193.9 201.2,190.9 203.6,189.6 C208.6,187.9 215.5,189.9 218.6,186.2 Z" fill="#f3dcef" stroke="#7d6590" stroke-width="1.2"/>
<path d="M229.4,174.8 C223.4,173.0 217.6,172.6 211.6,166.3 C209.2,164.4 208.8,160.9 210.7,158.6 C212.6,156.2 216.1,155.8 218.4,157.7 C223.0,162.8 224.7,171.4 230.6,173.2 Z" fill="#f3dcef" stroke="#7d6590" stroke-width="1.2"/>
<path d="M229.8,156.4 C224.0,149.7 217.9,144.5 215.4,132.3 C214.1,128.6 216.1,124.6 219.7,123.4 C223.4,122.1 227.4,124.1 228.6,127.7 C230.2,137.4 226.4,148.9 232.2,155.6 Z" fill="#f3dcef" stroke="#7d6590" stroke-width="1.2"/>
<path d="M254.1,123.3 C249.9,124.4 246.8,130.0 240.5,130.0 C236.6,130.3 233.3,127.4 233.0,123.5 C232.7,119.6 235.6,116.3 239.5,116.0 C244.4,116.1 249.8,121.9 253.9,120.7 Z" fill="#f3dcef" stroke="#7d6590" stroke-width="1.2"/>
<path d="M272.0,113.9 C269.0,114.5 266.5,118.3 262.0,118.0 C259.2,118.0 257.0,115.8 257.0,113.0 C257.0,110.2 259.2,108.0 262.0,108.0 C265.5,108.3 269.0,112.7 272.0,112.1 Z" fill="#f3dcef" stroke="#7d6590" stroke-width="1.2"/>
<path d="M239.8,96.8 C242.7,100.7 249.9,96.4 256.2,99.2 C260.0,101.5 261.1,106.4 258.8,110.2 C256.5,114.0 251.6,115.1 247.8,112.8 C242.8,110.8 241.2,103.2 238.2,99.2 Z" fill="#f3dcef" stroke="#7d6590" stroke-width="1.2"/>
<g stroke="#111" stroke-width="1.2" fill="none">
<line x1="283.4" y1="51" x2="319.6" y2="121.6"/>
<line x1="397.6" y1="50.9" x2="368.6" y2="67.2"/>
<line x1="163.4" y1="297.6" x2="288.8" y2="221"/>
<line x1="611" y1="61" x2="592" y2="77"/>
</g>
<path d="M245.3,107.0 C243.8,104.8 238.7,97.7 236.0,94.0 C233.3,90.3 230.2,86.6 229.0,85.1" fill="none" stroke="#fbe4de" stroke-width="3.7" stroke-linecap="round" opacity="0.45"/><path d="M245.3,107.0 C243.8,104.8 238.7,97.7 236.0,94.0 C233.3,90.3 230.2,86.6 229.0,85.1" fill="none" stroke="#d01c25" stroke-width="2.5" stroke-linecap="round"/><path d="M223.5,78.0 L238.6,86.2 L230.0,86.3 L227.8,94.6 Z" fill="#d01c25" stroke="#d01c25" stroke-width="0.6"/>
<path d="M317.8,95.0 C317.5,92.2 316.7,82.6 316.0,78.0 C315.3,73.4 314.2,69.0 313.8,67.2" fill="none" stroke="#fbe4de" stroke-width="3.7" stroke-linecap="round" opacity="0.45"/><path d="M317.8,95.0 C317.5,92.2 316.7,82.6 316.0,78.0 C315.3,73.4 314.2,69.0 313.8,67.2" fill="none" stroke="#d01c25" stroke-width="2.5" stroke-linecap="round"/><path d="M312.0,58.4 L321.8,72.5 L314.1,68.7 L308.5,75.2 Z" fill="#d01c25" stroke="#d01c25" stroke-width="0.6"/>
<path d="M357.7,99.8 C359.8,97.8 366.8,90.6 370.0,88.0 C373.2,85.4 375.9,84.9 377.1,84.2" fill="none" stroke="#fbe4de" stroke-width="3.7" stroke-linecap="round" opacity="0.45"/><path d="M357.7,99.8 C359.8,97.8 366.8,90.6 370.0,88.0 C373.2,85.4 375.9,84.9 377.1,84.2" fill="none" stroke="#d01c25" stroke-width="2.5" stroke-linecap="round"/><path d="M385.0,80.0 L374.3,93.4 L375.7,84.9 L367.9,81.4 Z" fill="#d01c25" stroke="#d01c25" stroke-width="0.6"/>
<path d="M230.8,170.6 C228.0,170.5 218.3,169.7 214.0,170.0 C209.7,170.3 206.5,171.8 205.1,172.1" fill="none" stroke="#fbe4de" stroke-width="3.7" stroke-linecap="round" opacity="0.45"/><path d="M230.8,170.6 C228.0,170.5 218.3,169.7 214.0,170.0 C209.7,170.3 206.5,171.8 205.1,172.1" fill="none" stroke="#d01c25" stroke-width="2.5" stroke-linecap="round"/><path d="M196.3,174.2 L210.1,163.9 L206.5,171.8 L213.2,177.2 Z" fill="#d01c25" stroke="#d01c25" stroke-width="0.6"/>
<path d="M390.4,187.0 C393.0,186.5 402.1,184.6 406.0,184.0 C409.9,183.4 412.7,183.7 414.0,183.7" fill="none" stroke="#fbe4de" stroke-width="3.7" stroke-linecap="round" opacity="0.45"/><path d="M390.4,187.0 C393.0,186.5 402.1,184.6 406.0,184.0 C409.9,183.4 412.7,183.7 414.0,183.7" fill="none" stroke="#d01c25" stroke-width="2.5" stroke-linecap="round"/><path d="M423.0,183.3 L407.5,190.7 L412.5,183.7 L407.0,177.2 Z" fill="#d01c25" stroke="#d01c25" stroke-width="0.6"/>
<path d="M256.0,226.8 C253.7,228.3 245.6,233.6 242.0,236.0 C238.4,238.4 235.7,240.5 234.5,241.4" fill="none" stroke="#fbe4de" stroke-width="3.7" stroke-linecap="round" opacity="0.45"/><path d="M256.0,226.8 C253.7,228.3 245.6,233.6 242.0,236.0 C238.4,238.4 235.7,240.5 234.5,241.4" fill="none" stroke="#d01c25" stroke-width="2.5" stroke-linecap="round"/><path d="M227.2,246.7 L236.0,232.0 L235.7,240.5 L243.9,243.0 Z" fill="#d01c25" stroke="#d01c25" stroke-width="0.6"/>
<path d="M368.6,219.5 C370.5,221.6 377.4,228.8 380.0,232.0 C382.6,235.2 383.4,237.8 384.1,238.9" fill="none" stroke="#fbe4de" stroke-width="3.7" stroke-linecap="round" opacity="0.45"/><path d="M368.6,219.5 C370.5,221.6 377.4,228.8 380.0,232.0 C382.6,235.2 383.4,237.8 384.1,238.9" fill="none" stroke="#d01c25" stroke-width="2.5" stroke-linecap="round"/><path d="M388.6,246.7 L374.8,236.5 L383.3,237.6 L386.5,229.7 Z" fill="#d01c25" stroke="#d01c25" stroke-width="0.6"/>
<path d="M307.0,263.0 C307.2,265.5 307.9,274.3 308.0,278.0 C308.1,281.7 307.6,283.8 307.6,285.0" fill="none" stroke="#fbe4de" stroke-width="3.7" stroke-linecap="round" opacity="0.45"/><path d="M307.0,263.0 C307.2,265.5 307.9,274.3 308.0,278.0 C308.1,281.7 307.6,283.8 307.6,285.0" fill="none" stroke="#d01c25" stroke-width="2.5" stroke-linecap="round"/><path d="M307.0,294.0 L301.2,277.9 L307.7,283.5 L314.8,278.7 Z" fill="#d01c25" stroke="#d01c25" stroke-width="0.6"/>
<path d="M369.7,332.4 C369.1,327.0 368.6,309.1 366.0,300.0 C363.4,290.9 358.4,283.4 354.0,278.0 C349.6,272.6 342.1,269.4 339.7,267.7" fill="none" stroke="#fbe4de" stroke-width="3.7" stroke-linecap="round" opacity="0.45"/><path d="M369.7,332.4 C369.1,327.0 368.6,309.1 366.0,300.0 C363.4,290.9 358.4,283.4 354.0,278.0 C349.6,272.6 342.1,269.4 339.7,267.7" fill="none" stroke="#d01c25" stroke-width="2.5" stroke-linecap="round"/><path d="M332.4,262.4 L349.1,266.1 L340.9,268.5 L341.2,277.1 Z" fill="#d01c25" stroke="#d01c25" stroke-width="0.6"/>
<path d="M444.3,268.7 C447.2,271.9 457.2,280.3 462.0,288.0 C466.8,295.7 470.9,307.0 473.0,315.0 C475.1,323.0 474.4,332.4 474.7,335.8" fill="none" stroke="#fbe4de" stroke-width="3.7" stroke-linecap="round" opacity="0.45"/><path d="M444.3,268.7 C447.2,271.9 457.2,280.3 462.0,288.0 C466.8,295.7 470.9,307.0 473.0,315.0 C475.1,323.0 474.4,332.4 474.7,335.8" fill="none" stroke="#d01c25" stroke-width="2.5" stroke-linecap="round"/><path d="M475.4,344.8 L467.4,329.6 L474.6,334.3 L480.9,328.6 Z" fill="#d01c25" stroke="#d01c25" stroke-width="0.6"/>
<path d="M240.7,403.6 C235.8,401.3 221.7,391.9 211.6,390.0 C201.5,388.1 189.9,389.7 180.0,392.0 C170.1,394.3 156.6,401.6 151.9,403.6" fill="none" stroke="#fbe4de" stroke-width="3.7" stroke-linecap="round" opacity="0.45"/><path d="M240.7,403.6 C235.8,401.3 221.7,391.9 211.6,390.0 C201.5,388.1 189.9,389.7 180.0,392.0 C170.1,394.3 156.6,401.6 151.9,403.6" fill="none" stroke="#d01c25" stroke-width="2.5" stroke-linecap="round"/><path d="M143.6,407.0 L155.6,394.7 L153.3,403.0 L160.8,407.3 Z" fill="#d01c25" stroke="#d01c25" stroke-width="0.6"/>
<path d="M128.0,425.0 C125.7,432.1 116.1,454.9 114.4,467.7 C112.7,480.5 116.0,493.8 118.0,502.0 C120.0,510.2 125.1,514.6 126.6,517.2" fill="none" stroke="#fbe4de" stroke-width="3.7" stroke-linecap="round" opacity="0.45"/><path d="M128.0,425.0 C125.7,432.1 116.1,454.9 114.4,467.7 C112.7,480.5 116.0,493.8 118.0,502.0 C120.0,510.2 125.1,514.6 126.6,517.2" fill="none" stroke="#d01c25" stroke-width="2.5" stroke-linecap="round"/><path d="M131.0,525.0 L117.3,514.6 L125.8,515.9 L129.2,507.9 Z" fill="#d01c25" stroke="#d01c25" stroke-width="0.6"/>
<path d="M147.4,543.5 C154.2,545.8 176.1,555.6 188.2,557.0 C200.3,558.4 211.9,554.2 220.0,552.0 C228.1,549.8 233.8,545.0 236.6,543.7" fill="none" stroke="#fbe4de" stroke-width="3.7" stroke-linecap="round" opacity="0.45"/><path d="M147.4,543.5 C154.2,545.8 176.1,555.6 188.2,557.0 C200.3,558.4 211.9,554.2 220.0,552.0 C228.1,549.8 233.8,545.0 236.6,543.7" fill="none" stroke="#d01c25" stroke-width="2.5" stroke-linecap="round"/><path d="M244.6,539.6 L233.6,552.8 L235.2,544.3 L227.5,540.6 Z" fill="#d01c25" stroke="#d01c25" stroke-width="0.6"/>
<path d="M260.0,522.0 C262.3,514.2 272.1,488.3 273.8,475.5 C275.5,462.7 272.0,452.7 270.0,445.0 C268.0,437.3 263.4,431.7 262.0,429.0" fill="none" stroke="#fbe4de" stroke-width="3.7" stroke-linecap="round" opacity="0.45"/><path d="M260.0,522.0 C262.3,514.2 272.1,488.3 273.8,475.5 C275.5,462.7 272.0,452.7 270.0,445.0 C268.0,437.3 263.4,431.7 262.0,429.0" fill="none" stroke="#d01c25" stroke-width="2.5" stroke-linecap="round"/><path d="M258.0,421.0 L271.1,432.0 L262.7,430.4 L259.0,438.1 Z" fill="#d01c25" stroke="#d01c25" stroke-width="0.6"/>
<path d="M543.0,455.0 C540.8,451.8 536.3,441.8 530.0,436.0 C523.7,430.2 512.1,423.4 505.0,420.0 C497.9,416.6 490.1,416.5 487.2,415.8" fill="none" stroke="#fbe4de" stroke-width="3.7" stroke-linecap="round" opacity="0.45"/><path d="M543.0,455.0 C540.8,451.8 536.3,441.8 530.0,436.0 C523.7,430.2 512.1,423.4 505.0,420.0 C497.9,416.6 490.1,416.5 487.2,415.8" fill="none" stroke="#d01c25" stroke-width="2.5" stroke-linecap="round"/><path d="M478.4,413.8 L495.3,410.7 L488.6,416.2 L492.2,424.0 Z" fill="#d01c25" stroke="#d01c25" stroke-width="0.6"/>
<path d="M570.0,559.0 C568.7,554.2 566.2,537.8 562.0,530.0 C557.8,522.2 550.7,516.1 545.0,512.0 C539.3,507.9 530.8,506.3 528.0,505.2" fill="none" stroke="#fbe4de" stroke-width="3.7" stroke-linecap="round" opacity="0.45"/><path d="M570.0,559.0 C568.7,554.2 566.2,537.8 562.0,530.0 C557.8,522.2 550.7,516.1 545.0,512.0 C539.3,507.9 530.8,506.3 528.0,505.2" fill="none" stroke="#d01c25" stroke-width="2.5" stroke-linecap="round"/><path d="M519.6,501.8 L536.7,501.4 L529.3,505.7 L531.7,514.0 Z" fill="#d01c25" stroke="#d01c25" stroke-width="0.6"/>
<path d="M669.0,579.0 C668.8,573.3 669.2,554.8 668.0,545.0 C666.8,535.2 663.5,525.4 662.0,520.0 C660.5,514.6 659.5,513.6 659.0,512.4" fill="none" stroke="#fbe4de" stroke-width="3.7" stroke-linecap="round" opacity="0.45"/><path d="M669.0,579.0 C668.8,573.3 669.2,554.8 668.0,545.0 C666.8,535.2 663.5,525.4 662.0,520.0 C660.5,514.6 659.5,513.6 659.0,512.4" fill="none" stroke="#d01c25" stroke-width="2.5" stroke-linecap="round"/><path d="M655.7,504.0 L667.8,516.2 L659.5,513.8 L655.1,521.1 Z" fill="#d01c25" stroke="#d01c25" stroke-width="0.6"/>
<path d="M608.0,641.0 C610.8,635.8 620.8,619.3 625.0,610.0 C629.2,600.7 631.6,590.5 633.0,585.0 C634.4,579.5 633.4,578.3 633.5,577.0" fill="none" stroke="#fbe4de" stroke-width="3.7" stroke-linecap="round" opacity="0.45"/><path d="M608.0,641.0 C610.8,635.8 620.8,619.3 625.0,610.0 C629.2,600.7 631.6,590.5 633.0,585.0 C634.4,579.5 633.4,578.3 633.5,577.0" fill="none" stroke="#d01c25" stroke-width="2.5" stroke-linecap="round"/><path d="M634.0,568.0 L639.9,584.1 L633.4,578.5 L626.3,583.3 Z" fill="#d01c25" stroke="#d01c25" stroke-width="0.6"/>
<path d="M620.0,734.0 C624.2,732.0 637.5,727.2 645.0,722.0 C652.5,716.8 660.6,707.9 665.0,703.0 C669.4,698.1 670.3,694.4 671.3,692.7" fill="none" stroke="#fbe4de" stroke-width="3.7" stroke-linecap="round" opacity="0.45"/><path d="M620.0,734.0 C624.2,732.0 637.5,727.2 645.0,722.0 C652.5,716.8 660.6,707.9 665.0,703.0 C669.4,698.1 670.3,694.4 671.3,692.7" fill="none" stroke="#d01c25" stroke-width="2.5" stroke-linecap="round"/><path d="M676.0,685.0 L673.6,702.0 L670.5,694.0 L662.0,694.9 Z" fill="#d01c25" stroke="#d01c25" stroke-width="0.6"/>
<path d="M375.0,768.0 C379.2,765.3 392.5,758.0 400.0,752.0 C407.5,746.0 415.3,737.3 420.0,732.0 C424.7,726.7 426.6,722.4 427.9,720.4" fill="none" stroke="#fbe4de" stroke-width="3.7" stroke-linecap="round" opacity="0.45"/><path d="M375.0,768.0 C379.2,765.3 392.5,758.0 400.0,752.0 C407.5,746.0 415.3,737.3 420.0,732.0 C424.7,726.7 426.6,722.4 427.9,720.4" fill="none" stroke="#d01c25" stroke-width="2.5" stroke-linecap="round"/><path d="M433.0,713.0 L429.7,729.8 L427.1,721.7 L418.5,722.2 Z" fill="#d01c25" stroke="#d01c25" stroke-width="0.6"/>
<text x="72.4" y="39.6" font-size="20.7" textLength="210.0" lengthAdjust="spacingAndGlyphs" transform="rotate(2.60 72.4 39.6)">Multinucleated giant cell</text>
<text x="399.4" y="54.0" font-size="18.9" textLength="54.4" lengthAdjust="spacingAndGlyphs" transform="rotate(2.40 399.4 54.0)">XCL10</text>
<text x="611.8" y="65.0" font-size="18.6" textLength="66.0" lengthAdjust="spacingAndGlyphs" transform="rotate(2.40 611.8 65.0)">MMP-12</text>
<text x="73.6" y="301.2" font-size="20.7" textLength="82.2" lengthAdjust="spacingAndGlyphs" transform="rotate(0.70 73.6 301.2)">? Antigen</text>
<text x="375.3" y="313.1" font-size="19.7" textLength="81.5" lengthAdjust="spacingAndGlyphs" transform="rotate(0.60 375.3 313.1)">Cytokines</text>
<text x="337.0" y="362.5" font-size="19.7" textLength="31.0" lengthAdjust="spacingAndGlyphs" transform="rotate(0.30 337.0 362.5)">IL-2</text>
<text x="337.0" y="382.0" font-size="19.7" textLength="43.6" lengthAdjust="spacingAndGlyphs" transform="rotate(0.30 337.0 382.0)">IFN-<tspan style="font-family:'Liberation Serif',serif">&#947;</tspan></text>
<text x="404.0" y="362.5" font-size="19.7" textLength="52.8" lengthAdjust="spacingAndGlyphs" transform="rotate(0.20 404.0 362.5)">TNF-<tspan style="font-family:'Liberation Serif',serif">&#945;</tspan></text>
<text x="464.5" y="362.0" font-size="19.7" textLength="100.0" lengthAdjust="spacingAndGlyphs" transform="rotate(0.20 464.5 362.0)">Chemokines</text>
<text x="464.5" y="386.8" font-size="19.7" textLength="52.0" lengthAdjust="spacingAndGlyphs" transform="rotate(0.20 464.5 386.8)">-CLC2</text>
<text x="464.5" y="408.5" font-size="19.7" textLength="62.2" lengthAdjust="spacingAndGlyphs" transform="rotate(0.10 464.5 408.5)">-CXCL8</text>
<text x="92.4" y="358.0" font-size="20.7" textLength="85.4" lengthAdjust="spacingAndGlyphs" transform="rotate(0.80 92.4 358.0)">Monocyte</text>
<text x="215.5" y="358.9" font-size="20.4" textLength="105.7" lengthAdjust="spacingAndGlyphs" transform="rotate(0.60 215.5 358.9)">Macrophage</text>
<text x="552.0" y="413.4" font-size="18.9" textLength="76.6" lengthAdjust="spacingAndGlyphs" transform="rotate(0.00 552.0 413.4)">Monocyte</text>
<text x="661.7" y="413.4" font-size="18.7" textLength="94.6" lengthAdjust="spacingAndGlyphs" transform="rotate(0.00 661.7 413.4)">Macrophage</text>
<text x="91.0" y="603.7" font-size="20.7" textLength="40.9" lengthAdjust="spacingAndGlyphs" transform="rotate(-0.60 91.0 603.7)">Th 1</text>
<text x="201.9" y="601.8" font-size="20.4" textLength="97.0" lengthAdjust="spacingAndGlyphs" transform="rotate(-0.50 201.9 601.8)">Dendrocyte</text>
</g>
<polygon points="66.0,2.5 771.0,36.0 771.0,764.5 66.0,797.0" fill="none" stroke="#000" stroke-opacity="0.16" stroke-width="1.2"/>
</svg>
</body></html>
